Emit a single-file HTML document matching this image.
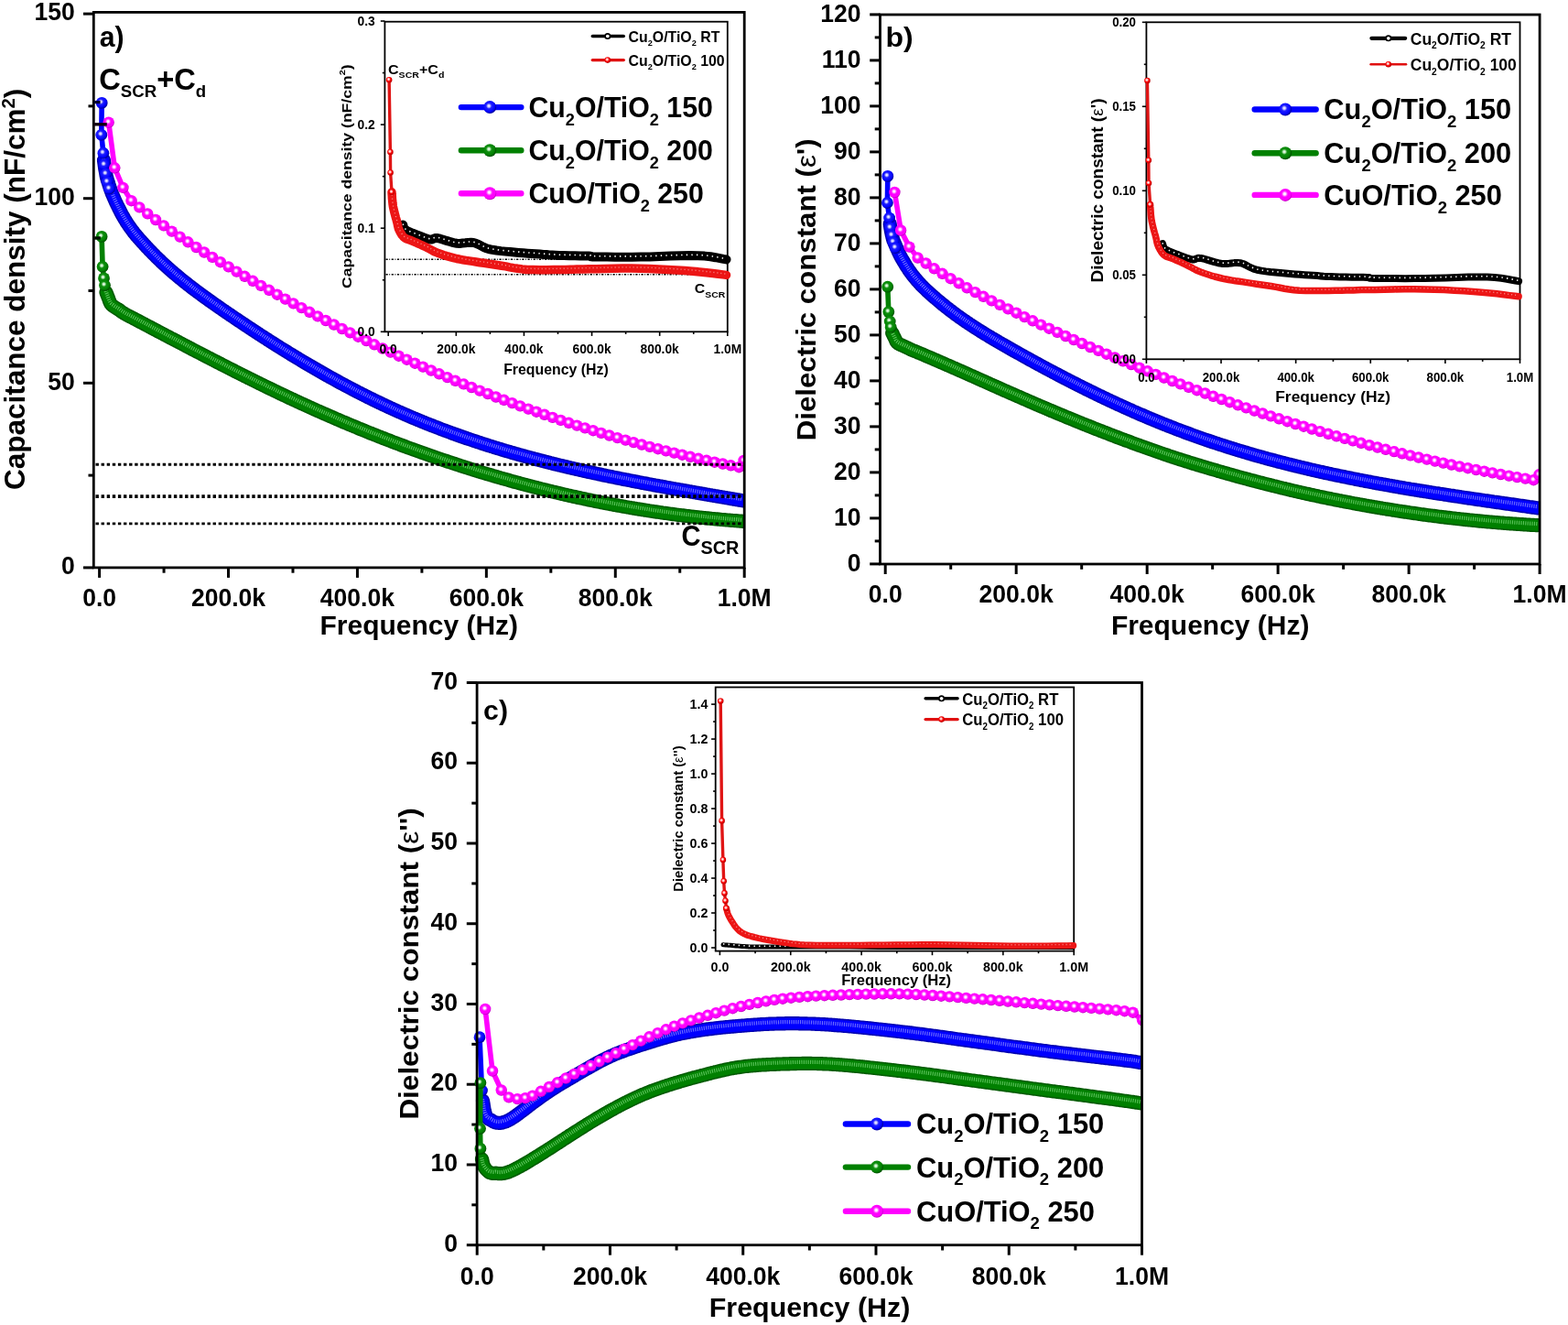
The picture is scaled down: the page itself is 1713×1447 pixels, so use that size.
<!DOCTYPE html><html><head><meta charset="utf-8"><title>Figure</title><style>html,body{margin:0;padding:0;background:#fff}svg{display:block}text{font-family:"Liberation Sans",Arial,sans-serif;font-weight:bold}</style></head><body>
<svg width="1713" height="1447" viewBox="0 0 1713 1447">
<defs>
<radialGradient id="gP" cx="0.45" cy="0.42" r="0.55"><stop offset="0" stop-color="#fff"/><stop offset="0.16" stop-color="#ffe6ff"/><stop offset="0.36" stop-color="#ff40ff"/><stop offset="0.5" stop-color="#f0f"/><stop offset="0.86" stop-color="#f0f"/><stop offset="1" stop-color="#c400c4"/></radialGradient>
<radialGradient id="gB" cx="0.42" cy="0.4" r="0.55"><stop offset="0" stop-color="#fff"/><stop offset="0.18" stop-color="#c0c0ff"/><stop offset="0.4" stop-color="#2020ff"/><stop offset="0.85" stop-color="#00f"/><stop offset="1" stop-color="#0000a8"/></radialGradient>
<radialGradient id="gG" cx="0.42" cy="0.4" r="0.55"><stop offset="0" stop-color="#fff"/><stop offset="0.18" stop-color="#b8e8b8"/><stop offset="0.4" stop-color="#109010"/><stop offset="0.85" stop-color="#008000"/><stop offset="1" stop-color="#005800"/></radialGradient>
<radialGradient id="gR" cx="0.42" cy="0.4" r="0.55"><stop offset="0" stop-color="#fff"/><stop offset="0.3" stop-color="#ffb0b0"/><stop offset="0.6" stop-color="#f00"/><stop offset="1" stop-color="#c00000"/></radialGradient>
<circle id="mP" r="6.2" fill="url(#gP)"/>
<circle id="mB" r="6.4" fill="url(#gB)"/>
<circle id="mG" r="6.4" fill="url(#gG)"/>
<circle id="mR" r="3.3" fill="url(#gR)"/>
<circle id="mK" r="2.7" fill="#fff" stroke="#000" stroke-width="1.7"/>
<circle id="mBL" r="7" fill="url(#gB)"/>
<circle id="mGL" r="7" fill="url(#gG)"/>
<circle id="mPL" r="7" fill="url(#gP)"/>
</defs>
<rect width="1713" height="1447" fill="#fff"/>
<line x1="91.00" y1="619.90" x2="102.30" y2="619.90" stroke="#000" stroke-width="3.00"/>
<line x1="91.00" y1="418.30" x2="102.30" y2="418.30" stroke="#000" stroke-width="3.00"/>
<line x1="91.00" y1="216.70" x2="102.30" y2="216.70" stroke="#000" stroke-width="3.00"/>
<line x1="91.00" y1="15.10" x2="102.30" y2="15.10" stroke="#000" stroke-width="3.00"/>
<line x1="96.50" y1="519.10" x2="102.30" y2="519.10" stroke="#000" stroke-width="3.00"/>
<line x1="96.50" y1="317.50" x2="102.30" y2="317.50" stroke="#000" stroke-width="3.00"/>
<line x1="96.50" y1="115.90" x2="102.30" y2="115.90" stroke="#000" stroke-width="3.00"/>
<line x1="108.60" y1="619.90" x2="108.60" y2="630.90" stroke="#000" stroke-width="3.00"/>
<line x1="249.52" y1="619.90" x2="249.52" y2="630.90" stroke="#000" stroke-width="3.00"/>
<line x1="390.44" y1="619.90" x2="390.44" y2="630.90" stroke="#000" stroke-width="3.00"/>
<line x1="531.36" y1="619.90" x2="531.36" y2="630.90" stroke="#000" stroke-width="3.00"/>
<line x1="672.28" y1="619.90" x2="672.28" y2="630.90" stroke="#000" stroke-width="3.00"/>
<line x1="813.20" y1="619.90" x2="813.20" y2="630.90" stroke="#000" stroke-width="3.00"/>
<line x1="179.06" y1="619.90" x2="179.06" y2="625.70" stroke="#000" stroke-width="3.00"/>
<line x1="319.98" y1="619.90" x2="319.98" y2="625.70" stroke="#000" stroke-width="3.00"/>
<line x1="460.90" y1="619.90" x2="460.90" y2="625.70" stroke="#000" stroke-width="3.00"/>
<line x1="601.82" y1="619.90" x2="601.82" y2="625.70" stroke="#000" stroke-width="3.00"/>
<line x1="742.74" y1="619.90" x2="742.74" y2="625.70" stroke="#000" stroke-width="3.00"/>
<text transform="translate(67.04,627.10) scale(0.9650,1)" font-size="27.50">0</text>
<text transform="translate(52.29,425.50) scale(0.9650,1)" font-size="27.50">50</text>
<text transform="translate(37.53,223.90) scale(0.9650,1)" font-size="27.50">100</text>
<text transform="translate(37.53,22.30) scale(0.9650,1)" font-size="27.50">150</text>
<text transform="translate(90.16,662.30) scale(0.9650,1)" font-size="27.50">0.0</text>
<text transform="translate(208.94,662.30) scale(0.9650,1)" font-size="27.50">200.0k</text>
<text transform="translate(349.86,662.30) scale(0.9650,1)" font-size="27.50">400.0k</text>
<text transform="translate(490.78,662.30) scale(0.9650,1)" font-size="27.50">600.0k</text>
<text transform="translate(631.70,662.30) scale(0.9650,1)" font-size="27.50">800.0k</text>
<text transform="translate(783.70,662.30) scale(0.9650,1)" font-size="27.50">1.0M</text>
<clipPath id="cp1"><rect x="96.30" y="13.40" width="716.90" height="606.50"/></clipPath><g clip-path="url(#cp1)">
<polyline points="111.2,112.4 110.8,147.3 112.9,167.2 114.1,180.0 115.8,190.0 117.4,198.7 119.5,206.1 113.5,175.0" fill="none" stroke="#0000ff" stroke-width="5.6" stroke-linejoin="round" stroke-linecap="round"/>
<path d="M113.5,175.0 L113.7,176.5 L113.9,178.0 L114.1,179.5 L114.3,180.9 L114.5,182.4 L114.7,183.9 L115.0,185.4 L115.3,186.9 L115.5,188.3 L115.8,189.8 L116.0,191.3 L116.3,192.8 L116.7,194.2 L117.1,195.7 L117.5,197.1 L118.0,198.5 L118.5,199.9 L118.9,201.3 L119.4,202.8 L119.8,204.2 L120.3,205.6 L120.8,207.0 L121.3,208.4 L121.8,209.8 L122.3,211.2 L122.9,212.6 L123.5,213.9 L124.1,215.3 L124.7,216.7 L125.3,218.1 L125.9,219.4 L126.5,220.8 L127.2,222.1 L127.8,223.5 L128.5,224.8 L129.2,226.2 L129.8,227.5 L130.5,228.9 L131.2,230.2 L131.8,231.5 L132.5,232.9 L133.2,234.2 L134.0,235.5 L134.7,236.8 L135.5,238.1 L136.2,239.4 L137.0,240.6 L137.8,241.9 L138.6,243.2 L139.4,244.4 L140.2,245.6 L141.1,246.9 L141.9,248.1 L142.8,249.3 L143.7,250.5 L144.6,251.7 L145.5,252.9 L146.4,254.1 L147.3,255.2 L148.3,256.4 L149.2,257.6 L150.2,258.7 L151.2,259.8 L152.2,261.0 L153.2,262.1 L154.2,263.2 L155.2,264.3 L156.2,265.4 L157.2,266.5 L158.2,267.6 L159.2,268.7 L160.2,269.8 L161.3,270.9 L162.3,272.0 L163.3,273.1 L164.4,274.2 L165.4,275.2 L166.5,276.3 L167.5,277.4 L168.6,278.4 L169.6,279.5 L170.7,280.6 L171.8,281.6 L172.8,282.6 L173.9,283.7 L175.0,284.7 L176.1,285.8 L177.2,286.8 L178.3,287.8 L179.4,288.8 L180.5,289.8 L181.6,290.9 L182.7,291.9 L183.8,292.9 L184.9,293.9 L186.1,294.8 L187.2,295.8 L188.3,296.8 L189.5,297.8 L190.6,298.8 L191.7,299.7 L192.9,300.7 L194.0,301.7 L195.2,302.6 L196.3,303.6 L197.5,304.5 L198.7,305.5 L199.8,306.4 L201.0,307.4 L202.2,308.3 L203.4,309.2 L204.5,310.2 L205.7,311.1 L206.9,312.0 L208.1,312.9 L209.3,313.8 L210.5,314.8 L211.7,315.7 L212.9,316.6 L214.1,317.5 L215.3,318.4 L216.5,319.3 L217.7,320.1 L218.9,321.0 L220.1,321.9 L221.3,322.8 L222.5,323.7 L223.7,324.6 L224.9,325.4 L226.2,326.3 L227.4,327.2 L228.6,328.1 L229.8,328.9 L231.1,329.8 L232.3,330.7 L233.5,331.5 L234.7,332.4 L236.0,333.2 L237.2,334.1 L238.4,335.0 L239.7,335.8 L240.9,336.7 L242.1,337.5 L243.4,338.4 L244.6,339.2 L245.8,340.1 L247.1,340.9 L248.3,341.8 L249.5,342.6 L250.8,343.4 L252.0,344.3 L253.3,345.1 L254.5,346.0 L255.7,346.8 L257.0,347.7 L258.2,348.5 L259.5,349.3 L260.7,350.2 L262.0,351.0 L263.2,351.8 L264.5,352.7 L265.7,353.5 L267.0,354.3 L268.2,355.2 L269.5,356.0 L270.7,356.8 L272.0,357.7 L273.2,358.5 L274.5,359.3 L275.7,360.1 L277.0,361.0 L278.2,361.8 L279.5,362.6 L280.7,363.4 L282.0,364.2 L283.2,365.1 L284.5,365.9 L285.8,366.7 L287.0,367.5 L288.3,368.3 L289.5,369.1 L290.8,369.9 L292.1,370.7 L293.3,371.6 L294.6,372.4 L295.9,373.2 L297.1,374.0 L298.4,374.8 L299.7,375.6 L300.9,376.4 L302.2,377.2 L303.5,378.0 L304.7,378.8 L306.0,379.6 L307.3,380.4 L308.6,381.2 L309.8,381.9 L311.1,382.7 L312.4,383.5 L313.7,384.3 L314.9,385.1 L316.2,385.9 L317.5,386.7 L318.8,387.5 L320.1,388.2 L321.3,389.0 L322.6,389.8 L323.9,390.6 L325.2,391.3 L326.5,392.1 L327.8,392.9 L329.1,393.7 L330.3,394.4 L331.6,395.2 L332.9,396.0 L334.2,396.7 L335.5,397.5 L336.8,398.2 L338.1,399.0 L339.4,399.8 L340.7,400.5 L342.0,401.3 L343.3,402.0 L344.6,402.8 L345.9,403.5 L347.2,404.3 L348.5,405.0 L349.8,405.8 L351.1,406.5 L352.4,407.3 L353.7,408.0 L355.0,408.7 L356.3,409.5 L357.6,410.2 L358.9,410.9 L360.2,411.7 L361.5,412.4 L362.8,413.1 L364.2,413.8 L365.5,414.6 L366.8,415.3 L368.1,416.0 L369.4,416.7 L370.7,417.5 L372.0,418.2 L373.4,418.9 L374.7,419.6 L376.0,420.3 L377.3,421.0 L378.7,421.7 L380.0,422.4 L381.3,423.1 L382.6,423.8 L384.0,424.5 L385.3,425.2 L386.6,425.9 L388.0,426.6 L389.3,427.3 L390.6,428.0 L392.0,428.7 L393.3,429.3 L394.6,430.0 L396.0,430.7 L397.3,431.4 L398.6,432.0 L400.0,432.7 L401.3,433.4 L402.7,434.1 L404.0,434.7 L405.4,435.4 L406.7,436.0 L408.0,436.7 L409.4,437.4 L410.7,438.0 L412.1,438.7 L413.5,439.3 L414.8,440.0 L416.2,440.6 L417.5,441.3 L418.9,441.9 L420.2,442.5 L421.6,443.2 L422.9,443.8 L424.3,444.4 L425.7,445.1 L427.0,445.7 L428.4,446.3 L429.8,446.9 L431.1,447.6 L432.5,448.2 L433.9,448.8 L435.2,449.4 L436.6,450.0 L438.0,450.6 L439.3,451.2 L440.7,451.8 L442.1,452.4 L443.5,453.0 L444.8,453.6 L446.2,454.2 L447.6,454.8 L449.0,455.4 L450.4,456.0 L451.7,456.6 L453.1,457.1 L454.5,457.7 L455.9,458.3 L457.3,458.9 L458.7,459.4 L460.1,460.0 L461.4,460.6 L462.8,461.1 L464.2,461.7 L465.6,462.3 L467.0,462.8 L468.4,463.4 L469.8,463.9 L471.2,464.5 L472.6,465.0 L474.0,465.6 L475.4,466.1 L476.8,466.6 L478.2,467.2 L479.6,467.7 L481.0,468.3 L482.4,468.8 L483.8,469.3 L485.2,469.8 L486.6,470.4 L488.0,470.9 L489.4,471.4 L490.8,471.9 L492.2,472.4 L493.6,473.0 L495.0,473.5 L496.5,474.0 L497.9,474.5 L499.3,475.0 L500.7,475.5 L502.1,476.0 L503.5,476.5 L504.9,477.0 L506.4,477.5 L507.8,478.0 L509.2,478.5 L510.6,479.0 L512.0,479.4 L513.4,479.9 L514.9,480.4 L516.3,480.9 L517.7,481.4 L519.1,481.8 L520.6,482.3 L522.0,482.8 L523.4,483.2 L524.8,483.7 L526.3,484.2 L527.7,484.6 L529.1,485.1 L530.5,485.5 L532.0,486.0 L533.4,486.5 L534.8,486.9 L536.3,487.4 L537.7,487.8 L539.1,488.2 L540.6,488.7 L542.0,489.1 L543.4,489.6 L544.9,490.0 L546.3,490.4 L547.7,490.9 L549.2,491.3 L550.6,491.7 L552.1,492.2 L553.5,492.6 L554.9,493.0 L556.4,493.4 L557.8,493.8 L559.2,494.3 L560.7,494.7 L562.1,495.1 L563.6,495.5 L565.0,495.9 L566.5,496.3 L567.9,496.7 L569.3,497.1 L570.8,497.5 L572.2,497.9 L573.7,498.3 L575.1,498.7 L576.6,499.1 L578.0,499.5 L579.5,499.9 L580.9,500.3 L582.4,500.7 L583.8,501.1 L585.3,501.5 L586.7,501.8 L588.2,502.2 L589.6,502.6 L591.1,503.0 L592.5,503.3 L594.0,503.7 L595.4,504.1 L596.9,504.5 L598.3,504.8 L599.8,505.2 L601.3,505.6 L602.7,505.9 L604.2,506.3 L605.6,506.7 L607.1,507.0 L608.5,507.4 L610.0,507.7 L611.4,508.1 L612.9,508.4 L614.4,508.8 L615.8,509.1 L617.3,509.5 L618.7,509.8 L620.2,510.2 L621.7,510.5 L623.1,510.9 L624.6,511.2 L626.0,511.5 L627.5,511.9 L629.0,512.2 L630.4,512.5 L631.9,512.9 L633.4,513.2 L634.8,513.5 L636.3,513.9 L637.7,514.2 L639.2,514.5 L640.7,514.9 L642.1,515.2 L643.6,515.5 L645.1,515.8 L646.5,516.1 L648.0,516.5 L649.5,516.8 L650.9,517.1 L652.4,517.4 L653.9,517.7 L655.3,518.0 L656.8,518.3 L658.3,518.7 L659.7,519.0 L661.2,519.3 L662.7,519.6 L664.1,519.9 L665.6,520.2 L667.1,520.5 L668.5,520.8 L670.0,521.1 L671.5,521.4 L673.0,521.7 L674.4,522.0 L675.9,522.3 L677.4,522.6 L678.8,522.9 L680.3,523.2 L681.8,523.5 L683.2,523.8 L684.7,524.0 L686.2,524.3 L687.7,524.6 L689.1,524.9 L690.6,525.2 L692.1,525.5 L693.6,525.8 L695.0,526.1 L696.5,526.3 L698.0,526.6 L699.4,526.9 L700.9,527.2 L702.4,527.5 L703.9,527.7 L705.3,528.0 L706.8,528.3 L708.3,528.6 L709.8,528.9 L711.2,529.1 L712.7,529.4 L714.2,529.7 L715.7,530.0 L717.1,530.2 L718.6,530.5 L720.1,530.8 L721.6,531.0 L723.0,531.3 L724.5,531.6 L726.0,531.8 L727.5,532.1 L728.9,532.4 L730.4,532.7 L731.9,532.9 L733.4,533.2 L734.8,533.5 L736.3,533.7 L737.8,534.0 L739.3,534.2 L740.7,534.5 L742.2,534.8 L743.7,535.0 L745.2,535.3 L746.7,535.6 L748.1,535.8 L749.6,536.1 L751.1,536.3 L752.6,536.6 L754.0,536.9 L755.5,537.1 L757.0,537.4 L758.5,537.6 L760.0,537.9 L761.4,538.2 L762.9,538.4 L764.4,538.7 L765.9,538.9 L767.3,539.2 L768.8,539.4 L770.3,539.7 L771.8,540.0 L773.3,540.2 L774.7,540.5 L776.2,540.7 L777.7,541.0 L779.2,541.2 L780.6,541.5 L782.1,541.7 L783.6,542.0 L785.1,542.3 L786.6,542.5 L788.0,542.8 L789.5,543.0 L791.0,543.3 L792.5,543.5 L793.9,543.8 L795.4,544.0 L796.9,544.3 L798.4,544.6 L799.9,544.8 L801.3,545.1 L802.8,545.3 L804.3,545.6 L805.8,545.8 L807.2,546.1 L808.7,546.3 L810.2,546.6 L811.7,546.9" fill="none" stroke="#0000b0" stroke-width="15.2" stroke-linejoin="round" stroke-linecap="round"/>
<path d="M113.5,175.0 L113.7,176.5 L113.9,178.0 L114.1,179.5 L114.3,180.9 L114.5,182.4 L114.7,183.9 L115.0,185.4 L115.3,186.9 L115.5,188.3 L115.8,189.8 L116.0,191.3 L116.3,192.8 L116.7,194.2 L117.1,195.7 L117.5,197.1 L118.0,198.5 L118.5,199.9 L118.9,201.3 L119.4,202.8 L119.8,204.2 L120.3,205.6 L120.8,207.0 L121.3,208.4 L121.8,209.8 L122.3,211.2 L122.9,212.6 L123.5,213.9 L124.1,215.3 L124.7,216.7 L125.3,218.1 L125.9,219.4 L126.5,220.8 L127.2,222.1 L127.8,223.5 L128.5,224.8 L129.2,226.2 L129.8,227.5 L130.5,228.9 L131.2,230.2 L131.8,231.5 L132.5,232.9 L133.2,234.2 L134.0,235.5 L134.7,236.8 L135.5,238.1 L136.2,239.4 L137.0,240.6 L137.8,241.9 L138.6,243.2 L139.4,244.4 L140.2,245.6 L141.1,246.9 L141.9,248.1 L142.8,249.3 L143.7,250.5 L144.6,251.7 L145.5,252.9 L146.4,254.1 L147.3,255.2 L148.3,256.4 L149.2,257.6 L150.2,258.7 L151.2,259.8 L152.2,261.0 L153.2,262.1 L154.2,263.2 L155.2,264.3 L156.2,265.4 L157.2,266.5 L158.2,267.6 L159.2,268.7 L160.2,269.8 L161.3,270.9 L162.3,272.0 L163.3,273.1 L164.4,274.2 L165.4,275.2 L166.5,276.3 L167.5,277.4 L168.6,278.4 L169.6,279.5 L170.7,280.6 L171.8,281.6 L172.8,282.6 L173.9,283.7 L175.0,284.7 L176.1,285.8 L177.2,286.8 L178.3,287.8 L179.4,288.8 L180.5,289.8 L181.6,290.9 L182.7,291.9 L183.8,292.9 L184.9,293.9 L186.1,294.8 L187.2,295.8 L188.3,296.8 L189.5,297.8 L190.6,298.8 L191.7,299.7 L192.9,300.7 L194.0,301.7 L195.2,302.6 L196.3,303.6 L197.5,304.5 L198.7,305.5 L199.8,306.4 L201.0,307.4 L202.2,308.3 L203.4,309.2 L204.5,310.2 L205.7,311.1 L206.9,312.0 L208.1,312.9 L209.3,313.8 L210.5,314.8 L211.7,315.7 L212.9,316.6 L214.1,317.5 L215.3,318.4 L216.5,319.3 L217.7,320.1 L218.9,321.0 L220.1,321.9 L221.3,322.8 L222.5,323.7 L223.7,324.6 L224.9,325.4 L226.2,326.3 L227.4,327.2 L228.6,328.1 L229.8,328.9 L231.1,329.8 L232.3,330.7 L233.5,331.5 L234.7,332.4 L236.0,333.2 L237.2,334.1 L238.4,335.0 L239.7,335.8 L240.9,336.7 L242.1,337.5 L243.4,338.4 L244.6,339.2 L245.8,340.1 L247.1,340.9 L248.3,341.8 L249.5,342.6 L250.8,343.4 L252.0,344.3 L253.3,345.1 L254.5,346.0 L255.7,346.8 L257.0,347.7 L258.2,348.5 L259.5,349.3 L260.7,350.2 L262.0,351.0 L263.2,351.8 L264.5,352.7 L265.7,353.5 L267.0,354.3 L268.2,355.2 L269.5,356.0 L270.7,356.8 L272.0,357.7 L273.2,358.5 L274.5,359.3 L275.7,360.1 L277.0,361.0 L278.2,361.8 L279.5,362.6 L280.7,363.4 L282.0,364.2 L283.2,365.1 L284.5,365.9 L285.8,366.7 L287.0,367.5 L288.3,368.3 L289.5,369.1 L290.8,369.9 L292.1,370.7 L293.3,371.6 L294.6,372.4 L295.9,373.2 L297.1,374.0 L298.4,374.8 L299.7,375.6 L300.9,376.4 L302.2,377.2 L303.5,378.0 L304.7,378.8 L306.0,379.6 L307.3,380.4 L308.6,381.2 L309.8,381.9 L311.1,382.7 L312.4,383.5 L313.7,384.3 L314.9,385.1 L316.2,385.9 L317.5,386.7 L318.8,387.5 L320.1,388.2 L321.3,389.0 L322.6,389.8 L323.9,390.6 L325.2,391.3 L326.5,392.1 L327.8,392.9 L329.1,393.7 L330.3,394.4 L331.6,395.2 L332.9,396.0 L334.2,396.7 L335.5,397.5 L336.8,398.2 L338.1,399.0 L339.4,399.8 L340.7,400.5 L342.0,401.3 L343.3,402.0 L344.6,402.8 L345.9,403.5 L347.2,404.3 L348.5,405.0 L349.8,405.8 L351.1,406.5 L352.4,407.3 L353.7,408.0 L355.0,408.7 L356.3,409.5 L357.6,410.2 L358.9,410.9 L360.2,411.7 L361.5,412.4 L362.8,413.1 L364.2,413.8 L365.5,414.6 L366.8,415.3 L368.1,416.0 L369.4,416.7 L370.7,417.5 L372.0,418.2 L373.4,418.9 L374.7,419.6 L376.0,420.3 L377.3,421.0 L378.7,421.7 L380.0,422.4 L381.3,423.1 L382.6,423.8 L384.0,424.5 L385.3,425.2 L386.6,425.9 L388.0,426.6 L389.3,427.3 L390.6,428.0 L392.0,428.7 L393.3,429.3 L394.6,430.0 L396.0,430.7 L397.3,431.4 L398.6,432.0 L400.0,432.7 L401.3,433.4 L402.7,434.1 L404.0,434.7 L405.4,435.4 L406.7,436.0 L408.0,436.7 L409.4,437.4 L410.7,438.0 L412.1,438.7 L413.5,439.3 L414.8,440.0 L416.2,440.6 L417.5,441.3 L418.9,441.9 L420.2,442.5 L421.6,443.2 L422.9,443.8 L424.3,444.4 L425.7,445.1 L427.0,445.7 L428.4,446.3 L429.8,446.9 L431.1,447.6 L432.5,448.2 L433.9,448.8 L435.2,449.4 L436.6,450.0 L438.0,450.6 L439.3,451.2 L440.7,451.8 L442.1,452.4 L443.5,453.0 L444.8,453.6 L446.2,454.2 L447.6,454.8 L449.0,455.4 L450.4,456.0 L451.7,456.6 L453.1,457.1 L454.5,457.7 L455.9,458.3 L457.3,458.9 L458.7,459.4 L460.1,460.0 L461.4,460.6 L462.8,461.1 L464.2,461.7 L465.6,462.3 L467.0,462.8 L468.4,463.4 L469.8,463.9 L471.2,464.5 L472.6,465.0 L474.0,465.6 L475.4,466.1 L476.8,466.6 L478.2,467.2 L479.6,467.7 L481.0,468.3 L482.4,468.8 L483.8,469.3 L485.2,469.8 L486.6,470.4 L488.0,470.9 L489.4,471.4 L490.8,471.9 L492.2,472.4 L493.6,473.0 L495.0,473.5 L496.5,474.0 L497.9,474.5 L499.3,475.0 L500.7,475.5 L502.1,476.0 L503.5,476.5 L504.9,477.0 L506.4,477.5 L507.8,478.0 L509.2,478.5 L510.6,479.0 L512.0,479.4 L513.4,479.9 L514.9,480.4 L516.3,480.9 L517.7,481.4 L519.1,481.8 L520.6,482.3 L522.0,482.8 L523.4,483.2 L524.8,483.7 L526.3,484.2 L527.7,484.6 L529.1,485.1 L530.5,485.5 L532.0,486.0 L533.4,486.5 L534.8,486.9 L536.3,487.4 L537.7,487.8 L539.1,488.2 L540.6,488.7 L542.0,489.1 L543.4,489.6 L544.9,490.0 L546.3,490.4 L547.7,490.9 L549.2,491.3 L550.6,491.7 L552.1,492.2 L553.5,492.6 L554.9,493.0 L556.4,493.4 L557.8,493.8 L559.2,494.3 L560.7,494.7 L562.1,495.1 L563.6,495.5 L565.0,495.9 L566.5,496.3 L567.9,496.7 L569.3,497.1 L570.8,497.5 L572.2,497.9 L573.7,498.3 L575.1,498.7 L576.6,499.1 L578.0,499.5 L579.5,499.9 L580.9,500.3 L582.4,500.7 L583.8,501.1 L585.3,501.5 L586.7,501.8 L588.2,502.2 L589.6,502.6 L591.1,503.0 L592.5,503.3 L594.0,503.7 L595.4,504.1 L596.9,504.5 L598.3,504.8 L599.8,505.2 L601.3,505.6 L602.7,505.9 L604.2,506.3 L605.6,506.7 L607.1,507.0 L608.5,507.4 L610.0,507.7 L611.4,508.1 L612.9,508.4 L614.4,508.8 L615.8,509.1 L617.3,509.5 L618.7,509.8 L620.2,510.2 L621.7,510.5 L623.1,510.9 L624.6,511.2 L626.0,511.5 L627.5,511.9 L629.0,512.2 L630.4,512.5 L631.9,512.9 L633.4,513.2 L634.8,513.5 L636.3,513.9 L637.7,514.2 L639.2,514.5 L640.7,514.9 L642.1,515.2 L643.6,515.5 L645.1,515.8 L646.5,516.1 L648.0,516.5 L649.5,516.8 L650.9,517.1 L652.4,517.4 L653.9,517.7 L655.3,518.0 L656.8,518.3 L658.3,518.7 L659.7,519.0 L661.2,519.3 L662.7,519.6 L664.1,519.9 L665.6,520.2 L667.1,520.5 L668.5,520.8 L670.0,521.1 L671.5,521.4 L673.0,521.7 L674.4,522.0 L675.9,522.3 L677.4,522.6 L678.8,522.9 L680.3,523.2 L681.8,523.5 L683.2,523.8 L684.7,524.0 L686.2,524.3 L687.7,524.6 L689.1,524.9 L690.6,525.2 L692.1,525.5 L693.6,525.8 L695.0,526.1 L696.5,526.3 L698.0,526.6 L699.4,526.9 L700.9,527.2 L702.4,527.5 L703.9,527.7 L705.3,528.0 L706.8,528.3 L708.3,528.6 L709.8,528.9 L711.2,529.1 L712.7,529.4 L714.2,529.7 L715.7,530.0 L717.1,530.2 L718.6,530.5 L720.1,530.8 L721.6,531.0 L723.0,531.3 L724.5,531.6 L726.0,531.8 L727.5,532.1 L728.9,532.4 L730.4,532.7 L731.9,532.9 L733.4,533.2 L734.8,533.5 L736.3,533.7 L737.8,534.0 L739.3,534.2 L740.7,534.5 L742.2,534.8 L743.7,535.0 L745.2,535.3 L746.7,535.6 L748.1,535.8 L749.6,536.1 L751.1,536.3 L752.6,536.6 L754.0,536.9 L755.5,537.1 L757.0,537.4 L758.5,537.6 L760.0,537.9 L761.4,538.2 L762.9,538.4 L764.4,538.7 L765.9,538.9 L767.3,539.2 L768.8,539.4 L770.3,539.7 L771.8,540.0 L773.3,540.2 L774.7,540.5 L776.2,540.7 L777.7,541.0 L779.2,541.2 L780.6,541.5 L782.1,541.7 L783.6,542.0 L785.1,542.3 L786.6,542.5 L788.0,542.8 L789.5,543.0 L791.0,543.3 L792.5,543.5 L793.9,543.8 L795.4,544.0 L796.9,544.3 L798.4,544.6 L799.9,544.8 L801.3,545.1 L802.8,545.3 L804.3,545.6 L805.8,545.8 L807.2,546.1 L808.7,546.3 L810.2,546.6 L811.7,546.9" fill="none" stroke="#0000ff" stroke-width="12.0" stroke-linejoin="round" stroke-linecap="round"/>
<path d="M113.5,175.0 L113.7,176.5 L113.9,178.0 L114.1,179.5 L114.3,180.9 L114.5,182.4 L114.7,183.9 L115.0,185.4 L115.3,186.9 L115.5,188.3 L115.8,189.8 L116.0,191.3 L116.3,192.8 L116.7,194.2 L117.1,195.7 L117.5,197.1 L118.0,198.5 L118.5,199.9 L118.9,201.3 L119.4,202.8 L119.8,204.2 L120.3,205.6 L120.8,207.0 L121.3,208.4 L121.8,209.8 L122.3,211.2 L122.9,212.6 L123.5,213.9 L124.1,215.3 L124.7,216.7 L125.3,218.1 L125.9,219.4 L126.5,220.8 L127.2,222.1 L127.8,223.5 L128.5,224.8 L129.2,226.2 L129.8,227.5 L130.5,228.9 L131.2,230.2 L131.8,231.5 L132.5,232.9 L133.2,234.2 L134.0,235.5 L134.7,236.8 L135.5,238.1 L136.2,239.4 L137.0,240.6 L137.8,241.9 L138.6,243.2 L139.4,244.4 L140.2,245.6 L141.1,246.9 L141.9,248.1 L142.8,249.3 L143.7,250.5 L144.6,251.7 L145.5,252.9 L146.4,254.1 L147.3,255.2 L148.3,256.4 L149.2,257.6 L150.2,258.7 L151.2,259.8 L152.2,261.0 L153.2,262.1 L154.2,263.2 L155.2,264.3 L156.2,265.4 L157.2,266.5 L158.2,267.6 L159.2,268.7 L160.2,269.8 L161.3,270.9 L162.3,272.0 L163.3,273.1 L164.4,274.2 L165.4,275.2 L166.5,276.3 L167.5,277.4 L168.6,278.4 L169.6,279.5 L170.7,280.6 L171.8,281.6 L172.8,282.6 L173.9,283.7 L175.0,284.7 L176.1,285.8 L177.2,286.8 L178.3,287.8 L179.4,288.8 L180.5,289.8 L181.6,290.9 L182.7,291.9 L183.8,292.9 L184.9,293.9 L186.1,294.8 L187.2,295.8 L188.3,296.8 L189.5,297.8 L190.6,298.8 L191.7,299.7 L192.9,300.7 L194.0,301.7 L195.2,302.6 L196.3,303.6 L197.5,304.5 L198.7,305.5 L199.8,306.4 L201.0,307.4 L202.2,308.3 L203.4,309.2 L204.5,310.2 L205.7,311.1 L206.9,312.0 L208.1,312.9 L209.3,313.8 L210.5,314.8 L211.7,315.7 L212.9,316.6 L214.1,317.5 L215.3,318.4 L216.5,319.3 L217.7,320.1 L218.9,321.0 L220.1,321.9 L221.3,322.8 L222.5,323.7 L223.7,324.6 L224.9,325.4 L226.2,326.3 L227.4,327.2 L228.6,328.1 L229.8,328.9 L231.1,329.8 L232.3,330.7 L233.5,331.5 L234.7,332.4 L236.0,333.2 L237.2,334.1 L238.4,335.0 L239.7,335.8 L240.9,336.7 L242.1,337.5 L243.4,338.4 L244.6,339.2 L245.8,340.1 L247.1,340.9 L248.3,341.8 L249.5,342.6 L250.8,343.4 L252.0,344.3 L253.3,345.1 L254.5,346.0 L255.7,346.8 L257.0,347.7 L258.2,348.5 L259.5,349.3 L260.7,350.2 L262.0,351.0 L263.2,351.8 L264.5,352.7 L265.7,353.5 L267.0,354.3 L268.2,355.2 L269.5,356.0 L270.7,356.8 L272.0,357.7 L273.2,358.5 L274.5,359.3 L275.7,360.1 L277.0,361.0 L278.2,361.8 L279.5,362.6 L280.7,363.4 L282.0,364.2 L283.2,365.1 L284.5,365.9 L285.8,366.7 L287.0,367.5 L288.3,368.3 L289.5,369.1 L290.8,369.9 L292.1,370.7 L293.3,371.6 L294.6,372.4 L295.9,373.2 L297.1,374.0 L298.4,374.8 L299.7,375.6 L300.9,376.4 L302.2,377.2 L303.5,378.0 L304.7,378.8 L306.0,379.6 L307.3,380.4 L308.6,381.2 L309.8,381.9 L311.1,382.7 L312.4,383.5 L313.7,384.3 L314.9,385.1 L316.2,385.9 L317.5,386.7 L318.8,387.5 L320.1,388.2 L321.3,389.0 L322.6,389.8 L323.9,390.6 L325.2,391.3 L326.5,392.1 L327.8,392.9 L329.1,393.7 L330.3,394.4 L331.6,395.2 L332.9,396.0 L334.2,396.7 L335.5,397.5 L336.8,398.2 L338.1,399.0 L339.4,399.8 L340.7,400.5 L342.0,401.3 L343.3,402.0 L344.6,402.8 L345.9,403.5 L347.2,404.3 L348.5,405.0 L349.8,405.8 L351.1,406.5 L352.4,407.3 L353.7,408.0 L355.0,408.7 L356.3,409.5 L357.6,410.2 L358.9,410.9 L360.2,411.7 L361.5,412.4 L362.8,413.1 L364.2,413.8 L365.5,414.6 L366.8,415.3 L368.1,416.0 L369.4,416.7 L370.7,417.5 L372.0,418.2 L373.4,418.9 L374.7,419.6 L376.0,420.3 L377.3,421.0 L378.7,421.7 L380.0,422.4 L381.3,423.1 L382.6,423.8 L384.0,424.5 L385.3,425.2 L386.6,425.9 L388.0,426.6 L389.3,427.3 L390.6,428.0 L392.0,428.7 L393.3,429.3 L394.6,430.0 L396.0,430.7 L397.3,431.4 L398.6,432.0 L400.0,432.7 L401.3,433.4 L402.7,434.1 L404.0,434.7 L405.4,435.4 L406.7,436.0 L408.0,436.7 L409.4,437.4 L410.7,438.0 L412.1,438.7 L413.5,439.3 L414.8,440.0 L416.2,440.6 L417.5,441.3 L418.9,441.9 L420.2,442.5 L421.6,443.2 L422.9,443.8 L424.3,444.4 L425.7,445.1 L427.0,445.7 L428.4,446.3 L429.8,446.9 L431.1,447.6 L432.5,448.2 L433.9,448.8 L435.2,449.4 L436.6,450.0 L438.0,450.6 L439.3,451.2 L440.7,451.8 L442.1,452.4 L443.5,453.0 L444.8,453.6 L446.2,454.2 L447.6,454.8 L449.0,455.4 L450.4,456.0 L451.7,456.6 L453.1,457.1 L454.5,457.7 L455.9,458.3 L457.3,458.9 L458.7,459.4 L460.1,460.0 L461.4,460.6 L462.8,461.1 L464.2,461.7 L465.6,462.3 L467.0,462.8 L468.4,463.4 L469.8,463.9 L471.2,464.5 L472.6,465.0 L474.0,465.6 L475.4,466.1 L476.8,466.6 L478.2,467.2 L479.6,467.7 L481.0,468.3 L482.4,468.8 L483.8,469.3 L485.2,469.8 L486.6,470.4 L488.0,470.9 L489.4,471.4 L490.8,471.9 L492.2,472.4 L493.6,473.0 L495.0,473.5 L496.5,474.0 L497.9,474.5 L499.3,475.0 L500.7,475.5 L502.1,476.0 L503.5,476.5 L504.9,477.0 L506.4,477.5 L507.8,478.0 L509.2,478.5 L510.6,479.0 L512.0,479.4 L513.4,479.9 L514.9,480.4 L516.3,480.9 L517.7,481.4 L519.1,481.8 L520.6,482.3 L522.0,482.8 L523.4,483.2 L524.8,483.7 L526.3,484.2 L527.7,484.6 L529.1,485.1 L530.5,485.5 L532.0,486.0 L533.4,486.5 L534.8,486.9 L536.3,487.4 L537.7,487.8 L539.1,488.2 L540.6,488.7 L542.0,489.1 L543.4,489.6 L544.9,490.0 L546.3,490.4 L547.7,490.9 L549.2,491.3 L550.6,491.7 L552.1,492.2 L553.5,492.6 L554.9,493.0 L556.4,493.4 L557.8,493.8 L559.2,494.3 L560.7,494.7 L562.1,495.1 L563.6,495.5 L565.0,495.9 L566.5,496.3 L567.9,496.7 L569.3,497.1 L570.8,497.5 L572.2,497.9 L573.7,498.3 L575.1,498.7 L576.6,499.1 L578.0,499.5 L579.5,499.9 L580.9,500.3 L582.4,500.7 L583.8,501.1 L585.3,501.5 L586.7,501.8 L588.2,502.2 L589.6,502.6 L591.1,503.0 L592.5,503.3 L594.0,503.7 L595.4,504.1 L596.9,504.5 L598.3,504.8 L599.8,505.2 L601.3,505.6 L602.7,505.9 L604.2,506.3 L605.6,506.7 L607.1,507.0 L608.5,507.4 L610.0,507.7 L611.4,508.1 L612.9,508.4 L614.4,508.8 L615.8,509.1 L617.3,509.5 L618.7,509.8 L620.2,510.2 L621.7,510.5 L623.1,510.9 L624.6,511.2 L626.0,511.5 L627.5,511.9 L629.0,512.2 L630.4,512.5 L631.9,512.9 L633.4,513.2 L634.8,513.5 L636.3,513.9 L637.7,514.2 L639.2,514.5 L640.7,514.9 L642.1,515.2 L643.6,515.5 L645.1,515.8 L646.5,516.1 L648.0,516.5 L649.5,516.8 L650.9,517.1 L652.4,517.4 L653.9,517.7 L655.3,518.0 L656.8,518.3 L658.3,518.7 L659.7,519.0 L661.2,519.3 L662.7,519.6 L664.1,519.9 L665.6,520.2 L667.1,520.5 L668.5,520.8 L670.0,521.1 L671.5,521.4 L673.0,521.7 L674.4,522.0 L675.9,522.3 L677.4,522.6 L678.8,522.9 L680.3,523.2 L681.8,523.5 L683.2,523.8 L684.7,524.0 L686.2,524.3 L687.7,524.6 L689.1,524.9 L690.6,525.2 L692.1,525.5 L693.6,525.8 L695.0,526.1 L696.5,526.3 L698.0,526.6 L699.4,526.9 L700.9,527.2 L702.4,527.5 L703.9,527.7 L705.3,528.0 L706.8,528.3 L708.3,528.6 L709.8,528.9 L711.2,529.1 L712.7,529.4 L714.2,529.7 L715.7,530.0 L717.1,530.2 L718.6,530.5 L720.1,530.8 L721.6,531.0 L723.0,531.3 L724.5,531.6 L726.0,531.8 L727.5,532.1 L728.9,532.4 L730.4,532.7 L731.9,532.9 L733.4,533.2 L734.8,533.5 L736.3,533.7 L737.8,534.0 L739.3,534.2 L740.7,534.5 L742.2,534.8 L743.7,535.0 L745.2,535.3 L746.7,535.6 L748.1,535.8 L749.6,536.1 L751.1,536.3 L752.6,536.6 L754.0,536.9 L755.5,537.1 L757.0,537.4 L758.5,537.6 L760.0,537.9 L761.4,538.2 L762.9,538.4 L764.4,538.7 L765.9,538.9 L767.3,539.2 L768.8,539.4 L770.3,539.7 L771.8,540.0 L773.3,540.2 L774.7,540.5 L776.2,540.7 L777.7,541.0 L779.2,541.2 L780.6,541.5 L782.1,541.7 L783.6,542.0 L785.1,542.3 L786.6,542.5 L788.0,542.8 L789.5,543.0 L791.0,543.3 L792.5,543.5 L793.9,543.8 L795.4,544.0 L796.9,544.3 L798.4,544.6 L799.9,544.8 L801.3,545.1 L802.8,545.3 L804.3,545.6 L805.8,545.8 L807.2,546.1 L808.7,546.3 L810.2,546.6 L811.7,546.9" fill="none" stroke="#7c7cff" stroke-width="4.2" stroke-dasharray="1.1 1.3" opacity="0.9" transform="translate(-0.5,-1.6)"/>
<use href="#mB" x="111.2" y="112.4"/>
<use href="#mB" x="110.8" y="147.3"/>
<use href="#mB" x="112.9" y="167.2"/>
<use href="#mB" x="114.1" y="180.0"/>
<use href="#mB" x="115.8" y="190.0"/>
<use href="#mB" x="117.4" y="198.7"/>
<use href="#mB" x="119.5" y="206.1"/>
<polyline points="111.1,258.4 112.1,291.3 113.5,303.9 114.5,311.6 116.0,319.3" fill="none" stroke="#008000" stroke-width="5.6" stroke-linejoin="round" stroke-linecap="round"/>
<path d="M116.0,319.3 L116.5,320.7 L117.1,322.1 L117.6,323.5 L118.2,324.9 L118.7,326.3 L119.2,327.7 L119.7,329.1 L120.3,330.5 L121.0,331.8 L121.9,332.9 L123.0,333.8 L124.1,334.6 L125.3,335.5 L126.5,336.3 L127.7,337.0 L129.0,337.8 L130.3,338.5 L131.4,339.4 L132.5,340.3 L133.7,341.1 L135.0,341.9 L136.2,342.6 L137.5,343.4 L138.8,344.1 L140.1,344.8 L141.5,345.5 L142.8,346.1 L144.1,346.8 L145.5,347.5 L146.8,348.2 L148.1,348.9 L149.4,349.6 L150.8,350.3 L152.1,351.0 L153.4,351.7 L154.8,352.4 L156.1,353.1 L157.4,353.8 L158.7,354.5 L160.1,355.2 L161.4,355.9 L162.7,356.6 L164.1,357.3 L165.4,358.0 L166.7,358.7 L168.0,359.4 L169.4,360.1 L170.7,360.8 L172.0,361.5 L173.3,362.2 L174.7,362.9 L176.0,363.6 L177.3,364.3 L178.7,365.0 L180.0,365.7 L181.3,366.4 L182.6,367.1 L184.0,367.8 L185.3,368.5 L186.6,369.2 L188.0,369.9 L189.3,370.5 L190.6,371.2 L191.9,371.9 L193.3,372.6 L194.6,373.3 L195.9,374.0 L197.3,374.7 L198.6,375.4 L199.9,376.1 L201.2,376.8 L202.6,377.5 L203.9,378.2 L205.2,378.9 L206.6,379.6 L207.9,380.3 L209.2,381.0 L210.5,381.7 L211.9,382.4 L213.2,383.1 L214.5,383.8 L215.9,384.4 L217.2,385.1 L218.5,385.8 L219.9,386.5 L221.2,387.2 L222.5,387.9 L223.9,388.6 L225.2,389.3 L226.5,390.0 L227.9,390.7 L229.2,391.3 L230.5,392.0 L231.9,392.7 L233.2,393.4 L234.5,394.1 L235.9,394.8 L237.2,395.5 L238.5,396.1 L239.9,396.8 L241.2,397.5 L242.5,398.2 L243.9,398.9 L245.2,399.6 L246.5,400.2 L247.9,400.9 L249.2,401.6 L250.5,402.3 L251.9,403.0 L253.2,403.6 L254.6,404.3 L255.9,405.0 L257.2,405.7 L258.6,406.4 L259.9,407.0 L261.3,407.7 L262.6,408.4 L263.9,409.1 L265.3,409.7 L266.6,410.4 L268.0,411.1 L269.3,411.7 L270.6,412.4 L272.0,413.1 L273.3,413.7 L274.7,414.4 L276.0,415.1 L277.4,415.7 L278.7,416.4 L280.0,417.1 L281.4,417.7 L282.7,418.4 L284.1,419.1 L285.4,419.7 L286.8,420.4 L288.1,421.0 L289.5,421.7 L290.8,422.4 L292.2,423.0 L293.5,423.7 L294.9,424.3 L296.2,425.0 L297.6,425.6 L298.9,426.3 L300.3,426.9 L301.6,427.6 L303.0,428.2 L304.3,428.9 L305.7,429.5 L307.0,430.2 L308.4,430.8 L309.7,431.5 L311.1,432.1 L312.5,432.7 L313.8,433.4 L315.2,434.0 L316.5,434.7 L317.9,435.3 L319.2,435.9 L320.6,436.6 L322.0,437.2 L323.3,437.8 L324.7,438.5 L326.0,439.1 L327.4,439.7 L328.8,440.4 L330.1,441.0 L331.5,441.6 L332.9,442.2 L334.2,442.8 L335.6,443.5 L337.0,444.1 L338.3,444.7 L339.7,445.3 L341.1,445.9 L342.4,446.6 L343.8,447.2 L345.2,447.8 L346.5,448.4 L347.9,449.0 L349.3,449.6 L350.6,450.2 L352.0,450.8 L353.4,451.4 L354.8,452.0 L356.1,452.6 L357.5,453.2 L358.9,453.8 L360.3,454.4 L361.6,455.0 L363.0,455.6 L364.4,456.2 L365.8,456.8 L367.1,457.4 L368.5,458.0 L369.9,458.6 L371.3,459.2 L372.7,459.8 L374.0,460.4 L375.4,461.0 L376.8,461.5 L378.2,462.1 L379.6,462.7 L380.9,463.3 L382.3,463.9 L383.7,464.4 L385.1,465.0 L386.5,465.6 L387.9,466.2 L389.3,466.7 L390.6,467.3 L392.0,467.9 L393.4,468.5 L394.8,469.0 L396.2,469.6 L397.6,470.2 L399.0,470.7 L400.4,471.3 L401.8,471.8 L403.1,472.4 L404.5,473.0 L405.9,473.5 L407.3,474.1 L408.7,474.6 L410.1,475.2 L411.5,475.7 L412.9,476.3 L414.3,476.8 L415.7,477.4 L417.1,477.9 L418.5,478.5 L419.9,479.0 L421.3,479.6 L422.7,480.1 L424.1,480.6 L425.5,481.2 L426.9,481.7 L428.3,482.3 L429.7,482.8 L431.1,483.3 L432.5,483.9 L433.9,484.4 L435.3,484.9 L436.7,485.4 L438.1,486.0 L439.5,486.5 L440.9,487.0 L442.3,487.5 L443.7,488.1 L445.1,488.6 L446.5,489.1 L448.0,489.6 L449.4,490.1 L450.8,490.6 L452.2,491.2 L453.6,491.7 L455.0,492.2 L456.4,492.7 L457.8,493.2 L459.2,493.7 L460.7,494.2 L462.1,494.7 L463.5,495.2 L464.9,495.7 L466.3,496.2 L467.7,496.7 L469.1,497.2 L470.6,497.7 L472.0,498.2 L473.4,498.7 L474.8,499.2 L476.2,499.7 L477.6,500.1 L479.1,500.6 L480.5,501.1 L481.9,501.6 L483.3,502.1 L484.7,502.6 L486.2,503.0 L487.6,503.5 L489.0,504.0 L490.4,504.5 L491.9,504.9 L493.3,505.4 L494.7,505.9 L496.1,506.3 L497.6,506.8 L499.0,507.3 L500.4,507.7 L501.8,508.2 L503.3,508.7 L504.7,509.1 L506.1,509.6 L507.5,510.0 L509.0,510.5 L510.4,510.9 L511.8,511.4 L513.3,511.8 L514.7,512.3 L516.1,512.7 L517.6,513.2 L519.0,513.6 L520.4,514.1 L521.9,514.5 L523.3,515.0 L524.7,515.4 L526.2,515.8 L527.6,516.3 L529.0,516.7 L530.5,517.1 L531.9,517.6 L533.3,518.0 L534.8,518.4 L536.2,518.8 L537.7,519.3 L539.1,519.7 L540.5,520.1 L542.0,520.5 L543.4,521.0 L544.9,521.4 L546.3,521.8 L547.7,522.2 L549.2,522.6 L550.6,523.0 L552.1,523.4 L553.5,523.8 L555.0,524.2 L556.4,524.6 L557.8,525.1 L559.3,525.5 L560.7,525.9 L562.2,526.3 L563.6,526.6 L565.1,527.0 L566.5,527.4 L568.0,527.8 L569.4,528.2 L570.9,528.6 L572.3,529.0 L573.8,529.4 L575.2,529.8 L576.7,530.1 L578.1,530.5 L579.6,530.9 L581.0,531.3 L582.5,531.7 L583.9,532.0 L585.4,532.4 L586.8,532.8 L588.3,533.1 L589.7,533.5 L591.2,533.9 L592.7,534.2 L594.1,534.6 L595.6,535.0 L597.0,535.3 L598.5,535.7 L599.9,536.0 L601.4,536.4 L602.8,536.8 L604.3,537.1 L605.8,537.5 L607.2,537.8 L608.7,538.1 L610.1,538.5 L611.6,538.8 L613.1,539.2 L614.5,539.5 L616.0,539.9 L617.4,540.2 L618.9,540.5 L620.4,540.9 L621.8,541.2 L623.3,541.5 L624.8,541.9 L626.2,542.2 L627.7,542.5 L629.2,542.8 L630.6,543.2 L632.1,543.5 L633.6,543.8 L635.0,544.1 L636.5,544.4 L638.0,544.7 L639.4,545.0 L640.9,545.4 L642.4,545.7 L643.8,546.0 L645.3,546.3 L646.8,546.6 L648.2,546.9 L649.7,547.2 L651.2,547.5 L652.6,547.8 L654.1,548.1 L655.6,548.4 L657.1,548.7 L658.5,548.9 L660.0,549.2 L661.5,549.5 L662.9,549.8 L664.4,550.1 L665.9,550.4 L667.4,550.6 L668.8,550.9 L670.3,551.2 L671.8,551.5 L673.3,551.7 L674.7,552.0 L676.2,552.3 L677.7,552.5 L679.2,552.8 L680.6,553.1 L682.1,553.3 L683.6,553.6 L685.1,553.9 L686.5,554.1 L688.0,554.4 L689.5,554.6 L691.0,554.9 L692.5,555.1 L693.9,555.4 L695.4,555.6 L696.9,555.9 L698.4,556.1 L699.9,556.3 L701.3,556.6 L702.8,556.8 L704.3,557.1 L705.8,557.3 L707.3,557.5 L708.8,557.8 L710.2,558.0 L711.7,558.2 L713.2,558.4 L714.7,558.7 L716.2,558.9 L717.7,559.1 L719.1,559.3 L720.6,559.5 L722.1,559.7 L723.6,560.0 L725.1,560.2 L726.6,560.4 L728.0,560.6 L729.5,560.8 L731.0,561.0 L732.5,561.2 L734.0,561.4 L735.5,561.6 L737.0,561.8 L738.5,562.0 L739.9,562.2 L741.4,562.4 L742.9,562.5 L744.4,562.7 L745.9,562.9 L747.4,563.1 L748.9,563.3 L750.4,563.5 L751.8,563.6 L753.3,563.8 L754.8,564.0 L756.3,564.2 L757.8,564.3 L759.3,564.5 L760.8,564.7 L762.3,564.8 L763.8,565.0 L765.3,565.2 L766.8,565.3 L768.2,565.5 L769.7,565.6 L771.2,565.8 L772.7,565.9 L774.2,566.1 L775.7,566.2 L777.2,566.4 L778.7,566.5 L780.2,566.7 L781.7,566.8 L783.2,566.9 L784.7,567.1 L786.2,567.2 L787.7,567.4 L789.1,567.5 L790.6,567.6 L792.1,567.7 L793.6,567.9 L795.1,568.0 L796.6,568.1 L798.1,568.3 L799.6,568.4 L801.1,568.5 L802.6,568.6 L804.1,568.7 L805.6,568.8 L807.1,569.0 L808.6,569.1 L810.1,569.2 L811.6,569.3" fill="none" stroke="#005a00" stroke-width="15.2" stroke-linejoin="round" stroke-linecap="round"/>
<path d="M116.0,319.3 L116.5,320.7 L117.1,322.1 L117.6,323.5 L118.2,324.9 L118.7,326.3 L119.2,327.7 L119.7,329.1 L120.3,330.5 L121.0,331.8 L121.9,332.9 L123.0,333.8 L124.1,334.6 L125.3,335.5 L126.5,336.3 L127.7,337.0 L129.0,337.8 L130.3,338.5 L131.4,339.4 L132.5,340.3 L133.7,341.1 L135.0,341.9 L136.2,342.6 L137.5,343.4 L138.8,344.1 L140.1,344.8 L141.5,345.5 L142.8,346.1 L144.1,346.8 L145.5,347.5 L146.8,348.2 L148.1,348.9 L149.4,349.6 L150.8,350.3 L152.1,351.0 L153.4,351.7 L154.8,352.4 L156.1,353.1 L157.4,353.8 L158.7,354.5 L160.1,355.2 L161.4,355.9 L162.7,356.6 L164.1,357.3 L165.4,358.0 L166.7,358.7 L168.0,359.4 L169.4,360.1 L170.7,360.8 L172.0,361.5 L173.3,362.2 L174.7,362.9 L176.0,363.6 L177.3,364.3 L178.7,365.0 L180.0,365.7 L181.3,366.4 L182.6,367.1 L184.0,367.8 L185.3,368.5 L186.6,369.2 L188.0,369.9 L189.3,370.5 L190.6,371.2 L191.9,371.9 L193.3,372.6 L194.6,373.3 L195.9,374.0 L197.3,374.7 L198.6,375.4 L199.9,376.1 L201.2,376.8 L202.6,377.5 L203.9,378.2 L205.2,378.9 L206.6,379.6 L207.9,380.3 L209.2,381.0 L210.5,381.7 L211.9,382.4 L213.2,383.1 L214.5,383.8 L215.9,384.4 L217.2,385.1 L218.5,385.8 L219.9,386.5 L221.2,387.2 L222.5,387.9 L223.9,388.6 L225.2,389.3 L226.5,390.0 L227.9,390.7 L229.2,391.3 L230.5,392.0 L231.9,392.7 L233.2,393.4 L234.5,394.1 L235.9,394.8 L237.2,395.5 L238.5,396.1 L239.9,396.8 L241.2,397.5 L242.5,398.2 L243.9,398.9 L245.2,399.6 L246.5,400.2 L247.9,400.9 L249.2,401.6 L250.5,402.3 L251.9,403.0 L253.2,403.6 L254.6,404.3 L255.9,405.0 L257.2,405.7 L258.6,406.4 L259.9,407.0 L261.3,407.7 L262.6,408.4 L263.9,409.1 L265.3,409.7 L266.6,410.4 L268.0,411.1 L269.3,411.7 L270.6,412.4 L272.0,413.1 L273.3,413.7 L274.7,414.4 L276.0,415.1 L277.4,415.7 L278.7,416.4 L280.0,417.1 L281.4,417.7 L282.7,418.4 L284.1,419.1 L285.4,419.7 L286.8,420.4 L288.1,421.0 L289.5,421.7 L290.8,422.4 L292.2,423.0 L293.5,423.7 L294.9,424.3 L296.2,425.0 L297.6,425.6 L298.9,426.3 L300.3,426.9 L301.6,427.6 L303.0,428.2 L304.3,428.9 L305.7,429.5 L307.0,430.2 L308.4,430.8 L309.7,431.5 L311.1,432.1 L312.5,432.7 L313.8,433.4 L315.2,434.0 L316.5,434.7 L317.9,435.3 L319.2,435.9 L320.6,436.6 L322.0,437.2 L323.3,437.8 L324.7,438.5 L326.0,439.1 L327.4,439.7 L328.8,440.4 L330.1,441.0 L331.5,441.6 L332.9,442.2 L334.2,442.8 L335.6,443.5 L337.0,444.1 L338.3,444.7 L339.7,445.3 L341.1,445.9 L342.4,446.6 L343.8,447.2 L345.2,447.8 L346.5,448.4 L347.9,449.0 L349.3,449.6 L350.6,450.2 L352.0,450.8 L353.4,451.4 L354.8,452.0 L356.1,452.6 L357.5,453.2 L358.9,453.8 L360.3,454.4 L361.6,455.0 L363.0,455.6 L364.4,456.2 L365.8,456.8 L367.1,457.4 L368.5,458.0 L369.9,458.6 L371.3,459.2 L372.7,459.8 L374.0,460.4 L375.4,461.0 L376.8,461.5 L378.2,462.1 L379.6,462.7 L380.9,463.3 L382.3,463.9 L383.7,464.4 L385.1,465.0 L386.5,465.6 L387.9,466.2 L389.3,466.7 L390.6,467.3 L392.0,467.9 L393.4,468.5 L394.8,469.0 L396.2,469.6 L397.6,470.2 L399.0,470.7 L400.4,471.3 L401.8,471.8 L403.1,472.4 L404.5,473.0 L405.9,473.5 L407.3,474.1 L408.7,474.6 L410.1,475.2 L411.5,475.7 L412.9,476.3 L414.3,476.8 L415.7,477.4 L417.1,477.9 L418.5,478.5 L419.9,479.0 L421.3,479.6 L422.7,480.1 L424.1,480.6 L425.5,481.2 L426.9,481.7 L428.3,482.3 L429.7,482.8 L431.1,483.3 L432.5,483.9 L433.9,484.4 L435.3,484.9 L436.7,485.4 L438.1,486.0 L439.5,486.5 L440.9,487.0 L442.3,487.5 L443.7,488.1 L445.1,488.6 L446.5,489.1 L448.0,489.6 L449.4,490.1 L450.8,490.6 L452.2,491.2 L453.6,491.7 L455.0,492.2 L456.4,492.7 L457.8,493.2 L459.2,493.7 L460.7,494.2 L462.1,494.7 L463.5,495.2 L464.9,495.7 L466.3,496.2 L467.7,496.7 L469.1,497.2 L470.6,497.7 L472.0,498.2 L473.4,498.7 L474.8,499.2 L476.2,499.7 L477.6,500.1 L479.1,500.6 L480.5,501.1 L481.9,501.6 L483.3,502.1 L484.7,502.6 L486.2,503.0 L487.6,503.5 L489.0,504.0 L490.4,504.5 L491.9,504.9 L493.3,505.4 L494.7,505.9 L496.1,506.3 L497.6,506.8 L499.0,507.3 L500.4,507.7 L501.8,508.2 L503.3,508.7 L504.7,509.1 L506.1,509.6 L507.5,510.0 L509.0,510.5 L510.4,510.9 L511.8,511.4 L513.3,511.8 L514.7,512.3 L516.1,512.7 L517.6,513.2 L519.0,513.6 L520.4,514.1 L521.9,514.5 L523.3,515.0 L524.7,515.4 L526.2,515.8 L527.6,516.3 L529.0,516.7 L530.5,517.1 L531.9,517.6 L533.3,518.0 L534.8,518.4 L536.2,518.8 L537.7,519.3 L539.1,519.7 L540.5,520.1 L542.0,520.5 L543.4,521.0 L544.9,521.4 L546.3,521.8 L547.7,522.2 L549.2,522.6 L550.6,523.0 L552.1,523.4 L553.5,523.8 L555.0,524.2 L556.4,524.6 L557.8,525.1 L559.3,525.5 L560.7,525.9 L562.2,526.3 L563.6,526.6 L565.1,527.0 L566.5,527.4 L568.0,527.8 L569.4,528.2 L570.9,528.6 L572.3,529.0 L573.8,529.4 L575.2,529.8 L576.7,530.1 L578.1,530.5 L579.6,530.9 L581.0,531.3 L582.5,531.7 L583.9,532.0 L585.4,532.4 L586.8,532.8 L588.3,533.1 L589.7,533.5 L591.2,533.9 L592.7,534.2 L594.1,534.6 L595.6,535.0 L597.0,535.3 L598.5,535.7 L599.9,536.0 L601.4,536.4 L602.8,536.8 L604.3,537.1 L605.8,537.5 L607.2,537.8 L608.7,538.1 L610.1,538.5 L611.6,538.8 L613.1,539.2 L614.5,539.5 L616.0,539.9 L617.4,540.2 L618.9,540.5 L620.4,540.9 L621.8,541.2 L623.3,541.5 L624.8,541.9 L626.2,542.2 L627.7,542.5 L629.2,542.8 L630.6,543.2 L632.1,543.5 L633.6,543.8 L635.0,544.1 L636.5,544.4 L638.0,544.7 L639.4,545.0 L640.9,545.4 L642.4,545.7 L643.8,546.0 L645.3,546.3 L646.8,546.6 L648.2,546.9 L649.7,547.2 L651.2,547.5 L652.6,547.8 L654.1,548.1 L655.6,548.4 L657.1,548.7 L658.5,548.9 L660.0,549.2 L661.5,549.5 L662.9,549.8 L664.4,550.1 L665.9,550.4 L667.4,550.6 L668.8,550.9 L670.3,551.2 L671.8,551.5 L673.3,551.7 L674.7,552.0 L676.2,552.3 L677.7,552.5 L679.2,552.8 L680.6,553.1 L682.1,553.3 L683.6,553.6 L685.1,553.9 L686.5,554.1 L688.0,554.4 L689.5,554.6 L691.0,554.9 L692.5,555.1 L693.9,555.4 L695.4,555.6 L696.9,555.9 L698.4,556.1 L699.9,556.3 L701.3,556.6 L702.8,556.8 L704.3,557.1 L705.8,557.3 L707.3,557.5 L708.8,557.8 L710.2,558.0 L711.7,558.2 L713.2,558.4 L714.7,558.7 L716.2,558.9 L717.7,559.1 L719.1,559.3 L720.6,559.5 L722.1,559.7 L723.6,560.0 L725.1,560.2 L726.6,560.4 L728.0,560.6 L729.5,560.8 L731.0,561.0 L732.5,561.2 L734.0,561.4 L735.5,561.6 L737.0,561.8 L738.5,562.0 L739.9,562.2 L741.4,562.4 L742.9,562.5 L744.4,562.7 L745.9,562.9 L747.4,563.1 L748.9,563.3 L750.4,563.5 L751.8,563.6 L753.3,563.8 L754.8,564.0 L756.3,564.2 L757.8,564.3 L759.3,564.5 L760.8,564.7 L762.3,564.8 L763.8,565.0 L765.3,565.2 L766.8,565.3 L768.2,565.5 L769.7,565.6 L771.2,565.8 L772.7,565.9 L774.2,566.1 L775.7,566.2 L777.2,566.4 L778.7,566.5 L780.2,566.7 L781.7,566.8 L783.2,566.9 L784.7,567.1 L786.2,567.2 L787.7,567.4 L789.1,567.5 L790.6,567.6 L792.1,567.7 L793.6,567.9 L795.1,568.0 L796.6,568.1 L798.1,568.3 L799.6,568.4 L801.1,568.5 L802.6,568.6 L804.1,568.7 L805.6,568.8 L807.1,569.0 L808.6,569.1 L810.1,569.2 L811.6,569.3" fill="none" stroke="#008000" stroke-width="12.0" stroke-linejoin="round" stroke-linecap="round"/>
<path d="M116.0,319.3 L116.5,320.7 L117.1,322.1 L117.6,323.5 L118.2,324.9 L118.7,326.3 L119.2,327.7 L119.7,329.1 L120.3,330.5 L121.0,331.8 L121.9,332.9 L123.0,333.8 L124.1,334.6 L125.3,335.5 L126.5,336.3 L127.7,337.0 L129.0,337.8 L130.3,338.5 L131.4,339.4 L132.5,340.3 L133.7,341.1 L135.0,341.9 L136.2,342.6 L137.5,343.4 L138.8,344.1 L140.1,344.8 L141.5,345.5 L142.8,346.1 L144.1,346.8 L145.5,347.5 L146.8,348.2 L148.1,348.9 L149.4,349.6 L150.8,350.3 L152.1,351.0 L153.4,351.7 L154.8,352.4 L156.1,353.1 L157.4,353.8 L158.7,354.5 L160.1,355.2 L161.4,355.9 L162.7,356.6 L164.1,357.3 L165.4,358.0 L166.7,358.7 L168.0,359.4 L169.4,360.1 L170.7,360.8 L172.0,361.5 L173.3,362.2 L174.7,362.9 L176.0,363.6 L177.3,364.3 L178.7,365.0 L180.0,365.7 L181.3,366.4 L182.6,367.1 L184.0,367.8 L185.3,368.5 L186.6,369.2 L188.0,369.9 L189.3,370.5 L190.6,371.2 L191.9,371.9 L193.3,372.6 L194.6,373.3 L195.9,374.0 L197.3,374.7 L198.6,375.4 L199.9,376.1 L201.2,376.8 L202.6,377.5 L203.9,378.2 L205.2,378.9 L206.6,379.6 L207.9,380.3 L209.2,381.0 L210.5,381.7 L211.9,382.4 L213.2,383.1 L214.5,383.8 L215.9,384.4 L217.2,385.1 L218.5,385.8 L219.9,386.5 L221.2,387.2 L222.5,387.9 L223.9,388.6 L225.2,389.3 L226.5,390.0 L227.9,390.7 L229.2,391.3 L230.5,392.0 L231.9,392.7 L233.2,393.4 L234.5,394.1 L235.9,394.8 L237.2,395.5 L238.5,396.1 L239.9,396.8 L241.2,397.5 L242.5,398.2 L243.9,398.9 L245.2,399.6 L246.5,400.2 L247.9,400.9 L249.2,401.6 L250.5,402.3 L251.9,403.0 L253.2,403.6 L254.6,404.3 L255.9,405.0 L257.2,405.7 L258.6,406.4 L259.9,407.0 L261.3,407.7 L262.6,408.4 L263.9,409.1 L265.3,409.7 L266.6,410.4 L268.0,411.1 L269.3,411.7 L270.6,412.4 L272.0,413.1 L273.3,413.7 L274.7,414.4 L276.0,415.1 L277.4,415.7 L278.7,416.4 L280.0,417.1 L281.4,417.7 L282.7,418.4 L284.1,419.1 L285.4,419.7 L286.8,420.4 L288.1,421.0 L289.5,421.7 L290.8,422.4 L292.2,423.0 L293.5,423.7 L294.9,424.3 L296.2,425.0 L297.6,425.6 L298.9,426.3 L300.3,426.9 L301.6,427.6 L303.0,428.2 L304.3,428.9 L305.7,429.5 L307.0,430.2 L308.4,430.8 L309.7,431.5 L311.1,432.1 L312.5,432.7 L313.8,433.4 L315.2,434.0 L316.5,434.7 L317.9,435.3 L319.2,435.9 L320.6,436.6 L322.0,437.2 L323.3,437.8 L324.7,438.5 L326.0,439.1 L327.4,439.7 L328.8,440.4 L330.1,441.0 L331.5,441.6 L332.9,442.2 L334.2,442.8 L335.6,443.5 L337.0,444.1 L338.3,444.7 L339.7,445.3 L341.1,445.9 L342.4,446.6 L343.8,447.2 L345.2,447.8 L346.5,448.4 L347.9,449.0 L349.3,449.6 L350.6,450.2 L352.0,450.8 L353.4,451.4 L354.8,452.0 L356.1,452.6 L357.5,453.2 L358.9,453.8 L360.3,454.4 L361.6,455.0 L363.0,455.6 L364.4,456.2 L365.8,456.8 L367.1,457.4 L368.5,458.0 L369.9,458.6 L371.3,459.2 L372.7,459.8 L374.0,460.4 L375.4,461.0 L376.8,461.5 L378.2,462.1 L379.6,462.7 L380.9,463.3 L382.3,463.9 L383.7,464.4 L385.1,465.0 L386.5,465.6 L387.9,466.2 L389.3,466.7 L390.6,467.3 L392.0,467.9 L393.4,468.5 L394.8,469.0 L396.2,469.6 L397.6,470.2 L399.0,470.7 L400.4,471.3 L401.8,471.8 L403.1,472.4 L404.5,473.0 L405.9,473.5 L407.3,474.1 L408.7,474.6 L410.1,475.2 L411.5,475.7 L412.9,476.3 L414.3,476.8 L415.7,477.4 L417.1,477.9 L418.5,478.5 L419.9,479.0 L421.3,479.6 L422.7,480.1 L424.1,480.6 L425.5,481.2 L426.9,481.7 L428.3,482.3 L429.7,482.8 L431.1,483.3 L432.5,483.9 L433.9,484.4 L435.3,484.9 L436.7,485.4 L438.1,486.0 L439.5,486.5 L440.9,487.0 L442.3,487.5 L443.7,488.1 L445.1,488.6 L446.5,489.1 L448.0,489.6 L449.4,490.1 L450.8,490.6 L452.2,491.2 L453.6,491.7 L455.0,492.2 L456.4,492.7 L457.8,493.2 L459.2,493.7 L460.7,494.2 L462.1,494.7 L463.5,495.2 L464.9,495.7 L466.3,496.2 L467.7,496.7 L469.1,497.2 L470.6,497.7 L472.0,498.2 L473.4,498.7 L474.8,499.2 L476.2,499.7 L477.6,500.1 L479.1,500.6 L480.5,501.1 L481.9,501.6 L483.3,502.1 L484.7,502.6 L486.2,503.0 L487.6,503.5 L489.0,504.0 L490.4,504.5 L491.9,504.9 L493.3,505.4 L494.7,505.9 L496.1,506.3 L497.6,506.8 L499.0,507.3 L500.4,507.7 L501.8,508.2 L503.3,508.7 L504.7,509.1 L506.1,509.6 L507.5,510.0 L509.0,510.5 L510.4,510.9 L511.8,511.4 L513.3,511.8 L514.7,512.3 L516.1,512.7 L517.6,513.2 L519.0,513.6 L520.4,514.1 L521.9,514.5 L523.3,515.0 L524.7,515.4 L526.2,515.8 L527.6,516.3 L529.0,516.7 L530.5,517.1 L531.9,517.6 L533.3,518.0 L534.8,518.4 L536.2,518.8 L537.7,519.3 L539.1,519.7 L540.5,520.1 L542.0,520.5 L543.4,521.0 L544.9,521.4 L546.3,521.8 L547.7,522.2 L549.2,522.6 L550.6,523.0 L552.1,523.4 L553.5,523.8 L555.0,524.2 L556.4,524.6 L557.8,525.1 L559.3,525.5 L560.7,525.9 L562.2,526.3 L563.6,526.6 L565.1,527.0 L566.5,527.4 L568.0,527.8 L569.4,528.2 L570.9,528.6 L572.3,529.0 L573.8,529.4 L575.2,529.8 L576.7,530.1 L578.1,530.5 L579.6,530.9 L581.0,531.3 L582.5,531.7 L583.9,532.0 L585.4,532.4 L586.8,532.8 L588.3,533.1 L589.7,533.5 L591.2,533.9 L592.7,534.2 L594.1,534.6 L595.6,535.0 L597.0,535.3 L598.5,535.7 L599.9,536.0 L601.4,536.4 L602.8,536.8 L604.3,537.1 L605.8,537.5 L607.2,537.8 L608.7,538.1 L610.1,538.5 L611.6,538.8 L613.1,539.2 L614.5,539.5 L616.0,539.9 L617.4,540.2 L618.9,540.5 L620.4,540.9 L621.8,541.2 L623.3,541.5 L624.8,541.9 L626.2,542.2 L627.7,542.5 L629.2,542.8 L630.6,543.2 L632.1,543.5 L633.6,543.8 L635.0,544.1 L636.5,544.4 L638.0,544.7 L639.4,545.0 L640.9,545.4 L642.4,545.7 L643.8,546.0 L645.3,546.3 L646.8,546.6 L648.2,546.9 L649.7,547.2 L651.2,547.5 L652.6,547.8 L654.1,548.1 L655.6,548.4 L657.1,548.7 L658.5,548.9 L660.0,549.2 L661.5,549.5 L662.9,549.8 L664.4,550.1 L665.9,550.4 L667.4,550.6 L668.8,550.9 L670.3,551.2 L671.8,551.5 L673.3,551.7 L674.7,552.0 L676.2,552.3 L677.7,552.5 L679.2,552.8 L680.6,553.1 L682.1,553.3 L683.6,553.6 L685.1,553.9 L686.5,554.1 L688.0,554.4 L689.5,554.6 L691.0,554.9 L692.5,555.1 L693.9,555.4 L695.4,555.6 L696.9,555.9 L698.4,556.1 L699.9,556.3 L701.3,556.6 L702.8,556.8 L704.3,557.1 L705.8,557.3 L707.3,557.5 L708.8,557.8 L710.2,558.0 L711.7,558.2 L713.2,558.4 L714.7,558.7 L716.2,558.9 L717.7,559.1 L719.1,559.3 L720.6,559.5 L722.1,559.7 L723.6,560.0 L725.1,560.2 L726.6,560.4 L728.0,560.6 L729.5,560.8 L731.0,561.0 L732.5,561.2 L734.0,561.4 L735.5,561.6 L737.0,561.8 L738.5,562.0 L739.9,562.2 L741.4,562.4 L742.9,562.5 L744.4,562.7 L745.9,562.9 L747.4,563.1 L748.9,563.3 L750.4,563.5 L751.8,563.6 L753.3,563.8 L754.8,564.0 L756.3,564.2 L757.8,564.3 L759.3,564.5 L760.8,564.7 L762.3,564.8 L763.8,565.0 L765.3,565.2 L766.8,565.3 L768.2,565.5 L769.7,565.6 L771.2,565.8 L772.7,565.9 L774.2,566.1 L775.7,566.2 L777.2,566.4 L778.7,566.5 L780.2,566.7 L781.7,566.8 L783.2,566.9 L784.7,567.1 L786.2,567.2 L787.7,567.4 L789.1,567.5 L790.6,567.6 L792.1,567.7 L793.6,567.9 L795.1,568.0 L796.6,568.1 L798.1,568.3 L799.6,568.4 L801.1,568.5 L802.6,568.6 L804.1,568.7 L805.6,568.8 L807.1,569.0 L808.6,569.1 L810.1,569.2 L811.6,569.3" fill="none" stroke="#66cc66" stroke-width="4.2" stroke-dasharray="1.1 1.3" opacity="0.9" transform="translate(-0.5,-1.6)"/>
<use href="#mG" x="111.1" y="258.4"/>
<use href="#mG" x="112.1" y="291.3"/>
<use href="#mG" x="113.5" y="303.9"/>
<use href="#mG" x="114.5" y="311.6"/>
<polyline points="118.7,133.6 125.3,183.3 134.4,204.9 143.5,219.2 152.3,226.4 161.2,233.4 170.0,240.0 178.9,246.4 187.7,252.6 196.6,258.6 205.4,264.3 214.3,270.0 223.1,275.5 232.0,280.9 240.8,286.2 249.7,291.4 258.5,296.6 267.4,301.8 276.2,306.8 285.1,311.9 294.0,316.8 302.8,321.7 311.7,326.6 320.5,331.4 329.4,336.1 338.2,340.8 347.1,345.4 355.9,350.0 364.8,354.5 373.6,359.0 382.5,363.4 391.3,367.7 400.2,372.0 409.0,376.3 417.9,380.5 426.7,384.6 435.6,388.7 444.4,392.7 453.3,396.7 462.1,400.6 471.0,404.5 479.8,408.3 488.7,412.1 497.5,415.8 506.4,419.4 515.2,423.0 524.1,426.6 532.9,430.0 541.8,433.5 550.6,436.8 559.5,440.1 568.3,443.4 577.2,446.6 586.0,449.7 594.9,452.8 603.7,455.9 612.6,458.9 621.4,461.8 630.3,464.6 639.1,467.4 648.0,470.2 656.8,472.9 665.7,475.5 674.5,478.1 683.4,480.6 692.2,483.1 701.1,485.5 709.9,487.9 718.8,490.2 727.6,492.4 736.5,494.6 745.3,496.7 754.2,498.8 763.0,500.8 771.9,502.8 780.7,504.7 789.6,506.5 798.4,508.3 807.3,510.2 812.5,503.0" fill="none" stroke="#ff00ff" stroke-width="5.6" stroke-linejoin="round" stroke-linecap="round"/>
<use href="#mP" x="118.7" y="133.6"/>
<use href="#mP" x="125.3" y="183.3"/>
<use href="#mP" x="134.4" y="204.9"/>
<use href="#mP" x="143.5" y="219.2"/>
<use href="#mP" x="152.3" y="226.4"/>
<use href="#mP" x="161.2" y="233.4"/>
<use href="#mP" x="170.0" y="240.0"/>
<use href="#mP" x="178.9" y="246.4"/>
<use href="#mP" x="187.7" y="252.6"/>
<use href="#mP" x="196.6" y="258.6"/>
<use href="#mP" x="205.4" y="264.3"/>
<use href="#mP" x="214.3" y="270.0"/>
<use href="#mP" x="223.1" y="275.5"/>
<use href="#mP" x="232.0" y="280.9"/>
<use href="#mP" x="240.8" y="286.2"/>
<use href="#mP" x="249.7" y="291.4"/>
<use href="#mP" x="258.5" y="296.6"/>
<use href="#mP" x="267.4" y="301.8"/>
<use href="#mP" x="276.2" y="306.8"/>
<use href="#mP" x="285.1" y="311.9"/>
<use href="#mP" x="294.0" y="316.8"/>
<use href="#mP" x="302.8" y="321.7"/>
<use href="#mP" x="311.7" y="326.6"/>
<use href="#mP" x="320.5" y="331.4"/>
<use href="#mP" x="329.4" y="336.1"/>
<use href="#mP" x="338.2" y="340.8"/>
<use href="#mP" x="347.1" y="345.4"/>
<use href="#mP" x="355.9" y="350.0"/>
<use href="#mP" x="364.8" y="354.5"/>
<use href="#mP" x="373.6" y="359.0"/>
<use href="#mP" x="382.5" y="363.4"/>
<use href="#mP" x="391.3" y="367.7"/>
<use href="#mP" x="400.2" y="372.0"/>
<use href="#mP" x="409.0" y="376.3"/>
<use href="#mP" x="417.9" y="380.5"/>
<use href="#mP" x="426.7" y="384.6"/>
<use href="#mP" x="435.6" y="388.7"/>
<use href="#mP" x="444.4" y="392.7"/>
<use href="#mP" x="453.3" y="396.7"/>
<use href="#mP" x="462.1" y="400.6"/>
<use href="#mP" x="471.0" y="404.5"/>
<use href="#mP" x="479.8" y="408.3"/>
<use href="#mP" x="488.7" y="412.1"/>
<use href="#mP" x="497.5" y="415.8"/>
<use href="#mP" x="506.4" y="419.4"/>
<use href="#mP" x="515.2" y="423.0"/>
<use href="#mP" x="524.1" y="426.6"/>
<use href="#mP" x="532.9" y="430.0"/>
<use href="#mP" x="541.8" y="433.5"/>
<use href="#mP" x="550.6" y="436.8"/>
<use href="#mP" x="559.5" y="440.1"/>
<use href="#mP" x="568.3" y="443.4"/>
<use href="#mP" x="577.2" y="446.6"/>
<use href="#mP" x="586.0" y="449.7"/>
<use href="#mP" x="594.9" y="452.8"/>
<use href="#mP" x="603.7" y="455.9"/>
<use href="#mP" x="612.6" y="458.9"/>
<use href="#mP" x="621.4" y="461.8"/>
<use href="#mP" x="630.3" y="464.6"/>
<use href="#mP" x="639.1" y="467.4"/>
<use href="#mP" x="648.0" y="470.2"/>
<use href="#mP" x="656.8" y="472.9"/>
<use href="#mP" x="665.7" y="475.5"/>
<use href="#mP" x="674.5" y="478.1"/>
<use href="#mP" x="683.4" y="480.6"/>
<use href="#mP" x="692.2" y="483.1"/>
<use href="#mP" x="701.1" y="485.5"/>
<use href="#mP" x="709.9" y="487.9"/>
<use href="#mP" x="718.8" y="490.2"/>
<use href="#mP" x="727.6" y="492.4"/>
<use href="#mP" x="736.5" y="494.6"/>
<use href="#mP" x="745.3" y="496.7"/>
<use href="#mP" x="754.2" y="498.8"/>
<use href="#mP" x="763.0" y="500.8"/>
<use href="#mP" x="771.9" y="502.8"/>
<use href="#mP" x="780.7" y="504.7"/>
<use href="#mP" x="789.6" y="506.5"/>
<use href="#mP" x="798.4" y="508.3"/>
<use href="#mP" x="807.3" y="510.2"/>
<use href="#mP" x="812.5" y="503.0"/>
</g>
<rect x="102.30" y="13.40" width="710.90" height="606.50" fill="none" stroke="#000" stroke-width="2.80"/>
<line x1="102.30" y1="111.60" x2="109.60" y2="111.60" stroke="#000030" stroke-width="3.20"/>
<line x1="102.30" y1="135.80" x2="116.80" y2="135.80" stroke="#100010" stroke-width="3.40"/>
<line x1="102.30" y1="260.00" x2="109.80" y2="260.00" stroke="#001000" stroke-width="3.40"/>
<line x1="104.50" y1="507.30" x2="811.50" y2="507.30" stroke="#000" stroke-width="3.00" stroke-dasharray="3.4 2.7"/>
<line x1="104.50" y1="542.10" x2="811.50" y2="542.10" stroke="#000" stroke-width="3.80" stroke-dasharray="3.4 2.7"/>
<line x1="104.50" y1="571.80" x2="811.50" y2="571.80" stroke="#000" stroke-width="2.80" stroke-dasharray="3.4 2.7"/>
<rect x="420.40" y="23.70" width="374.40" height="338.60" fill="#fff" stroke="#000" stroke-width="1.8"/>
<line x1="415.80" y1="362.30" x2="420.40" y2="362.30" stroke="#000" stroke-width="1.60"/>
<line x1="415.80" y1="249.20" x2="420.40" y2="249.20" stroke="#000" stroke-width="1.60"/>
<line x1="415.80" y1="136.10" x2="420.40" y2="136.10" stroke="#000" stroke-width="1.60"/>
<line x1="415.80" y1="23.00" x2="420.40" y2="23.00" stroke="#000" stroke-width="1.60"/>
<line x1="417.80" y1="305.75" x2="420.40" y2="305.75" stroke="#000" stroke-width="1.60"/>
<line x1="417.80" y1="192.65" x2="420.40" y2="192.65" stroke="#000" stroke-width="1.60"/>
<line x1="417.80" y1="79.55" x2="420.40" y2="79.55" stroke="#000" stroke-width="1.60"/>
<line x1="424.20" y1="362.30" x2="424.20" y2="366.90" stroke="#000" stroke-width="1.60"/>
<line x1="498.32" y1="362.30" x2="498.32" y2="366.90" stroke="#000" stroke-width="1.60"/>
<line x1="572.44" y1="362.30" x2="572.44" y2="366.90" stroke="#000" stroke-width="1.60"/>
<line x1="646.56" y1="362.30" x2="646.56" y2="366.90" stroke="#000" stroke-width="1.60"/>
<line x1="720.68" y1="362.30" x2="720.68" y2="366.90" stroke="#000" stroke-width="1.60"/>
<line x1="794.80" y1="362.30" x2="794.80" y2="366.90" stroke="#000" stroke-width="1.60"/>
<line x1="461.26" y1="362.30" x2="461.26" y2="364.90" stroke="#000" stroke-width="1.60"/>
<line x1="535.38" y1="362.30" x2="535.38" y2="364.90" stroke="#000" stroke-width="1.60"/>
<line x1="609.50" y1="362.30" x2="609.50" y2="364.90" stroke="#000" stroke-width="1.60"/>
<line x1="683.62" y1="362.30" x2="683.62" y2="364.90" stroke="#000" stroke-width="1.60"/>
<line x1="757.74" y1="362.30" x2="757.74" y2="364.90" stroke="#000" stroke-width="1.60"/>
<text transform="translate(390.52,367.20) scale(1.0000,1)" font-size="13.80">0.0</text>
<text transform="translate(390.52,254.10) scale(1.0000,1)" font-size="13.80">0.1</text>
<text transform="translate(390.52,141.00) scale(1.0000,1)" font-size="13.80">0.2</text>
<text transform="translate(390.52,27.90) scale(1.0000,1)" font-size="13.80">0.3</text>
<text transform="translate(414.61,386.20) scale(1.0000,1)" font-size="13.80">0.0</text>
<text transform="translate(477.22,386.20) scale(1.0000,1)" font-size="13.80">200.0k</text>
<text transform="translate(551.34,386.20) scale(1.0000,1)" font-size="13.80">400.0k</text>
<text transform="translate(625.46,386.20) scale(1.0000,1)" font-size="13.80">600.0k</text>
<text transform="translate(699.58,386.20) scale(1.0000,1)" font-size="13.80">800.0k</text>
<text transform="translate(779.46,386.20) scale(1.0000,1)" font-size="13.80">1.0M</text>
<line x1="421.50" y1="283.30" x2="794.00" y2="283.30" stroke="#000" stroke-width="1.40" stroke-dasharray="2.2 1.6 0.8 1.6"/>
<line x1="421.50" y1="299.70" x2="794.00" y2="299.70" stroke="#000" stroke-width="1.40" stroke-dasharray="2.2 1.6 0.8 1.6"/>
<path d="M440.2,245.4 L440.4,246.0 L440.6,246.9 L440.8,247.8 L441.2,248.9 L441.9,250.0 L443.0,251.0 L444.5,251.9 L446.5,252.9 L448.6,253.8 L451.0,254.8 L453.4,255.7 L455.7,256.6 L458.0,257.5 L460.5,258.5 L463.0,259.5 L465.4,260.4 L467.7,261.1 L469.7,261.5 L471.3,261.6 L472.4,261.2 L473.4,260.8 L474.5,260.3 L475.9,260.0 L478.0,260.1 L480.8,260.7 L484.2,261.7 L487.9,262.9 L491.7,264.0 L495.5,265.1 L499.0,265.7 L502.2,265.9 L505.4,265.6 L508.4,265.3 L511.4,264.9 L514.4,264.7 L517.3,265.0 L520.0,265.8 L522.6,266.9 L525.0,268.2 L527.7,269.6 L530.6,270.9 L534.0,272.0 L538.0,272.8 L542.5,273.5 L547.3,274.1 L552.2,274.6 L557.2,275.0 L562.0,275.5 L566.7,275.9 L571.6,276.3 L576.4,276.7 L581.2,277.0 L585.7,277.3 L590.0,277.6 L593.8,277.9 L597.1,278.1 L600.2,278.4 L603.4,278.6 L606.9,278.8 L611.0,279.0 L616.0,279.1 L621.9,279.2 L628.1,279.3 L634.1,279.4 L639.4,279.5 L643.4,279.6 L645.5,279.7 L645.9,279.9 L645.6,280.1 L645.5,280.2 L646.7,280.4 L650.0,280.5 L655.7,280.6 L663.0,280.6 L671.5,280.7 L680.8,280.7 L690.4,280.7 L700.0,280.6 L710.0,280.4 L721.0,280.0 L732.4,279.6 L743.5,279.3 L753.7,279.1 L762.4,279.2 L769.8,279.6 L776.2,280.3 L781.8,281.2 L786.6,282.1 L790.5,282.9 L793.5,283.4" fill="none" stroke="#000" stroke-width="10.0" stroke-linejoin="round" stroke-linecap="round"/>
<path d="M440.2,245.4 L440.4,246.0 L440.6,246.9 L440.8,247.8 L441.2,248.9 L441.9,250.0 L443.0,251.0 L444.5,251.9 L446.5,252.9 L448.6,253.8 L451.0,254.8 L453.4,255.7 L455.7,256.6 L458.0,257.5 L460.5,258.5 L463.0,259.5 L465.4,260.4 L467.7,261.1 L469.7,261.5 L471.3,261.6 L472.4,261.2 L473.4,260.8 L474.5,260.3 L475.9,260.0 L478.0,260.1 L480.8,260.7 L484.2,261.7 L487.9,262.9 L491.7,264.0 L495.5,265.1 L499.0,265.7 L502.2,265.9 L505.4,265.6 L508.4,265.3 L511.4,264.9 L514.4,264.7 L517.3,265.0 L520.0,265.8 L522.6,266.9 L525.0,268.2 L527.7,269.6 L530.6,270.9 L534.0,272.0 L538.0,272.8 L542.5,273.5 L547.3,274.1 L552.2,274.6 L557.2,275.0 L562.0,275.5 L566.7,275.9 L571.6,276.3 L576.4,276.7 L581.2,277.0 L585.7,277.3 L590.0,277.6 L593.8,277.9 L597.1,278.1 L600.2,278.4 L603.4,278.6 L606.9,278.8 L611.0,279.0 L616.0,279.1 L621.9,279.2 L628.1,279.3 L634.1,279.4 L639.4,279.5 L643.4,279.6 L645.5,279.7 L645.9,279.9 L645.6,280.1 L645.5,280.2 L646.7,280.4 L650.0,280.5 L655.7,280.6 L663.0,280.6 L671.5,280.7 L680.8,280.7 L690.4,280.7 L700.0,280.6 L710.0,280.4 L721.0,280.0 L732.4,279.6 L743.5,279.3 L753.7,279.1 L762.4,279.2 L769.8,279.6 L776.2,280.3 L781.8,281.2 L786.6,282.1 L790.5,282.9 L793.5,283.4" fill="none" stroke="#fff" stroke-width="1.6" stroke-dasharray="1.4 4.2" transform="translate(0,-0.8)"/>
<polyline points="425.1,87.2 426.4,166.0 426.6,188.5 428.0,209.8" fill="none" stroke="#e01515" stroke-width="3.4" stroke-linejoin="round" stroke-linecap="round"/>
<path d="M428.0,209.8 L428.1,211.5 L428.3,213.8 L428.4,216.5 L428.7,219.5 L429.0,222.5 L429.4,225.4 L430.0,228.2 L430.7,231.3 L431.5,234.3 L432.3,237.3 L433.1,240.0 L433.7,242.4 L434.2,244.3 L434.5,245.9 L434.8,247.2 L435.1,248.5 L435.4,249.7 L436.0,251.0 L436.7,252.5 L437.5,254.0 L438.4,255.5 L439.4,257.0 L440.5,258.3 L441.6,259.4 L442.8,260.2 L444.0,260.9 L445.3,261.3 L446.7,261.8 L448.2,262.3 L450.0,263.0 L452.0,263.9 L454.3,264.8 L456.6,265.9 L459.1,267.0 L461.6,268.1 L464.0,269.2 L466.3,270.3 L468.4,271.5 L470.6,272.7 L472.8,273.9 L475.3,275.1 L478.0,276.2 L481.1,277.3 L484.5,278.5 L488.1,279.6 L491.7,280.6 L495.4,281.6 L499.0,282.5 L502.4,283.2 L505.7,283.8 L509.1,284.4 L512.5,284.9 L516.1,285.4 L520.0,286.0 L524.3,286.7 L528.8,287.3 L533.6,288.1 L538.4,288.8 L543.3,289.5 L548.0,290.2 L552.5,290.9 L556.8,291.8 L561.1,292.6 L565.6,293.3 L570.5,293.9 L576.0,294.4 L582.4,294.6 L589.6,294.7 L597.2,294.7 L604.7,294.6 L611.8,294.5 L618.0,294.4 L622.8,294.3 L626.5,294.2 L629.8,294.1 L633.2,294.0 L637.6,293.9 L643.4,293.8 L651.0,293.7 L660.0,293.5 L669.7,293.3 L680.0,293.1 L690.2,293.1 L700.0,293.2 L709.7,293.5 L719.6,293.9 L729.6,294.4 L739.3,295.0 L748.4,295.6 L756.7,296.2 L764.4,296.9 L771.8,297.7 L778.6,298.5 L784.7,299.3 L789.7,299.9 L793.5,300.4" fill="none" stroke="#ec1515" stroke-width="9.5" stroke-linejoin="round" stroke-linecap="round"/>
<path d="M428.0,209.8 L428.1,211.5 L428.3,213.8 L428.4,216.5 L428.7,219.5 L429.0,222.5 L429.4,225.4 L430.0,228.2 L430.7,231.3 L431.5,234.3 L432.3,237.3 L433.1,240.0 L433.7,242.4 L434.2,244.3 L434.5,245.9 L434.8,247.2 L435.1,248.5 L435.4,249.7 L436.0,251.0 L436.7,252.5 L437.5,254.0 L438.4,255.5 L439.4,257.0 L440.5,258.3 L441.6,259.4 L442.8,260.2 L444.0,260.9 L445.3,261.3 L446.7,261.8 L448.2,262.3 L450.0,263.0 L452.0,263.9 L454.3,264.8 L456.6,265.9 L459.1,267.0 L461.6,268.1 L464.0,269.2 L466.3,270.3 L468.4,271.5 L470.6,272.7 L472.8,273.9 L475.3,275.1 L478.0,276.2 L481.1,277.3 L484.5,278.5 L488.1,279.6 L491.7,280.6 L495.4,281.6 L499.0,282.5 L502.4,283.2 L505.7,283.8 L509.1,284.4 L512.5,284.9 L516.1,285.4 L520.0,286.0 L524.3,286.7 L528.8,287.3 L533.6,288.1 L538.4,288.8 L543.3,289.5 L548.0,290.2 L552.5,290.9 L556.8,291.8 L561.1,292.6 L565.6,293.3 L570.5,293.9 L576.0,294.4 L582.4,294.6 L589.6,294.7 L597.2,294.7 L604.7,294.6 L611.8,294.5 L618.0,294.4 L622.8,294.3 L626.5,294.2 L629.8,294.1 L633.2,294.0 L637.6,293.9 L643.4,293.8 L651.0,293.7 L660.0,293.5 L669.7,293.3 L680.0,293.1 L690.2,293.1 L700.0,293.2 L709.7,293.5 L719.6,293.9 L729.6,294.4 L739.3,295.0 L748.4,295.6 L756.7,296.2 L764.4,296.9 L771.8,297.7 L778.6,298.5 L784.7,299.3 L789.7,299.9 L793.5,300.4" fill="none" stroke="#ffb0b0" stroke-width="1.4" stroke-dasharray="1 3" opacity="0.8" transform="translate(0,-1.2)"/>
<use href="#mR" x="425.1" y="87.2"/>
<use href="#mR" x="426.4" y="166.0"/>
<use href="#mR" x="426.6" y="188.5"/>
<use href="#mR" x="428.0" y="209.8"/>
<text transform="translate(550.14,409.10) scale(0.9921,1)" font-size="16.00">Frequency (Hz)</text>
<text transform="translate(383.50,315.02) rotate(-90) translate(0.00,0) scale(1.1355,1)" font-size="15.50">Capacitance density (nF/cm<tspan dy="-6.20" font-size="9.61">2</tspan><tspan dy="6.20">)</tspan></text>
<text transform="translate(424.04,80.80) scale(1.0838,1)" font-size="14.80">C<tspan dy="4.44" font-size="9.77">SCR</tspan><tspan dy="-4.44">+C</tspan><tspan dy="4.44" font-size="9.77">d</tspan></text>
<text transform="translate(758.85,320.30) scale(1.0874,1)" font-size="14.50">C<tspan dy="4.35" font-size="9.57">SCR</tspan></text>
<line x1="647.40" y1="39.50" x2="681.20" y2="39.50" stroke="#000000" stroke-width="3.60" stroke-linecap="round"/>
<use href="#mK" x="663.8" y="39.5"/>
<text transform="translate(686.55,46.10) scale(0.9331,1)" font-size="17.00">Cu<tspan dy="4.25" font-size="9.86">2</tspan><tspan dy="-4.25">O/TiO</tspan><tspan dy="4.25" font-size="9.86">2</tspan><tspan dy="-4.25"> RT</tspan></text>
<line x1="647.30" y1="65.60" x2="681.30" y2="65.60" stroke="#e01010" stroke-width="3.40" stroke-linecap="round"/>
<use href="#mR" x="663.8" y="65.6"/>
<text transform="translate(686.55,72.20) scale(0.9331,1)" font-size="17.00">Cu<tspan dy="4.25" font-size="9.86">2</tspan><tspan dy="-4.25">O/TiO</tspan><tspan dy="4.25" font-size="9.86">2</tspan><tspan dy="-4.25"> 100</tspan></text>
<text transform="translate(349.49,692.60) scale(0.9865,1)" font-size="30.40">Frequency (Hz)</text>
<text transform="translate(27.30,535.09) rotate(-90) translate(0.00,0) scale(1.0165,1)" font-size="31.00">Capacitance density (nF/cm<tspan dy="-11.16" font-size="19.84">2</tspan><tspan dy="11.16">)</tspan></text>
<text transform="translate(108.71,51.40) scale(0.9758,1)" font-size="31.00">a)</text>
<text transform="translate(108.26,98.00) scale(1.0053,1)" font-size="32.50">C<tspan dy="7.80" font-size="18.52">SCR</tspan><tspan dy="-7.80">+C</tspan><tspan dy="7.80" font-size="18.52">d</tspan></text>
<text transform="translate(744.50,596.00) scale(0.9557,1)" font-size="30.50">C<tspan dy="8.54" font-size="20.74">SCR</tspan></text>
<line x1="503.90" y1="117.10" x2="569.30" y2="117.10" stroke="#0000ff" stroke-width="6.40" stroke-linecap="round"/>
<use href="#mBL" x="535.2" y="117.1"/>
<text transform="translate(577.46,128.00) scale(0.9588,1)" font-size="31.60">Cu<tspan dy="8.69" font-size="18.96">2</tspan><tspan dy="-8.69">O/TiO</tspan><tspan dy="8.69" font-size="18.96">2</tspan><tspan dy="-8.69"> 150</tspan></text>
<line x1="503.90" y1="164.20" x2="569.30" y2="164.20" stroke="#008000" stroke-width="6.40" stroke-linecap="round"/>
<use href="#mGL" x="535.2" y="164.2"/>
<text transform="translate(577.46,175.10) scale(0.9588,1)" font-size="31.60">Cu<tspan dy="8.69" font-size="18.96">2</tspan><tspan dy="-8.69">O/TiO</tspan><tspan dy="8.69" font-size="18.96">2</tspan><tspan dy="-8.69"> 200</tspan></text>
<line x1="503.90" y1="211.20" x2="569.30" y2="211.20" stroke="#ff00ff" stroke-width="6.40" stroke-linecap="round"/>
<use href="#mPL" x="535.2" y="211.2"/>
<text transform="translate(577.46,222.10) scale(0.9588,1)" font-size="31.60">CuO/TiO<tspan dy="8.69" font-size="18.96">2</tspan><tspan dy="-8.69"> 250</tspan></text>
<line x1="950.20" y1="615.90" x2="961.50" y2="615.90" stroke="#000" stroke-width="3.00"/>
<line x1="950.20" y1="565.90" x2="961.50" y2="565.90" stroke="#000" stroke-width="3.00"/>
<line x1="950.20" y1="515.90" x2="961.50" y2="515.90" stroke="#000" stroke-width="3.00"/>
<line x1="950.20" y1="465.90" x2="961.50" y2="465.90" stroke="#000" stroke-width="3.00"/>
<line x1="950.20" y1="415.90" x2="961.50" y2="415.90" stroke="#000" stroke-width="3.00"/>
<line x1="950.20" y1="365.90" x2="961.50" y2="365.90" stroke="#000" stroke-width="3.00"/>
<line x1="950.20" y1="315.90" x2="961.50" y2="315.90" stroke="#000" stroke-width="3.00"/>
<line x1="950.20" y1="265.90" x2="961.50" y2="265.90" stroke="#000" stroke-width="3.00"/>
<line x1="950.20" y1="215.90" x2="961.50" y2="215.90" stroke="#000" stroke-width="3.00"/>
<line x1="950.20" y1="165.90" x2="961.50" y2="165.90" stroke="#000" stroke-width="3.00"/>
<line x1="950.20" y1="115.90" x2="961.50" y2="115.90" stroke="#000" stroke-width="3.00"/>
<line x1="950.20" y1="65.90" x2="961.50" y2="65.90" stroke="#000" stroke-width="3.00"/>
<line x1="950.20" y1="15.90" x2="961.50" y2="15.90" stroke="#000" stroke-width="3.00"/>
<line x1="955.70" y1="590.90" x2="961.50" y2="590.90" stroke="#000" stroke-width="3.00"/>
<line x1="955.70" y1="540.90" x2="961.50" y2="540.90" stroke="#000" stroke-width="3.00"/>
<line x1="955.70" y1="490.90" x2="961.50" y2="490.90" stroke="#000" stroke-width="3.00"/>
<line x1="955.70" y1="440.90" x2="961.50" y2="440.90" stroke="#000" stroke-width="3.00"/>
<line x1="955.70" y1="390.90" x2="961.50" y2="390.90" stroke="#000" stroke-width="3.00"/>
<line x1="955.70" y1="340.90" x2="961.50" y2="340.90" stroke="#000" stroke-width="3.00"/>
<line x1="955.70" y1="290.90" x2="961.50" y2="290.90" stroke="#000" stroke-width="3.00"/>
<line x1="955.70" y1="240.90" x2="961.50" y2="240.90" stroke="#000" stroke-width="3.00"/>
<line x1="955.70" y1="190.90" x2="961.50" y2="190.90" stroke="#000" stroke-width="3.00"/>
<line x1="955.70" y1="140.90" x2="961.50" y2="140.90" stroke="#000" stroke-width="3.00"/>
<line x1="955.70" y1="90.90" x2="961.50" y2="90.90" stroke="#000" stroke-width="3.00"/>
<line x1="955.70" y1="40.90" x2="961.50" y2="40.90" stroke="#000" stroke-width="3.00"/>
<line x1="967.20" y1="616.00" x2="967.20" y2="627.00" stroke="#000" stroke-width="3.00"/>
<line x1="1110.18" y1="616.00" x2="1110.18" y2="627.00" stroke="#000" stroke-width="3.00"/>
<line x1="1253.16" y1="616.00" x2="1253.16" y2="627.00" stroke="#000" stroke-width="3.00"/>
<line x1="1396.14" y1="616.00" x2="1396.14" y2="627.00" stroke="#000" stroke-width="3.00"/>
<line x1="1539.12" y1="616.00" x2="1539.12" y2="627.00" stroke="#000" stroke-width="3.00"/>
<line x1="1682.10" y1="616.00" x2="1682.10" y2="627.00" stroke="#000" stroke-width="3.00"/>
<line x1="1038.69" y1="616.00" x2="1038.69" y2="621.80" stroke="#000" stroke-width="3.00"/>
<line x1="1181.67" y1="616.00" x2="1181.67" y2="621.80" stroke="#000" stroke-width="3.00"/>
<line x1="1324.65" y1="616.00" x2="1324.65" y2="621.80" stroke="#000" stroke-width="3.00"/>
<line x1="1467.63" y1="616.00" x2="1467.63" y2="621.80" stroke="#000" stroke-width="3.00"/>
<line x1="1610.61" y1="616.00" x2="1610.61" y2="621.80" stroke="#000" stroke-width="3.00"/>
<text transform="translate(925.84,624.30) scale(0.9650,1)" font-size="27.50">0</text>
<text transform="translate(911.09,574.30) scale(0.9650,1)" font-size="27.50">10</text>
<text transform="translate(911.09,524.30) scale(0.9650,1)" font-size="27.50">20</text>
<text transform="translate(911.09,474.30) scale(0.9650,1)" font-size="27.50">30</text>
<text transform="translate(911.09,424.30) scale(0.9650,1)" font-size="27.50">40</text>
<text transform="translate(911.09,374.30) scale(0.9650,1)" font-size="27.50">50</text>
<text transform="translate(911.09,324.30) scale(0.9650,1)" font-size="27.50">60</text>
<text transform="translate(911.09,274.30) scale(0.9650,1)" font-size="27.50">70</text>
<text transform="translate(911.09,224.30) scale(0.9650,1)" font-size="27.50">80</text>
<text transform="translate(911.09,174.30) scale(0.9650,1)" font-size="27.50">90</text>
<text transform="translate(896.33,124.30) scale(0.9650,1)" font-size="27.50">100</text>
<text transform="translate(897.79,74.30) scale(0.9650,1)" font-size="27.50">110</text>
<text transform="translate(896.33,24.30) scale(0.9650,1)" font-size="27.50">120</text>
<text transform="translate(948.76,658.30) scale(0.9650,1)" font-size="27.50">0.0</text>
<text transform="translate(1069.60,658.30) scale(0.9650,1)" font-size="27.50">200.0k</text>
<text transform="translate(1212.58,658.30) scale(0.9650,1)" font-size="27.50">400.0k</text>
<text transform="translate(1355.56,658.30) scale(0.9650,1)" font-size="27.50">600.0k</text>
<text transform="translate(1498.54,658.30) scale(0.9650,1)" font-size="27.50">800.0k</text>
<text transform="translate(1652.60,658.30) scale(0.9650,1)" font-size="27.50">1.0M</text>
<clipPath id="cp2"><rect x="955.50" y="16.00" width="726.60" height="600.00"/></clipPath><g clip-path="url(#cp2)">
<polyline points="969.8,192.4 969.4,221.5 971.6,238.1 972.8,248.8 974.5,257.1 976.1,264.4 978.3,270.6 972.2,244.6" fill="none" stroke="#0000ff" stroke-width="5.6" stroke-linejoin="round" stroke-linecap="round"/>
<path d="M972.2,244.6 L972.4,246.1 L972.7,247.6 L972.9,249.0 L973.2,250.5 L973.4,252.0 L973.7,253.5 L974.0,254.9 L974.3,256.4 L974.7,257.9 L975.0,259.3 L975.4,260.8 L975.8,262.2 L976.4,263.6 L977.0,265.0 L977.6,266.3 L978.2,267.7 L978.8,269.0 L979.4,270.4 L980.0,271.8 L980.6,273.1 L981.2,274.5 L981.8,275.8 L982.5,277.2 L983.1,278.5 L983.8,279.8 L984.5,281.1 L985.2,282.4 L986.0,283.7 L986.7,285.0 L987.5,286.3 L988.3,287.6 L989.1,288.9 L989.8,290.2 L990.6,291.4 L991.5,292.7 L992.3,293.9 L993.1,295.2 L994.0,296.4 L994.9,297.6 L995.7,298.8 L996.6,300.0 L997.5,301.2 L998.5,302.3 L999.4,303.5 L1000.4,304.6 L1001.3,305.8 L1002.3,306.9 L1003.3,308.0 L1004.3,309.1 L1005.3,310.2 L1006.3,311.3 L1007.4,312.4 L1008.4,313.4 L1009.5,314.5 L1010.6,315.5 L1011.6,316.5 L1012.7,317.6 L1013.9,318.6 L1015.0,319.6 L1016.1,320.6 L1017.2,321.6 L1018.3,322.6 L1019.4,323.6 L1020.6,324.6 L1021.7,325.5 L1022.8,326.5 L1024.0,327.5 L1025.1,328.5 L1026.3,329.4 L1027.4,330.4 L1028.6,331.3 L1029.7,332.3 L1030.9,333.2 L1032.1,334.2 L1033.2,335.1 L1034.4,336.0 L1035.6,336.9 L1036.8,337.9 L1038.0,338.8 L1039.2,339.7 L1040.4,340.6 L1041.6,341.5 L1042.8,342.4 L1044.0,343.3 L1045.2,344.2 L1046.4,345.0 L1047.6,345.9 L1048.8,346.8 L1050.1,347.6 L1051.3,348.5 L1052.5,349.4 L1053.8,350.2 L1055.0,351.1 L1056.2,351.9 L1057.5,352.7 L1058.7,353.6 L1060.0,354.4 L1061.2,355.2 L1062.5,356.1 L1063.7,356.9 L1065.0,357.7 L1066.3,358.5 L1067.5,359.3 L1068.8,360.1 L1070.1,360.9 L1071.3,361.7 L1072.6,362.5 L1073.9,363.3 L1075.2,364.1 L1076.4,364.9 L1077.7,365.6 L1079.0,366.4 L1080.3,367.2 L1081.6,368.0 L1082.9,368.7 L1084.1,369.5 L1085.4,370.3 L1086.7,371.0 L1088.0,371.8 L1089.3,372.5 L1090.6,373.3 L1091.9,374.1 L1093.2,374.8 L1094.5,375.6 L1095.8,376.3 L1097.1,377.0 L1098.4,377.8 L1099.7,378.5 L1101.0,379.3 L1102.3,380.0 L1103.6,380.8 L1104.9,381.5 L1106.2,382.2 L1107.5,383.0 L1108.8,383.7 L1110.2,384.4 L1111.5,385.2 L1112.8,385.9 L1114.1,386.6 L1115.4,387.4 L1116.7,388.1 L1118.0,388.8 L1119.3,389.6 L1120.6,390.3 L1122.0,391.0 L1123.3,391.7 L1124.6,392.5 L1125.9,393.2 L1127.2,393.9 L1128.5,394.6 L1129.8,395.3 L1131.2,396.1 L1132.5,396.8 L1133.8,397.5 L1135.1,398.2 L1136.4,398.9 L1137.7,399.6 L1139.1,400.4 L1140.4,401.1 L1141.7,401.8 L1143.0,402.5 L1144.4,403.2 L1145.7,403.9 L1147.0,404.6 L1148.3,405.3 L1149.7,406.0 L1151.0,406.7 L1152.3,407.4 L1153.6,408.1 L1155.0,408.8 L1156.3,409.5 L1157.6,410.2 L1158.9,410.9 L1160.3,411.6 L1161.6,412.3 L1162.9,413.0 L1164.3,413.7 L1165.6,414.3 L1166.9,415.0 L1168.3,415.7 L1169.6,416.4 L1170.9,417.1 L1172.3,417.8 L1173.6,418.4 L1175.0,419.1 L1176.3,419.8 L1177.6,420.5 L1179.0,421.2 L1180.3,421.8 L1181.6,422.5 L1183.0,423.2 L1184.3,423.8 L1185.7,424.5 L1187.0,425.2 L1188.4,425.8 L1189.7,426.5 L1191.1,427.2 L1192.4,427.8 L1193.7,428.5 L1195.1,429.1 L1196.4,429.8 L1197.8,430.5 L1199.1,431.1 L1200.5,431.8 L1201.8,432.4 L1203.2,433.1 L1204.6,433.7 L1205.9,434.4 L1207.3,435.0 L1208.6,435.6 L1210.0,436.3 L1211.3,436.9 L1212.7,437.6 L1214.0,438.2 L1215.4,438.8 L1216.8,439.5 L1218.1,440.1 L1219.5,440.7 L1220.8,441.4 L1222.2,442.0 L1223.6,442.6 L1224.9,443.2 L1226.3,443.8 L1227.7,444.5 L1229.0,445.1 L1230.4,445.7 L1231.8,446.3 L1233.1,446.9 L1234.5,447.5 L1235.9,448.1 L1237.3,448.8 L1238.6,449.4 L1240.0,450.0 L1241.4,450.6 L1242.7,451.2 L1244.1,451.8 L1245.5,452.4 L1246.9,453.0 L1248.3,453.5 L1249.6,454.1 L1251.0,454.7 L1252.4,455.3 L1253.8,455.9 L1255.2,456.5 L1256.5,457.1 L1257.9,457.6 L1259.3,458.2 L1260.7,458.8 L1262.1,459.4 L1263.5,459.9 L1264.9,460.5 L1266.2,461.1 L1267.6,461.6 L1269.0,462.2 L1270.4,462.8 L1271.8,463.3 L1273.2,463.9 L1274.6,464.4 L1276.0,465.0 L1277.4,465.5 L1278.8,466.1 L1280.2,466.6 L1281.6,467.2 L1283.0,467.7 L1284.4,468.3 L1285.8,468.8 L1287.2,469.3 L1288.6,469.9 L1290.0,470.4 L1291.4,470.9 L1292.8,471.4 L1294.2,472.0 L1295.6,472.5 L1297.0,473.0 L1298.4,473.5 L1299.8,474.0 L1301.2,474.6 L1302.6,475.1 L1304.1,475.6 L1305.5,476.1 L1306.9,476.6 L1308.3,477.1 L1309.7,477.6 L1311.1,478.1 L1312.5,478.6 L1313.9,479.1 L1315.4,479.6 L1316.8,480.1 L1318.2,480.6 L1319.6,481.0 L1321.0,481.5 L1322.5,482.0 L1323.9,482.5 L1325.3,483.0 L1326.7,483.4 L1328.2,483.9 L1329.6,484.4 L1331.0,484.8 L1332.4,485.3 L1333.9,485.8 L1335.3,486.2 L1336.7,486.7 L1338.1,487.2 L1339.6,487.6 L1341.0,488.1 L1342.4,488.5 L1343.9,489.0 L1345.3,489.4 L1346.7,489.9 L1348.1,490.3 L1349.6,490.8 L1351.0,491.2 L1352.4,491.6 L1353.9,492.1 L1355.3,492.5 L1356.8,492.9 L1358.2,493.4 L1359.6,493.8 L1361.1,494.2 L1362.5,494.6 L1363.9,495.1 L1365.4,495.5 L1366.8,495.9 L1368.3,496.3 L1369.7,496.7 L1371.2,497.2 L1372.6,497.6 L1374.0,498.0 L1375.5,498.4 L1376.9,498.8 L1378.4,499.2 L1379.8,499.6 L1381.3,500.0 L1382.7,500.4 L1384.2,500.8 L1385.6,501.2 L1387.0,501.6 L1388.5,502.0 L1389.9,502.3 L1391.4,502.7 L1392.8,503.1 L1394.3,503.5 L1395.7,503.9 L1397.2,504.3 L1398.6,504.6 L1400.1,505.0 L1401.6,505.4 L1403.0,505.8 L1404.5,506.1 L1405.9,506.5 L1407.4,506.9 L1408.8,507.2 L1410.3,507.6 L1411.7,508.0 L1413.2,508.3 L1414.6,508.7 L1416.1,509.0 L1417.6,509.4 L1419.0,509.7 L1420.5,510.1 L1421.9,510.4 L1423.4,510.8 L1424.9,511.1 L1426.3,511.5 L1427.8,511.8 L1429.2,512.2 L1430.7,512.5 L1432.2,512.9 L1433.6,513.2 L1435.1,513.5 L1436.5,513.9 L1438.0,514.2 L1439.5,514.5 L1440.9,514.9 L1442.4,515.2 L1443.9,515.5 L1445.3,515.8 L1446.8,516.2 L1448.2,516.5 L1449.7,516.8 L1451.2,517.1 L1452.6,517.4 L1454.1,517.8 L1455.6,518.1 L1457.0,518.4 L1458.5,518.7 L1460.0,519.0 L1461.4,519.3 L1462.9,519.6 L1464.4,519.9 L1465.9,520.2 L1467.3,520.5 L1468.8,520.8 L1470.3,521.1 L1471.7,521.4 L1473.2,521.7 L1474.7,522.0 L1476.1,522.3 L1477.6,522.6 L1479.1,522.9 L1480.6,523.2 L1482.0,523.5 L1483.5,523.8 L1485.0,524.1 L1486.4,524.4 L1487.9,524.6 L1489.4,524.9 L1490.9,525.2 L1492.3,525.5 L1493.8,525.8 L1495.3,526.0 L1496.8,526.3 L1498.2,526.6 L1499.7,526.9 L1501.2,527.2 L1502.7,527.4 L1504.1,527.7 L1505.6,528.0 L1507.1,528.2 L1508.6,528.5 L1510.0,528.8 L1511.5,529.0 L1513.0,529.3 L1514.5,529.6 L1515.9,529.8 L1517.4,530.1 L1518.9,530.4 L1520.4,530.6 L1521.8,530.9 L1523.3,531.1 L1524.8,531.4 L1526.3,531.6 L1527.8,531.9 L1529.2,532.2 L1530.7,532.4 L1532.2,532.7 L1533.7,532.9 L1535.2,533.2 L1536.6,533.4 L1538.1,533.7 L1539.6,533.9 L1541.1,534.2 L1542.5,534.4 L1544.0,534.6 L1545.5,534.9 L1547.0,535.1 L1548.5,535.4 L1550.0,535.6 L1551.4,535.9 L1552.9,536.1 L1554.4,536.3 L1555.9,536.6 L1557.4,536.8 L1558.8,537.0 L1560.3,537.3 L1561.8,537.5 L1563.3,537.8 L1564.8,538.0 L1566.2,538.2 L1567.7,538.5 L1569.2,538.7 L1570.7,538.9 L1572.2,539.1 L1573.7,539.4 L1575.1,539.6 L1576.6,539.8 L1578.1,540.1 L1579.6,540.3 L1581.1,540.5 L1582.5,540.7 L1584.0,541.0 L1585.5,541.2 L1587.0,541.4 L1588.5,541.6 L1590.0,541.9 L1591.4,542.1 L1592.9,542.3 L1594.4,542.5 L1595.9,542.8 L1597.4,543.0 L1598.9,543.2 L1600.3,543.4 L1601.8,543.6 L1603.3,543.9 L1604.8,544.1 L1606.3,544.3 L1607.8,544.5 L1609.3,544.7 L1610.7,544.9 L1612.2,545.2 L1613.7,545.4 L1615.2,545.6 L1616.7,545.8 L1618.2,546.0 L1619.6,546.2 L1621.1,546.5 L1622.6,546.7 L1624.1,546.9 L1625.6,547.1 L1627.1,547.3 L1628.6,547.5 L1630.0,547.7 L1631.5,548.0 L1633.0,548.2 L1634.5,548.4 L1636.0,548.6 L1637.5,548.8 L1638.9,549.0 L1640.4,549.2 L1641.9,549.4 L1643.4,549.7 L1644.9,549.9 L1646.4,550.1 L1647.9,550.3 L1649.3,550.5 L1650.8,550.7 L1652.3,550.9 L1653.8,551.1 L1655.3,551.3 L1656.8,551.6 L1658.2,551.8 L1659.7,552.0 L1661.2,552.2 L1662.7,552.4 L1664.2,552.6 L1665.7,552.8 L1667.2,553.0 L1668.6,553.2 L1670.1,553.5 L1671.6,553.7 L1673.1,553.9 L1674.6,554.1 L1676.1,554.3 L1677.6,554.5 L1679.0,554.7 L1680.5,554.9" fill="none" stroke="#0000b0" stroke-width="15.2" stroke-linejoin="round" stroke-linecap="round"/>
<path d="M972.2,244.6 L972.4,246.1 L972.7,247.6 L972.9,249.0 L973.2,250.5 L973.4,252.0 L973.7,253.5 L974.0,254.9 L974.3,256.4 L974.7,257.9 L975.0,259.3 L975.4,260.8 L975.8,262.2 L976.4,263.6 L977.0,265.0 L977.6,266.3 L978.2,267.7 L978.8,269.0 L979.4,270.4 L980.0,271.8 L980.6,273.1 L981.2,274.5 L981.8,275.8 L982.5,277.2 L983.1,278.5 L983.8,279.8 L984.5,281.1 L985.2,282.4 L986.0,283.7 L986.7,285.0 L987.5,286.3 L988.3,287.6 L989.1,288.9 L989.8,290.2 L990.6,291.4 L991.5,292.7 L992.3,293.9 L993.1,295.2 L994.0,296.4 L994.9,297.6 L995.7,298.8 L996.6,300.0 L997.5,301.2 L998.5,302.3 L999.4,303.5 L1000.4,304.6 L1001.3,305.8 L1002.3,306.9 L1003.3,308.0 L1004.3,309.1 L1005.3,310.2 L1006.3,311.3 L1007.4,312.4 L1008.4,313.4 L1009.5,314.5 L1010.6,315.5 L1011.6,316.5 L1012.7,317.6 L1013.9,318.6 L1015.0,319.6 L1016.1,320.6 L1017.2,321.6 L1018.3,322.6 L1019.4,323.6 L1020.6,324.6 L1021.7,325.5 L1022.8,326.5 L1024.0,327.5 L1025.1,328.5 L1026.3,329.4 L1027.4,330.4 L1028.6,331.3 L1029.7,332.3 L1030.9,333.2 L1032.1,334.2 L1033.2,335.1 L1034.4,336.0 L1035.6,336.9 L1036.8,337.9 L1038.0,338.8 L1039.2,339.7 L1040.4,340.6 L1041.6,341.5 L1042.8,342.4 L1044.0,343.3 L1045.2,344.2 L1046.4,345.0 L1047.6,345.9 L1048.8,346.8 L1050.1,347.6 L1051.3,348.5 L1052.5,349.4 L1053.8,350.2 L1055.0,351.1 L1056.2,351.9 L1057.5,352.7 L1058.7,353.6 L1060.0,354.4 L1061.2,355.2 L1062.5,356.1 L1063.7,356.9 L1065.0,357.7 L1066.3,358.5 L1067.5,359.3 L1068.8,360.1 L1070.1,360.9 L1071.3,361.7 L1072.6,362.5 L1073.9,363.3 L1075.2,364.1 L1076.4,364.9 L1077.7,365.6 L1079.0,366.4 L1080.3,367.2 L1081.6,368.0 L1082.9,368.7 L1084.1,369.5 L1085.4,370.3 L1086.7,371.0 L1088.0,371.8 L1089.3,372.5 L1090.6,373.3 L1091.9,374.1 L1093.2,374.8 L1094.5,375.6 L1095.8,376.3 L1097.1,377.0 L1098.4,377.8 L1099.7,378.5 L1101.0,379.3 L1102.3,380.0 L1103.6,380.8 L1104.9,381.5 L1106.2,382.2 L1107.5,383.0 L1108.8,383.7 L1110.2,384.4 L1111.5,385.2 L1112.8,385.9 L1114.1,386.6 L1115.4,387.4 L1116.7,388.1 L1118.0,388.8 L1119.3,389.6 L1120.6,390.3 L1122.0,391.0 L1123.3,391.7 L1124.6,392.5 L1125.9,393.2 L1127.2,393.9 L1128.5,394.6 L1129.8,395.3 L1131.2,396.1 L1132.5,396.8 L1133.8,397.5 L1135.1,398.2 L1136.4,398.9 L1137.7,399.6 L1139.1,400.4 L1140.4,401.1 L1141.7,401.8 L1143.0,402.5 L1144.4,403.2 L1145.7,403.9 L1147.0,404.6 L1148.3,405.3 L1149.7,406.0 L1151.0,406.7 L1152.3,407.4 L1153.6,408.1 L1155.0,408.8 L1156.3,409.5 L1157.6,410.2 L1158.9,410.9 L1160.3,411.6 L1161.6,412.3 L1162.9,413.0 L1164.3,413.7 L1165.6,414.3 L1166.9,415.0 L1168.3,415.7 L1169.6,416.4 L1170.9,417.1 L1172.3,417.8 L1173.6,418.4 L1175.0,419.1 L1176.3,419.8 L1177.6,420.5 L1179.0,421.2 L1180.3,421.8 L1181.6,422.5 L1183.0,423.2 L1184.3,423.8 L1185.7,424.5 L1187.0,425.2 L1188.4,425.8 L1189.7,426.5 L1191.1,427.2 L1192.4,427.8 L1193.7,428.5 L1195.1,429.1 L1196.4,429.8 L1197.8,430.5 L1199.1,431.1 L1200.5,431.8 L1201.8,432.4 L1203.2,433.1 L1204.6,433.7 L1205.9,434.4 L1207.3,435.0 L1208.6,435.6 L1210.0,436.3 L1211.3,436.9 L1212.7,437.6 L1214.0,438.2 L1215.4,438.8 L1216.8,439.5 L1218.1,440.1 L1219.5,440.7 L1220.8,441.4 L1222.2,442.0 L1223.6,442.6 L1224.9,443.2 L1226.3,443.8 L1227.7,444.5 L1229.0,445.1 L1230.4,445.7 L1231.8,446.3 L1233.1,446.9 L1234.5,447.5 L1235.9,448.1 L1237.3,448.8 L1238.6,449.4 L1240.0,450.0 L1241.4,450.6 L1242.7,451.2 L1244.1,451.8 L1245.5,452.4 L1246.9,453.0 L1248.3,453.5 L1249.6,454.1 L1251.0,454.7 L1252.4,455.3 L1253.8,455.9 L1255.2,456.5 L1256.5,457.1 L1257.9,457.6 L1259.3,458.2 L1260.7,458.8 L1262.1,459.4 L1263.5,459.9 L1264.9,460.5 L1266.2,461.1 L1267.6,461.6 L1269.0,462.2 L1270.4,462.8 L1271.8,463.3 L1273.2,463.9 L1274.6,464.4 L1276.0,465.0 L1277.4,465.5 L1278.8,466.1 L1280.2,466.6 L1281.6,467.2 L1283.0,467.7 L1284.4,468.3 L1285.8,468.8 L1287.2,469.3 L1288.6,469.9 L1290.0,470.4 L1291.4,470.9 L1292.8,471.4 L1294.2,472.0 L1295.6,472.5 L1297.0,473.0 L1298.4,473.5 L1299.8,474.0 L1301.2,474.6 L1302.6,475.1 L1304.1,475.6 L1305.5,476.1 L1306.9,476.6 L1308.3,477.1 L1309.7,477.6 L1311.1,478.1 L1312.5,478.6 L1313.9,479.1 L1315.4,479.6 L1316.8,480.1 L1318.2,480.6 L1319.6,481.0 L1321.0,481.5 L1322.5,482.0 L1323.9,482.5 L1325.3,483.0 L1326.7,483.4 L1328.2,483.9 L1329.6,484.4 L1331.0,484.8 L1332.4,485.3 L1333.9,485.8 L1335.3,486.2 L1336.7,486.7 L1338.1,487.2 L1339.6,487.6 L1341.0,488.1 L1342.4,488.5 L1343.9,489.0 L1345.3,489.4 L1346.7,489.9 L1348.1,490.3 L1349.6,490.8 L1351.0,491.2 L1352.4,491.6 L1353.9,492.1 L1355.3,492.5 L1356.8,492.9 L1358.2,493.4 L1359.6,493.8 L1361.1,494.2 L1362.5,494.6 L1363.9,495.1 L1365.4,495.5 L1366.8,495.9 L1368.3,496.3 L1369.7,496.7 L1371.2,497.2 L1372.6,497.6 L1374.0,498.0 L1375.5,498.4 L1376.9,498.8 L1378.4,499.2 L1379.8,499.6 L1381.3,500.0 L1382.7,500.4 L1384.2,500.8 L1385.6,501.2 L1387.0,501.6 L1388.5,502.0 L1389.9,502.3 L1391.4,502.7 L1392.8,503.1 L1394.3,503.5 L1395.7,503.9 L1397.2,504.3 L1398.6,504.6 L1400.1,505.0 L1401.6,505.4 L1403.0,505.8 L1404.5,506.1 L1405.9,506.5 L1407.4,506.9 L1408.8,507.2 L1410.3,507.6 L1411.7,508.0 L1413.2,508.3 L1414.6,508.7 L1416.1,509.0 L1417.6,509.4 L1419.0,509.7 L1420.5,510.1 L1421.9,510.4 L1423.4,510.8 L1424.9,511.1 L1426.3,511.5 L1427.8,511.8 L1429.2,512.2 L1430.7,512.5 L1432.2,512.9 L1433.6,513.2 L1435.1,513.5 L1436.5,513.9 L1438.0,514.2 L1439.5,514.5 L1440.9,514.9 L1442.4,515.2 L1443.9,515.5 L1445.3,515.8 L1446.8,516.2 L1448.2,516.5 L1449.7,516.8 L1451.2,517.1 L1452.6,517.4 L1454.1,517.8 L1455.6,518.1 L1457.0,518.4 L1458.5,518.7 L1460.0,519.0 L1461.4,519.3 L1462.9,519.6 L1464.4,519.9 L1465.9,520.2 L1467.3,520.5 L1468.8,520.8 L1470.3,521.1 L1471.7,521.4 L1473.2,521.7 L1474.7,522.0 L1476.1,522.3 L1477.6,522.6 L1479.1,522.9 L1480.6,523.2 L1482.0,523.5 L1483.5,523.8 L1485.0,524.1 L1486.4,524.4 L1487.9,524.6 L1489.4,524.9 L1490.9,525.2 L1492.3,525.5 L1493.8,525.8 L1495.3,526.0 L1496.8,526.3 L1498.2,526.6 L1499.7,526.9 L1501.2,527.2 L1502.7,527.4 L1504.1,527.7 L1505.6,528.0 L1507.1,528.2 L1508.6,528.5 L1510.0,528.8 L1511.5,529.0 L1513.0,529.3 L1514.5,529.6 L1515.9,529.8 L1517.4,530.1 L1518.9,530.4 L1520.4,530.6 L1521.8,530.9 L1523.3,531.1 L1524.8,531.4 L1526.3,531.6 L1527.8,531.9 L1529.2,532.2 L1530.7,532.4 L1532.2,532.7 L1533.7,532.9 L1535.2,533.2 L1536.6,533.4 L1538.1,533.7 L1539.6,533.9 L1541.1,534.2 L1542.5,534.4 L1544.0,534.6 L1545.5,534.9 L1547.0,535.1 L1548.5,535.4 L1550.0,535.6 L1551.4,535.9 L1552.9,536.1 L1554.4,536.3 L1555.9,536.6 L1557.4,536.8 L1558.8,537.0 L1560.3,537.3 L1561.8,537.5 L1563.3,537.8 L1564.8,538.0 L1566.2,538.2 L1567.7,538.5 L1569.2,538.7 L1570.7,538.9 L1572.2,539.1 L1573.7,539.4 L1575.1,539.6 L1576.6,539.8 L1578.1,540.1 L1579.6,540.3 L1581.1,540.5 L1582.5,540.7 L1584.0,541.0 L1585.5,541.2 L1587.0,541.4 L1588.5,541.6 L1590.0,541.9 L1591.4,542.1 L1592.9,542.3 L1594.4,542.5 L1595.9,542.8 L1597.4,543.0 L1598.9,543.2 L1600.3,543.4 L1601.8,543.6 L1603.3,543.9 L1604.8,544.1 L1606.3,544.3 L1607.8,544.5 L1609.3,544.7 L1610.7,544.9 L1612.2,545.2 L1613.7,545.4 L1615.2,545.6 L1616.7,545.8 L1618.2,546.0 L1619.6,546.2 L1621.1,546.5 L1622.6,546.7 L1624.1,546.9 L1625.6,547.1 L1627.1,547.3 L1628.6,547.5 L1630.0,547.7 L1631.5,548.0 L1633.0,548.2 L1634.5,548.4 L1636.0,548.6 L1637.5,548.8 L1638.9,549.0 L1640.4,549.2 L1641.9,549.4 L1643.4,549.7 L1644.9,549.9 L1646.4,550.1 L1647.9,550.3 L1649.3,550.5 L1650.8,550.7 L1652.3,550.9 L1653.8,551.1 L1655.3,551.3 L1656.8,551.6 L1658.2,551.8 L1659.7,552.0 L1661.2,552.2 L1662.7,552.4 L1664.2,552.6 L1665.7,552.8 L1667.2,553.0 L1668.6,553.2 L1670.1,553.5 L1671.6,553.7 L1673.1,553.9 L1674.6,554.1 L1676.1,554.3 L1677.6,554.5 L1679.0,554.7 L1680.5,554.9" fill="none" stroke="#0000ff" stroke-width="12.0" stroke-linejoin="round" stroke-linecap="round"/>
<path d="M972.2,244.6 L972.4,246.1 L972.7,247.6 L972.9,249.0 L973.2,250.5 L973.4,252.0 L973.7,253.5 L974.0,254.9 L974.3,256.4 L974.7,257.9 L975.0,259.3 L975.4,260.8 L975.8,262.2 L976.4,263.6 L977.0,265.0 L977.6,266.3 L978.2,267.7 L978.8,269.0 L979.4,270.4 L980.0,271.8 L980.6,273.1 L981.2,274.5 L981.8,275.8 L982.5,277.2 L983.1,278.5 L983.8,279.8 L984.5,281.1 L985.2,282.4 L986.0,283.7 L986.7,285.0 L987.5,286.3 L988.3,287.6 L989.1,288.9 L989.8,290.2 L990.6,291.4 L991.5,292.7 L992.3,293.9 L993.1,295.2 L994.0,296.4 L994.9,297.6 L995.7,298.8 L996.6,300.0 L997.5,301.2 L998.5,302.3 L999.4,303.5 L1000.4,304.6 L1001.3,305.8 L1002.3,306.9 L1003.3,308.0 L1004.3,309.1 L1005.3,310.2 L1006.3,311.3 L1007.4,312.4 L1008.4,313.4 L1009.5,314.5 L1010.6,315.5 L1011.6,316.5 L1012.7,317.6 L1013.9,318.6 L1015.0,319.6 L1016.1,320.6 L1017.2,321.6 L1018.3,322.6 L1019.4,323.6 L1020.6,324.6 L1021.7,325.5 L1022.8,326.5 L1024.0,327.5 L1025.1,328.5 L1026.3,329.4 L1027.4,330.4 L1028.6,331.3 L1029.7,332.3 L1030.9,333.2 L1032.1,334.2 L1033.2,335.1 L1034.4,336.0 L1035.6,336.9 L1036.8,337.9 L1038.0,338.8 L1039.2,339.7 L1040.4,340.6 L1041.6,341.5 L1042.8,342.4 L1044.0,343.3 L1045.2,344.2 L1046.4,345.0 L1047.6,345.9 L1048.8,346.8 L1050.1,347.6 L1051.3,348.5 L1052.5,349.4 L1053.8,350.2 L1055.0,351.1 L1056.2,351.9 L1057.5,352.7 L1058.7,353.6 L1060.0,354.4 L1061.2,355.2 L1062.5,356.1 L1063.7,356.9 L1065.0,357.7 L1066.3,358.5 L1067.5,359.3 L1068.8,360.1 L1070.1,360.9 L1071.3,361.7 L1072.6,362.5 L1073.9,363.3 L1075.2,364.1 L1076.4,364.9 L1077.7,365.6 L1079.0,366.4 L1080.3,367.2 L1081.6,368.0 L1082.9,368.7 L1084.1,369.5 L1085.4,370.3 L1086.7,371.0 L1088.0,371.8 L1089.3,372.5 L1090.6,373.3 L1091.9,374.1 L1093.2,374.8 L1094.5,375.6 L1095.8,376.3 L1097.1,377.0 L1098.4,377.8 L1099.7,378.5 L1101.0,379.3 L1102.3,380.0 L1103.6,380.8 L1104.9,381.5 L1106.2,382.2 L1107.5,383.0 L1108.8,383.7 L1110.2,384.4 L1111.5,385.2 L1112.8,385.9 L1114.1,386.6 L1115.4,387.4 L1116.7,388.1 L1118.0,388.8 L1119.3,389.6 L1120.6,390.3 L1122.0,391.0 L1123.3,391.7 L1124.6,392.5 L1125.9,393.2 L1127.2,393.9 L1128.5,394.6 L1129.8,395.3 L1131.2,396.1 L1132.5,396.8 L1133.8,397.5 L1135.1,398.2 L1136.4,398.9 L1137.7,399.6 L1139.1,400.4 L1140.4,401.1 L1141.7,401.8 L1143.0,402.5 L1144.4,403.2 L1145.7,403.9 L1147.0,404.6 L1148.3,405.3 L1149.7,406.0 L1151.0,406.7 L1152.3,407.4 L1153.6,408.1 L1155.0,408.8 L1156.3,409.5 L1157.6,410.2 L1158.9,410.9 L1160.3,411.6 L1161.6,412.3 L1162.9,413.0 L1164.3,413.7 L1165.6,414.3 L1166.9,415.0 L1168.3,415.7 L1169.6,416.4 L1170.9,417.1 L1172.3,417.8 L1173.6,418.4 L1175.0,419.1 L1176.3,419.8 L1177.6,420.5 L1179.0,421.2 L1180.3,421.8 L1181.6,422.5 L1183.0,423.2 L1184.3,423.8 L1185.7,424.5 L1187.0,425.2 L1188.4,425.8 L1189.7,426.5 L1191.1,427.2 L1192.4,427.8 L1193.7,428.5 L1195.1,429.1 L1196.4,429.8 L1197.8,430.5 L1199.1,431.1 L1200.5,431.8 L1201.8,432.4 L1203.2,433.1 L1204.6,433.7 L1205.9,434.4 L1207.3,435.0 L1208.6,435.6 L1210.0,436.3 L1211.3,436.9 L1212.7,437.6 L1214.0,438.2 L1215.4,438.8 L1216.8,439.5 L1218.1,440.1 L1219.5,440.7 L1220.8,441.4 L1222.2,442.0 L1223.6,442.6 L1224.9,443.2 L1226.3,443.8 L1227.7,444.5 L1229.0,445.1 L1230.4,445.7 L1231.8,446.3 L1233.1,446.9 L1234.5,447.5 L1235.9,448.1 L1237.3,448.8 L1238.6,449.4 L1240.0,450.0 L1241.4,450.6 L1242.7,451.2 L1244.1,451.8 L1245.5,452.4 L1246.9,453.0 L1248.3,453.5 L1249.6,454.1 L1251.0,454.7 L1252.4,455.3 L1253.8,455.9 L1255.2,456.5 L1256.5,457.1 L1257.9,457.6 L1259.3,458.2 L1260.7,458.8 L1262.1,459.4 L1263.5,459.9 L1264.9,460.5 L1266.2,461.1 L1267.6,461.6 L1269.0,462.2 L1270.4,462.8 L1271.8,463.3 L1273.2,463.9 L1274.6,464.4 L1276.0,465.0 L1277.4,465.5 L1278.8,466.1 L1280.2,466.6 L1281.6,467.2 L1283.0,467.7 L1284.4,468.3 L1285.8,468.8 L1287.2,469.3 L1288.6,469.9 L1290.0,470.4 L1291.4,470.9 L1292.8,471.4 L1294.2,472.0 L1295.6,472.5 L1297.0,473.0 L1298.4,473.5 L1299.8,474.0 L1301.2,474.6 L1302.6,475.1 L1304.1,475.6 L1305.5,476.1 L1306.9,476.6 L1308.3,477.1 L1309.7,477.6 L1311.1,478.1 L1312.5,478.6 L1313.9,479.1 L1315.4,479.6 L1316.8,480.1 L1318.2,480.6 L1319.6,481.0 L1321.0,481.5 L1322.5,482.0 L1323.9,482.5 L1325.3,483.0 L1326.7,483.4 L1328.2,483.9 L1329.6,484.4 L1331.0,484.8 L1332.4,485.3 L1333.9,485.8 L1335.3,486.2 L1336.7,486.7 L1338.1,487.2 L1339.6,487.6 L1341.0,488.1 L1342.4,488.5 L1343.9,489.0 L1345.3,489.4 L1346.7,489.9 L1348.1,490.3 L1349.6,490.8 L1351.0,491.2 L1352.4,491.6 L1353.9,492.1 L1355.3,492.5 L1356.8,492.9 L1358.2,493.4 L1359.6,493.8 L1361.1,494.2 L1362.5,494.6 L1363.9,495.1 L1365.4,495.5 L1366.8,495.9 L1368.3,496.3 L1369.7,496.7 L1371.2,497.2 L1372.6,497.6 L1374.0,498.0 L1375.5,498.4 L1376.9,498.8 L1378.4,499.2 L1379.8,499.6 L1381.3,500.0 L1382.7,500.4 L1384.2,500.8 L1385.6,501.2 L1387.0,501.6 L1388.5,502.0 L1389.9,502.3 L1391.4,502.7 L1392.8,503.1 L1394.3,503.5 L1395.7,503.9 L1397.2,504.3 L1398.6,504.6 L1400.1,505.0 L1401.6,505.4 L1403.0,505.8 L1404.5,506.1 L1405.9,506.5 L1407.4,506.9 L1408.8,507.2 L1410.3,507.6 L1411.7,508.0 L1413.2,508.3 L1414.6,508.7 L1416.1,509.0 L1417.6,509.4 L1419.0,509.7 L1420.5,510.1 L1421.9,510.4 L1423.4,510.8 L1424.9,511.1 L1426.3,511.5 L1427.8,511.8 L1429.2,512.2 L1430.7,512.5 L1432.2,512.9 L1433.6,513.2 L1435.1,513.5 L1436.5,513.9 L1438.0,514.2 L1439.5,514.5 L1440.9,514.9 L1442.4,515.2 L1443.9,515.5 L1445.3,515.8 L1446.8,516.2 L1448.2,516.5 L1449.7,516.8 L1451.2,517.1 L1452.6,517.4 L1454.1,517.8 L1455.6,518.1 L1457.0,518.4 L1458.5,518.7 L1460.0,519.0 L1461.4,519.3 L1462.9,519.6 L1464.4,519.9 L1465.9,520.2 L1467.3,520.5 L1468.8,520.8 L1470.3,521.1 L1471.7,521.4 L1473.2,521.7 L1474.7,522.0 L1476.1,522.3 L1477.6,522.6 L1479.1,522.9 L1480.6,523.2 L1482.0,523.5 L1483.5,523.8 L1485.0,524.1 L1486.4,524.4 L1487.9,524.6 L1489.4,524.9 L1490.9,525.2 L1492.3,525.5 L1493.8,525.8 L1495.3,526.0 L1496.8,526.3 L1498.2,526.6 L1499.7,526.9 L1501.2,527.2 L1502.7,527.4 L1504.1,527.7 L1505.6,528.0 L1507.1,528.2 L1508.6,528.5 L1510.0,528.8 L1511.5,529.0 L1513.0,529.3 L1514.5,529.6 L1515.9,529.8 L1517.4,530.1 L1518.9,530.4 L1520.4,530.6 L1521.8,530.9 L1523.3,531.1 L1524.8,531.4 L1526.3,531.6 L1527.8,531.9 L1529.2,532.2 L1530.7,532.4 L1532.2,532.7 L1533.7,532.9 L1535.2,533.2 L1536.6,533.4 L1538.1,533.7 L1539.6,533.9 L1541.1,534.2 L1542.5,534.4 L1544.0,534.6 L1545.5,534.9 L1547.0,535.1 L1548.5,535.4 L1550.0,535.6 L1551.4,535.9 L1552.9,536.1 L1554.4,536.3 L1555.9,536.6 L1557.4,536.8 L1558.8,537.0 L1560.3,537.3 L1561.8,537.5 L1563.3,537.8 L1564.8,538.0 L1566.2,538.2 L1567.7,538.5 L1569.2,538.7 L1570.7,538.9 L1572.2,539.1 L1573.7,539.4 L1575.1,539.6 L1576.6,539.8 L1578.1,540.1 L1579.6,540.3 L1581.1,540.5 L1582.5,540.7 L1584.0,541.0 L1585.5,541.2 L1587.0,541.4 L1588.5,541.6 L1590.0,541.9 L1591.4,542.1 L1592.9,542.3 L1594.4,542.5 L1595.9,542.8 L1597.4,543.0 L1598.9,543.2 L1600.3,543.4 L1601.8,543.6 L1603.3,543.9 L1604.8,544.1 L1606.3,544.3 L1607.8,544.5 L1609.3,544.7 L1610.7,544.9 L1612.2,545.2 L1613.7,545.4 L1615.2,545.6 L1616.7,545.8 L1618.2,546.0 L1619.6,546.2 L1621.1,546.5 L1622.6,546.7 L1624.1,546.9 L1625.6,547.1 L1627.1,547.3 L1628.6,547.5 L1630.0,547.7 L1631.5,548.0 L1633.0,548.2 L1634.5,548.4 L1636.0,548.6 L1637.5,548.8 L1638.9,549.0 L1640.4,549.2 L1641.9,549.4 L1643.4,549.7 L1644.9,549.9 L1646.4,550.1 L1647.9,550.3 L1649.3,550.5 L1650.8,550.7 L1652.3,550.9 L1653.8,551.1 L1655.3,551.3 L1656.8,551.6 L1658.2,551.8 L1659.7,552.0 L1661.2,552.2 L1662.7,552.4 L1664.2,552.6 L1665.7,552.8 L1667.2,553.0 L1668.6,553.2 L1670.1,553.5 L1671.6,553.7 L1673.1,553.9 L1674.6,554.1 L1676.1,554.3 L1677.6,554.5 L1679.0,554.7 L1680.5,554.9" fill="none" stroke="#7c7cff" stroke-width="4.2" stroke-dasharray="1.1 1.3" opacity="0.9" transform="translate(-0.5,-1.6)"/>
<use href="#mB" x="969.8" y="192.4"/>
<use href="#mB" x="969.4" y="221.5"/>
<use href="#mB" x="971.6" y="238.1"/>
<use href="#mB" x="972.8" y="248.8"/>
<use href="#mB" x="974.5" y="257.1"/>
<use href="#mB" x="976.1" y="264.4"/>
<use href="#mB" x="978.3" y="270.6"/>
<polyline points="969.7,313.2 970.8,340.6 972.2,351.0 973.2,357.3 974.7,363.6" fill="none" stroke="#008000" stroke-width="5.6" stroke-linejoin="round" stroke-linecap="round"/>
<path d="M974.7,363.6 L975.4,364.9 L976.0,366.3 L976.7,367.6 L977.3,368.9 L978.0,370.3 L978.6,371.7 L979.2,373.0 L980.1,374.2 L981.2,375.1 L982.4,375.8 L983.7,376.4 L985.0,377.0 L986.4,377.6 L987.7,378.2 L989.1,378.8 L990.4,379.4 L991.8,380.0 L993.0,380.7 L994.3,381.3 L995.6,382.0 L997.0,382.6 L998.4,383.1 L999.8,383.7 L1001.2,384.2 L1002.5,384.8 L1003.9,385.4 L1005.3,385.9 L1006.7,386.5 L1008.1,387.1 L1009.5,387.7 L1010.8,388.3 L1012.2,388.9 L1013.6,389.5 L1015.0,390.1 L1016.4,390.7 L1017.7,391.2 L1019.1,391.8 L1020.5,392.4 L1021.9,393.0 L1023.2,393.6 L1024.6,394.2 L1026.0,394.8 L1027.4,395.4 L1028.7,396.0 L1030.1,396.6 L1031.5,397.2 L1032.9,397.8 L1034.2,398.4 L1035.6,399.0 L1037.0,399.6 L1038.4,400.2 L1039.8,400.8 L1041.1,401.4 L1042.5,402.0 L1043.9,402.6 L1045.2,403.2 L1046.6,403.8 L1048.0,404.4 L1049.4,405.0 L1050.7,405.6 L1052.1,406.2 L1053.5,406.8 L1054.9,407.4 L1056.2,408.0 L1057.6,408.7 L1059.0,409.3 L1060.3,409.9 L1061.7,410.5 L1063.1,411.1 L1064.4,411.7 L1065.8,412.3 L1067.2,412.9 L1068.5,413.6 L1069.9,414.2 L1071.3,414.8 L1072.7,415.4 L1074.0,416.0 L1075.4,416.6 L1076.8,417.2 L1078.1,417.8 L1079.5,418.5 L1080.9,419.1 L1082.2,419.7 L1083.6,420.3 L1085.0,420.9 L1086.3,421.5 L1087.7,422.1 L1089.1,422.7 L1090.5,423.3 L1091.8,424.0 L1093.2,424.6 L1094.6,425.2 L1095.9,425.8 L1097.3,426.4 L1098.7,427.0 L1100.1,427.6 L1101.4,428.2 L1102.8,428.8 L1104.2,429.4 L1105.5,430.0 L1106.9,430.6 L1108.3,431.2 L1109.7,431.8 L1111.0,432.4 L1112.4,433.0 L1113.8,433.6 L1115.2,434.2 L1116.5,434.8 L1117.9,435.4 L1119.3,436.0 L1120.7,436.6 L1122.0,437.2 L1123.4,437.8 L1124.8,438.4 L1126.2,439.0 L1127.5,439.6 L1128.9,440.2 L1130.3,440.8 L1131.7,441.4 L1133.1,442.0 L1134.4,442.6 L1135.8,443.2 L1137.2,443.8 L1138.6,444.4 L1140.0,444.9 L1141.3,445.5 L1142.7,446.1 L1144.1,446.7 L1145.5,447.3 L1146.9,447.9 L1148.2,448.5 L1149.6,449.0 L1151.0,449.6 L1152.4,450.2 L1153.8,450.8 L1155.2,451.4 L1156.5,451.9 L1157.9,452.5 L1159.3,453.1 L1160.7,453.7 L1162.1,454.2 L1163.5,454.8 L1164.8,455.4 L1166.2,456.0 L1167.6,456.5 L1169.0,457.1 L1170.4,457.7 L1171.8,458.2 L1173.2,458.8 L1174.6,459.4 L1175.9,459.9 L1177.3,460.5 L1178.7,461.1 L1180.1,461.6 L1181.5,462.2 L1182.9,462.8 L1184.3,463.3 L1185.7,463.9 L1187.1,464.4 L1188.5,465.0 L1189.9,465.5 L1191.3,466.1 L1192.7,466.7 L1194.0,467.2 L1195.4,467.8 L1196.8,468.3 L1198.2,468.9 L1199.6,469.4 L1201.0,469.9 L1202.4,470.5 L1203.8,471.0 L1205.2,471.6 L1206.6,472.1 L1208.0,472.7 L1209.4,473.2 L1210.8,473.7 L1212.2,474.3 L1213.6,474.8 L1215.0,475.4 L1216.4,475.9 L1217.8,476.4 L1219.2,477.0 L1220.6,477.5 L1222.0,478.0 L1223.4,478.6 L1224.8,479.1 L1226.2,479.6 L1227.6,480.1 L1229.0,480.7 L1230.5,481.2 L1231.9,481.7 L1233.3,482.2 L1234.7,482.7 L1236.1,483.3 L1237.5,483.8 L1238.9,484.3 L1240.3,484.8 L1241.7,485.3 L1243.1,485.8 L1244.5,486.4 L1245.9,486.9 L1247.4,487.4 L1248.8,487.9 L1250.2,488.4 L1251.6,488.9 L1253.0,489.4 L1254.4,489.9 L1255.8,490.4 L1257.2,490.9 L1258.7,491.4 L1260.1,491.9 L1261.5,492.4 L1262.9,492.9 L1264.3,493.4 L1265.7,493.9 L1267.1,494.4 L1268.6,494.9 L1270.0,495.4 L1271.4,495.9 L1272.8,496.4 L1274.2,496.8 L1275.7,497.3 L1277.1,497.8 L1278.5,498.3 L1279.9,498.7 L1281.4,499.2 L1282.8,499.7 L1284.2,500.1 L1285.6,500.6 L1287.1,501.1 L1288.5,501.5 L1289.9,502.0 L1291.3,502.4 L1292.8,502.9 L1294.2,503.3 L1295.6,503.8 L1297.1,504.2 L1298.5,504.7 L1299.9,505.1 L1301.4,505.6 L1302.8,506.0 L1304.2,506.5 L1305.7,506.9 L1307.1,507.3 L1308.5,507.8 L1310.0,508.2 L1311.4,508.6 L1312.8,509.1 L1314.3,509.5 L1315.7,509.9 L1317.2,510.4 L1318.6,510.8 L1320.0,511.2 L1321.5,511.6 L1322.9,512.1 L1324.3,512.5 L1325.8,512.9 L1327.2,513.3 L1328.7,513.7 L1330.1,514.2 L1331.5,514.6 L1333.0,515.0 L1334.4,515.4 L1335.9,515.8 L1337.3,516.2 L1338.8,516.6 L1340.2,517.0 L1341.6,517.5 L1343.1,517.9 L1344.5,518.3 L1346.0,518.7 L1347.4,519.1 L1348.9,519.5 L1350.3,519.9 L1351.8,520.3 L1353.2,520.7 L1354.7,521.1 L1356.1,521.5 L1357.5,521.9 L1359.0,522.2 L1360.4,522.6 L1361.9,523.0 L1363.3,523.4 L1364.8,523.8 L1366.2,524.2 L1367.7,524.6 L1369.1,525.0 L1370.6,525.3 L1372.0,525.7 L1373.5,526.1 L1374.9,526.5 L1376.4,526.9 L1377.8,527.2 L1379.3,527.6 L1380.8,528.0 L1382.2,528.4 L1383.7,528.7 L1385.1,529.1 L1386.6,529.5 L1388.0,529.8 L1389.5,530.2 L1390.9,530.6 L1392.4,530.9 L1393.8,531.3 L1395.3,531.6 L1396.8,532.0 L1398.2,532.4 L1399.7,532.7 L1401.1,533.1 L1402.6,533.4 L1404.0,533.8 L1405.5,534.1 L1407.0,534.5 L1408.4,534.8 L1409.9,535.2 L1411.3,535.5 L1412.8,535.9 L1414.3,536.2 L1415.7,536.5 L1417.2,536.9 L1418.6,537.2 L1420.1,537.5 L1421.6,537.9 L1423.0,538.2 L1424.5,538.5 L1426.0,538.9 L1427.4,539.2 L1428.9,539.5 L1430.3,539.8 L1431.8,540.2 L1433.3,540.5 L1434.7,540.8 L1436.2,541.1 L1437.7,541.4 L1439.1,541.7 L1440.6,542.1 L1442.1,542.4 L1443.5,542.7 L1445.0,543.0 L1446.5,543.3 L1448.0,543.6 L1449.4,543.9 L1450.9,544.2 L1452.4,544.5 L1453.8,544.8 L1455.3,545.1 L1456.8,545.4 L1458.2,545.7 L1459.7,546.0 L1461.2,546.3 L1462.7,546.6 L1464.1,546.9 L1465.6,547.1 L1467.1,547.4 L1468.5,547.7 L1470.0,548.0 L1471.5,548.3 L1473.0,548.6 L1474.4,548.8 L1475.9,549.1 L1477.4,549.4 L1478.9,549.7 L1480.3,549.9 L1481.8,550.2 L1483.3,550.5 L1484.8,550.8 L1486.2,551.0 L1487.7,551.3 L1489.2,551.6 L1490.7,551.8 L1492.1,552.1 L1493.6,552.4 L1495.1,552.6 L1496.6,552.9 L1498.1,553.1 L1499.5,553.4 L1501.0,553.6 L1502.5,553.9 L1504.0,554.1 L1505.4,554.4 L1506.9,554.6 L1508.4,554.9 L1509.9,555.1 L1511.4,555.4 L1512.8,555.6 L1514.3,555.9 L1515.8,556.1 L1517.3,556.3 L1518.8,556.6 L1520.2,556.8 L1521.7,557.1 L1523.2,557.3 L1524.7,557.5 L1526.2,557.8 L1527.7,558.0 L1529.1,558.2 L1530.6,558.4 L1532.1,558.7 L1533.6,558.9 L1535.1,559.1 L1536.6,559.3 L1538.0,559.5 L1539.5,559.8 L1541.0,560.0 L1542.5,560.2 L1544.0,560.4 L1545.5,560.6 L1546.9,560.8 L1548.4,561.0 L1549.9,561.2 L1551.4,561.5 L1552.9,561.7 L1554.4,561.9 L1555.9,562.1 L1557.3,562.3 L1558.8,562.5 L1560.3,562.7 L1561.8,562.9 L1563.3,563.0 L1564.8,563.2 L1566.3,563.4 L1567.8,563.6 L1569.2,563.8 L1570.7,564.0 L1572.2,564.2 L1573.7,564.4 L1575.2,564.6 L1576.7,564.7 L1578.2,564.9 L1579.7,565.1 L1581.2,565.3 L1582.6,565.4 L1584.1,565.6 L1585.6,565.8 L1587.1,566.0 L1588.6,566.1 L1590.1,566.3 L1591.6,566.5 L1593.1,566.6 L1594.6,566.8 L1596.1,567.0 L1597.6,567.1 L1599.0,567.3 L1600.5,567.4 L1602.0,567.6 L1603.5,567.7 L1605.0,567.9 L1606.5,568.0 L1608.0,568.2 L1609.5,568.3 L1611.0,568.5 L1612.5,568.6 L1614.0,568.8 L1615.5,568.9 L1617.0,569.1 L1618.4,569.2 L1619.9,569.3 L1621.4,569.5 L1622.9,569.6 L1624.4,569.8 L1625.9,569.9 L1627.4,570.0 L1628.9,570.1 L1630.4,570.3 L1631.9,570.4 L1633.4,570.5 L1634.9,570.6 L1636.4,570.8 L1637.9,570.9 L1639.4,571.0 L1640.9,571.1 L1642.4,571.2 L1643.9,571.4 L1645.4,571.5 L1646.8,571.6 L1648.3,571.7 L1649.8,571.8 L1651.3,571.9 L1652.8,572.0 L1654.3,572.1 L1655.8,572.2 L1657.3,572.3 L1658.8,572.4 L1660.3,572.5 L1661.8,572.6 L1663.3,572.7 L1664.8,572.8 L1666.3,572.9 L1667.8,573.0 L1669.3,573.1 L1670.8,573.2 L1672.3,573.3 L1673.8,573.3 L1675.3,573.4 L1676.8,573.5 L1678.3,573.6 L1679.8,573.7" fill="none" stroke="#005a00" stroke-width="15.2" stroke-linejoin="round" stroke-linecap="round"/>
<path d="M974.7,363.6 L975.4,364.9 L976.0,366.3 L976.7,367.6 L977.3,368.9 L978.0,370.3 L978.6,371.7 L979.2,373.0 L980.1,374.2 L981.2,375.1 L982.4,375.8 L983.7,376.4 L985.0,377.0 L986.4,377.6 L987.7,378.2 L989.1,378.8 L990.4,379.4 L991.8,380.0 L993.0,380.7 L994.3,381.3 L995.6,382.0 L997.0,382.6 L998.4,383.1 L999.8,383.7 L1001.2,384.2 L1002.5,384.8 L1003.9,385.4 L1005.3,385.9 L1006.7,386.5 L1008.1,387.1 L1009.5,387.7 L1010.8,388.3 L1012.2,388.9 L1013.6,389.5 L1015.0,390.1 L1016.4,390.7 L1017.7,391.2 L1019.1,391.8 L1020.5,392.4 L1021.9,393.0 L1023.2,393.6 L1024.6,394.2 L1026.0,394.8 L1027.4,395.4 L1028.7,396.0 L1030.1,396.6 L1031.5,397.2 L1032.9,397.8 L1034.2,398.4 L1035.6,399.0 L1037.0,399.6 L1038.4,400.2 L1039.8,400.8 L1041.1,401.4 L1042.5,402.0 L1043.9,402.6 L1045.2,403.2 L1046.6,403.8 L1048.0,404.4 L1049.4,405.0 L1050.7,405.6 L1052.1,406.2 L1053.5,406.8 L1054.9,407.4 L1056.2,408.0 L1057.6,408.7 L1059.0,409.3 L1060.3,409.9 L1061.7,410.5 L1063.1,411.1 L1064.4,411.7 L1065.8,412.3 L1067.2,412.9 L1068.5,413.6 L1069.9,414.2 L1071.3,414.8 L1072.7,415.4 L1074.0,416.0 L1075.4,416.6 L1076.8,417.2 L1078.1,417.8 L1079.5,418.5 L1080.9,419.1 L1082.2,419.7 L1083.6,420.3 L1085.0,420.9 L1086.3,421.5 L1087.7,422.1 L1089.1,422.7 L1090.5,423.3 L1091.8,424.0 L1093.2,424.6 L1094.6,425.2 L1095.9,425.8 L1097.3,426.4 L1098.7,427.0 L1100.1,427.6 L1101.4,428.2 L1102.8,428.8 L1104.2,429.4 L1105.5,430.0 L1106.9,430.6 L1108.3,431.2 L1109.7,431.8 L1111.0,432.4 L1112.4,433.0 L1113.8,433.6 L1115.2,434.2 L1116.5,434.8 L1117.9,435.4 L1119.3,436.0 L1120.7,436.6 L1122.0,437.2 L1123.4,437.8 L1124.8,438.4 L1126.2,439.0 L1127.5,439.6 L1128.9,440.2 L1130.3,440.8 L1131.7,441.4 L1133.1,442.0 L1134.4,442.6 L1135.8,443.2 L1137.2,443.8 L1138.6,444.4 L1140.0,444.9 L1141.3,445.5 L1142.7,446.1 L1144.1,446.7 L1145.5,447.3 L1146.9,447.9 L1148.2,448.5 L1149.6,449.0 L1151.0,449.6 L1152.4,450.2 L1153.8,450.8 L1155.2,451.4 L1156.5,451.9 L1157.9,452.5 L1159.3,453.1 L1160.7,453.7 L1162.1,454.2 L1163.5,454.8 L1164.8,455.4 L1166.2,456.0 L1167.6,456.5 L1169.0,457.1 L1170.4,457.7 L1171.8,458.2 L1173.2,458.8 L1174.6,459.4 L1175.9,459.9 L1177.3,460.5 L1178.7,461.1 L1180.1,461.6 L1181.5,462.2 L1182.9,462.8 L1184.3,463.3 L1185.7,463.9 L1187.1,464.4 L1188.5,465.0 L1189.9,465.5 L1191.3,466.1 L1192.7,466.7 L1194.0,467.2 L1195.4,467.8 L1196.8,468.3 L1198.2,468.9 L1199.6,469.4 L1201.0,469.9 L1202.4,470.5 L1203.8,471.0 L1205.2,471.6 L1206.6,472.1 L1208.0,472.7 L1209.4,473.2 L1210.8,473.7 L1212.2,474.3 L1213.6,474.8 L1215.0,475.4 L1216.4,475.9 L1217.8,476.4 L1219.2,477.0 L1220.6,477.5 L1222.0,478.0 L1223.4,478.6 L1224.8,479.1 L1226.2,479.6 L1227.6,480.1 L1229.0,480.7 L1230.5,481.2 L1231.9,481.7 L1233.3,482.2 L1234.7,482.7 L1236.1,483.3 L1237.5,483.8 L1238.9,484.3 L1240.3,484.8 L1241.7,485.3 L1243.1,485.8 L1244.5,486.4 L1245.9,486.9 L1247.4,487.4 L1248.8,487.9 L1250.2,488.4 L1251.6,488.9 L1253.0,489.4 L1254.4,489.9 L1255.8,490.4 L1257.2,490.9 L1258.7,491.4 L1260.1,491.9 L1261.5,492.4 L1262.9,492.9 L1264.3,493.4 L1265.7,493.9 L1267.1,494.4 L1268.6,494.9 L1270.0,495.4 L1271.4,495.9 L1272.8,496.4 L1274.2,496.8 L1275.7,497.3 L1277.1,497.8 L1278.5,498.3 L1279.9,498.7 L1281.4,499.2 L1282.8,499.7 L1284.2,500.1 L1285.6,500.6 L1287.1,501.1 L1288.5,501.5 L1289.9,502.0 L1291.3,502.4 L1292.8,502.9 L1294.2,503.3 L1295.6,503.8 L1297.1,504.2 L1298.5,504.7 L1299.9,505.1 L1301.4,505.6 L1302.8,506.0 L1304.2,506.5 L1305.7,506.9 L1307.1,507.3 L1308.5,507.8 L1310.0,508.2 L1311.4,508.6 L1312.8,509.1 L1314.3,509.5 L1315.7,509.9 L1317.2,510.4 L1318.6,510.8 L1320.0,511.2 L1321.5,511.6 L1322.9,512.1 L1324.3,512.5 L1325.8,512.9 L1327.2,513.3 L1328.7,513.7 L1330.1,514.2 L1331.5,514.6 L1333.0,515.0 L1334.4,515.4 L1335.9,515.8 L1337.3,516.2 L1338.8,516.6 L1340.2,517.0 L1341.6,517.5 L1343.1,517.9 L1344.5,518.3 L1346.0,518.7 L1347.4,519.1 L1348.9,519.5 L1350.3,519.9 L1351.8,520.3 L1353.2,520.7 L1354.7,521.1 L1356.1,521.5 L1357.5,521.9 L1359.0,522.2 L1360.4,522.6 L1361.9,523.0 L1363.3,523.4 L1364.8,523.8 L1366.2,524.2 L1367.7,524.6 L1369.1,525.0 L1370.6,525.3 L1372.0,525.7 L1373.5,526.1 L1374.9,526.5 L1376.4,526.9 L1377.8,527.2 L1379.3,527.6 L1380.8,528.0 L1382.2,528.4 L1383.7,528.7 L1385.1,529.1 L1386.6,529.5 L1388.0,529.8 L1389.5,530.2 L1390.9,530.6 L1392.4,530.9 L1393.8,531.3 L1395.3,531.6 L1396.8,532.0 L1398.2,532.4 L1399.7,532.7 L1401.1,533.1 L1402.6,533.4 L1404.0,533.8 L1405.5,534.1 L1407.0,534.5 L1408.4,534.8 L1409.9,535.2 L1411.3,535.5 L1412.8,535.9 L1414.3,536.2 L1415.7,536.5 L1417.2,536.9 L1418.6,537.2 L1420.1,537.5 L1421.6,537.9 L1423.0,538.2 L1424.5,538.5 L1426.0,538.9 L1427.4,539.2 L1428.9,539.5 L1430.3,539.8 L1431.8,540.2 L1433.3,540.5 L1434.7,540.8 L1436.2,541.1 L1437.7,541.4 L1439.1,541.7 L1440.6,542.1 L1442.1,542.4 L1443.5,542.7 L1445.0,543.0 L1446.5,543.3 L1448.0,543.6 L1449.4,543.9 L1450.9,544.2 L1452.4,544.5 L1453.8,544.8 L1455.3,545.1 L1456.8,545.4 L1458.2,545.7 L1459.7,546.0 L1461.2,546.3 L1462.7,546.6 L1464.1,546.9 L1465.6,547.1 L1467.1,547.4 L1468.5,547.7 L1470.0,548.0 L1471.5,548.3 L1473.0,548.6 L1474.4,548.8 L1475.9,549.1 L1477.4,549.4 L1478.9,549.7 L1480.3,549.9 L1481.8,550.2 L1483.3,550.5 L1484.8,550.8 L1486.2,551.0 L1487.7,551.3 L1489.2,551.6 L1490.7,551.8 L1492.1,552.1 L1493.6,552.4 L1495.1,552.6 L1496.6,552.9 L1498.1,553.1 L1499.5,553.4 L1501.0,553.6 L1502.5,553.9 L1504.0,554.1 L1505.4,554.4 L1506.9,554.6 L1508.4,554.9 L1509.9,555.1 L1511.4,555.4 L1512.8,555.6 L1514.3,555.9 L1515.8,556.1 L1517.3,556.3 L1518.8,556.6 L1520.2,556.8 L1521.7,557.1 L1523.2,557.3 L1524.7,557.5 L1526.2,557.8 L1527.7,558.0 L1529.1,558.2 L1530.6,558.4 L1532.1,558.7 L1533.6,558.9 L1535.1,559.1 L1536.6,559.3 L1538.0,559.5 L1539.5,559.8 L1541.0,560.0 L1542.5,560.2 L1544.0,560.4 L1545.5,560.6 L1546.9,560.8 L1548.4,561.0 L1549.9,561.2 L1551.4,561.5 L1552.9,561.7 L1554.4,561.9 L1555.9,562.1 L1557.3,562.3 L1558.8,562.5 L1560.3,562.7 L1561.8,562.9 L1563.3,563.0 L1564.8,563.2 L1566.3,563.4 L1567.8,563.6 L1569.2,563.8 L1570.7,564.0 L1572.2,564.2 L1573.7,564.4 L1575.2,564.6 L1576.7,564.7 L1578.2,564.9 L1579.7,565.1 L1581.2,565.3 L1582.6,565.4 L1584.1,565.6 L1585.6,565.8 L1587.1,566.0 L1588.6,566.1 L1590.1,566.3 L1591.6,566.5 L1593.1,566.6 L1594.6,566.8 L1596.1,567.0 L1597.6,567.1 L1599.0,567.3 L1600.5,567.4 L1602.0,567.6 L1603.5,567.7 L1605.0,567.9 L1606.5,568.0 L1608.0,568.2 L1609.5,568.3 L1611.0,568.5 L1612.5,568.6 L1614.0,568.8 L1615.5,568.9 L1617.0,569.1 L1618.4,569.2 L1619.9,569.3 L1621.4,569.5 L1622.9,569.6 L1624.4,569.8 L1625.9,569.9 L1627.4,570.0 L1628.9,570.1 L1630.4,570.3 L1631.9,570.4 L1633.4,570.5 L1634.9,570.6 L1636.4,570.8 L1637.9,570.9 L1639.4,571.0 L1640.9,571.1 L1642.4,571.2 L1643.9,571.4 L1645.4,571.5 L1646.8,571.6 L1648.3,571.7 L1649.8,571.8 L1651.3,571.9 L1652.8,572.0 L1654.3,572.1 L1655.8,572.2 L1657.3,572.3 L1658.8,572.4 L1660.3,572.5 L1661.8,572.6 L1663.3,572.7 L1664.8,572.8 L1666.3,572.9 L1667.8,573.0 L1669.3,573.1 L1670.8,573.2 L1672.3,573.3 L1673.8,573.3 L1675.3,573.4 L1676.8,573.5 L1678.3,573.6 L1679.8,573.7" fill="none" stroke="#008000" stroke-width="12.0" stroke-linejoin="round" stroke-linecap="round"/>
<path d="M974.7,363.6 L975.4,364.9 L976.0,366.3 L976.7,367.6 L977.3,368.9 L978.0,370.3 L978.6,371.7 L979.2,373.0 L980.1,374.2 L981.2,375.1 L982.4,375.8 L983.7,376.4 L985.0,377.0 L986.4,377.6 L987.7,378.2 L989.1,378.8 L990.4,379.4 L991.8,380.0 L993.0,380.7 L994.3,381.3 L995.6,382.0 L997.0,382.6 L998.4,383.1 L999.8,383.7 L1001.2,384.2 L1002.5,384.8 L1003.9,385.4 L1005.3,385.9 L1006.7,386.5 L1008.1,387.1 L1009.5,387.7 L1010.8,388.3 L1012.2,388.9 L1013.6,389.5 L1015.0,390.1 L1016.4,390.7 L1017.7,391.2 L1019.1,391.8 L1020.5,392.4 L1021.9,393.0 L1023.2,393.6 L1024.6,394.2 L1026.0,394.8 L1027.4,395.4 L1028.7,396.0 L1030.1,396.6 L1031.5,397.2 L1032.9,397.8 L1034.2,398.4 L1035.6,399.0 L1037.0,399.6 L1038.4,400.2 L1039.8,400.8 L1041.1,401.4 L1042.5,402.0 L1043.9,402.6 L1045.2,403.2 L1046.6,403.8 L1048.0,404.4 L1049.4,405.0 L1050.7,405.6 L1052.1,406.2 L1053.5,406.8 L1054.9,407.4 L1056.2,408.0 L1057.6,408.7 L1059.0,409.3 L1060.3,409.9 L1061.7,410.5 L1063.1,411.1 L1064.4,411.7 L1065.8,412.3 L1067.2,412.9 L1068.5,413.6 L1069.9,414.2 L1071.3,414.8 L1072.7,415.4 L1074.0,416.0 L1075.4,416.6 L1076.8,417.2 L1078.1,417.8 L1079.5,418.5 L1080.9,419.1 L1082.2,419.7 L1083.6,420.3 L1085.0,420.9 L1086.3,421.5 L1087.7,422.1 L1089.1,422.7 L1090.5,423.3 L1091.8,424.0 L1093.2,424.6 L1094.6,425.2 L1095.9,425.8 L1097.3,426.4 L1098.7,427.0 L1100.1,427.6 L1101.4,428.2 L1102.8,428.8 L1104.2,429.4 L1105.5,430.0 L1106.9,430.6 L1108.3,431.2 L1109.7,431.8 L1111.0,432.4 L1112.4,433.0 L1113.8,433.6 L1115.2,434.2 L1116.5,434.8 L1117.9,435.4 L1119.3,436.0 L1120.7,436.6 L1122.0,437.2 L1123.4,437.8 L1124.8,438.4 L1126.2,439.0 L1127.5,439.6 L1128.9,440.2 L1130.3,440.8 L1131.7,441.4 L1133.1,442.0 L1134.4,442.6 L1135.8,443.2 L1137.2,443.8 L1138.6,444.4 L1140.0,444.9 L1141.3,445.5 L1142.7,446.1 L1144.1,446.7 L1145.5,447.3 L1146.9,447.9 L1148.2,448.5 L1149.6,449.0 L1151.0,449.6 L1152.4,450.2 L1153.8,450.8 L1155.2,451.4 L1156.5,451.9 L1157.9,452.5 L1159.3,453.1 L1160.7,453.7 L1162.1,454.2 L1163.5,454.8 L1164.8,455.4 L1166.2,456.0 L1167.6,456.5 L1169.0,457.1 L1170.4,457.7 L1171.8,458.2 L1173.2,458.8 L1174.6,459.4 L1175.9,459.9 L1177.3,460.5 L1178.7,461.1 L1180.1,461.6 L1181.5,462.2 L1182.9,462.8 L1184.3,463.3 L1185.7,463.9 L1187.1,464.4 L1188.5,465.0 L1189.9,465.5 L1191.3,466.1 L1192.7,466.7 L1194.0,467.2 L1195.4,467.8 L1196.8,468.3 L1198.2,468.9 L1199.6,469.4 L1201.0,469.9 L1202.4,470.5 L1203.8,471.0 L1205.2,471.6 L1206.6,472.1 L1208.0,472.7 L1209.4,473.2 L1210.8,473.7 L1212.2,474.3 L1213.6,474.8 L1215.0,475.4 L1216.4,475.9 L1217.8,476.4 L1219.2,477.0 L1220.6,477.5 L1222.0,478.0 L1223.4,478.6 L1224.8,479.1 L1226.2,479.6 L1227.6,480.1 L1229.0,480.7 L1230.5,481.2 L1231.9,481.7 L1233.3,482.2 L1234.7,482.7 L1236.1,483.3 L1237.5,483.8 L1238.9,484.3 L1240.3,484.8 L1241.7,485.3 L1243.1,485.8 L1244.5,486.4 L1245.9,486.9 L1247.4,487.4 L1248.8,487.9 L1250.2,488.4 L1251.6,488.9 L1253.0,489.4 L1254.4,489.9 L1255.8,490.4 L1257.2,490.9 L1258.7,491.4 L1260.1,491.9 L1261.5,492.4 L1262.9,492.9 L1264.3,493.4 L1265.7,493.9 L1267.1,494.4 L1268.6,494.9 L1270.0,495.4 L1271.4,495.9 L1272.8,496.4 L1274.2,496.8 L1275.7,497.3 L1277.1,497.8 L1278.5,498.3 L1279.9,498.7 L1281.4,499.2 L1282.8,499.7 L1284.2,500.1 L1285.6,500.6 L1287.1,501.1 L1288.5,501.5 L1289.9,502.0 L1291.3,502.4 L1292.8,502.9 L1294.2,503.3 L1295.6,503.8 L1297.1,504.2 L1298.5,504.7 L1299.9,505.1 L1301.4,505.6 L1302.8,506.0 L1304.2,506.5 L1305.7,506.9 L1307.1,507.3 L1308.5,507.8 L1310.0,508.2 L1311.4,508.6 L1312.8,509.1 L1314.3,509.5 L1315.7,509.9 L1317.2,510.4 L1318.6,510.8 L1320.0,511.2 L1321.5,511.6 L1322.9,512.1 L1324.3,512.5 L1325.8,512.9 L1327.2,513.3 L1328.7,513.7 L1330.1,514.2 L1331.5,514.6 L1333.0,515.0 L1334.4,515.4 L1335.9,515.8 L1337.3,516.2 L1338.8,516.6 L1340.2,517.0 L1341.6,517.5 L1343.1,517.9 L1344.5,518.3 L1346.0,518.7 L1347.4,519.1 L1348.9,519.5 L1350.3,519.9 L1351.8,520.3 L1353.2,520.7 L1354.7,521.1 L1356.1,521.5 L1357.5,521.9 L1359.0,522.2 L1360.4,522.6 L1361.9,523.0 L1363.3,523.4 L1364.8,523.8 L1366.2,524.2 L1367.7,524.6 L1369.1,525.0 L1370.6,525.3 L1372.0,525.7 L1373.5,526.1 L1374.9,526.5 L1376.4,526.9 L1377.8,527.2 L1379.3,527.6 L1380.8,528.0 L1382.2,528.4 L1383.7,528.7 L1385.1,529.1 L1386.6,529.5 L1388.0,529.8 L1389.5,530.2 L1390.9,530.6 L1392.4,530.9 L1393.8,531.3 L1395.3,531.6 L1396.8,532.0 L1398.2,532.4 L1399.7,532.7 L1401.1,533.1 L1402.6,533.4 L1404.0,533.8 L1405.5,534.1 L1407.0,534.5 L1408.4,534.8 L1409.9,535.2 L1411.3,535.5 L1412.8,535.9 L1414.3,536.2 L1415.7,536.5 L1417.2,536.9 L1418.6,537.2 L1420.1,537.5 L1421.6,537.9 L1423.0,538.2 L1424.5,538.5 L1426.0,538.9 L1427.4,539.2 L1428.9,539.5 L1430.3,539.8 L1431.8,540.2 L1433.3,540.5 L1434.7,540.8 L1436.2,541.1 L1437.7,541.4 L1439.1,541.7 L1440.6,542.1 L1442.1,542.4 L1443.5,542.7 L1445.0,543.0 L1446.5,543.3 L1448.0,543.6 L1449.4,543.9 L1450.9,544.2 L1452.4,544.5 L1453.8,544.8 L1455.3,545.1 L1456.8,545.4 L1458.2,545.7 L1459.7,546.0 L1461.2,546.3 L1462.7,546.6 L1464.1,546.9 L1465.6,547.1 L1467.1,547.4 L1468.5,547.7 L1470.0,548.0 L1471.5,548.3 L1473.0,548.6 L1474.4,548.8 L1475.9,549.1 L1477.4,549.4 L1478.9,549.7 L1480.3,549.9 L1481.8,550.2 L1483.3,550.5 L1484.8,550.8 L1486.2,551.0 L1487.7,551.3 L1489.2,551.6 L1490.7,551.8 L1492.1,552.1 L1493.6,552.4 L1495.1,552.6 L1496.6,552.9 L1498.1,553.1 L1499.5,553.4 L1501.0,553.6 L1502.5,553.9 L1504.0,554.1 L1505.4,554.4 L1506.9,554.6 L1508.4,554.9 L1509.9,555.1 L1511.4,555.4 L1512.8,555.6 L1514.3,555.9 L1515.8,556.1 L1517.3,556.3 L1518.8,556.6 L1520.2,556.8 L1521.7,557.1 L1523.2,557.3 L1524.7,557.5 L1526.2,557.8 L1527.7,558.0 L1529.1,558.2 L1530.6,558.4 L1532.1,558.7 L1533.6,558.9 L1535.1,559.1 L1536.6,559.3 L1538.0,559.5 L1539.5,559.8 L1541.0,560.0 L1542.5,560.2 L1544.0,560.4 L1545.5,560.6 L1546.9,560.8 L1548.4,561.0 L1549.9,561.2 L1551.4,561.5 L1552.9,561.7 L1554.4,561.9 L1555.9,562.1 L1557.3,562.3 L1558.8,562.5 L1560.3,562.7 L1561.8,562.9 L1563.3,563.0 L1564.8,563.2 L1566.3,563.4 L1567.8,563.6 L1569.2,563.8 L1570.7,564.0 L1572.2,564.2 L1573.7,564.4 L1575.2,564.6 L1576.7,564.7 L1578.2,564.9 L1579.7,565.1 L1581.2,565.3 L1582.6,565.4 L1584.1,565.6 L1585.6,565.8 L1587.1,566.0 L1588.6,566.1 L1590.1,566.3 L1591.6,566.5 L1593.1,566.6 L1594.6,566.8 L1596.1,567.0 L1597.6,567.1 L1599.0,567.3 L1600.5,567.4 L1602.0,567.6 L1603.5,567.7 L1605.0,567.9 L1606.5,568.0 L1608.0,568.2 L1609.5,568.3 L1611.0,568.5 L1612.5,568.6 L1614.0,568.8 L1615.5,568.9 L1617.0,569.1 L1618.4,569.2 L1619.9,569.3 L1621.4,569.5 L1622.9,569.6 L1624.4,569.8 L1625.9,569.9 L1627.4,570.0 L1628.9,570.1 L1630.4,570.3 L1631.9,570.4 L1633.4,570.5 L1634.9,570.6 L1636.4,570.8 L1637.9,570.9 L1639.4,571.0 L1640.9,571.1 L1642.4,571.2 L1643.9,571.4 L1645.4,571.5 L1646.8,571.6 L1648.3,571.7 L1649.8,571.8 L1651.3,571.9 L1652.8,572.0 L1654.3,572.1 L1655.8,572.2 L1657.3,572.3 L1658.8,572.4 L1660.3,572.5 L1661.8,572.6 L1663.3,572.7 L1664.8,572.8 L1666.3,572.9 L1667.8,573.0 L1669.3,573.1 L1670.8,573.2 L1672.3,573.3 L1673.8,573.3 L1675.3,573.4 L1676.8,573.5 L1678.3,573.6 L1679.8,573.7" fill="none" stroke="#66cc66" stroke-width="4.2" stroke-dasharray="1.1 1.3" opacity="0.9" transform="translate(-0.5,-1.6)"/>
<use href="#mG" x="969.7" y="313.2"/>
<use href="#mG" x="970.8" y="340.6"/>
<use href="#mG" x="972.2" y="351.0"/>
<use href="#mG" x="973.2" y="357.3"/>
<polyline points="977.4,210.0 984.1,251.5 993.4,269.6 1002.6,281.5 1011.6,287.5 1020.6,293.3 1029.5,298.8 1038.5,304.2 1047.5,309.3 1056.4,314.3 1065.4,319.1 1074.4,323.8 1083.3,328.4 1092.3,332.9 1101.3,337.4 1110.3,341.7 1119.2,346.1 1128.2,350.3 1137.2,354.6 1146.1,358.7 1155.1,362.9 1164.1,367.0 1173.0,371.0 1182.0,375.0 1191.0,379.0 1200.0,382.9 1208.9,386.7 1217.9,390.5 1226.9,394.3 1235.8,398.0 1244.8,401.7 1253.8,405.3 1262.7,408.9 1271.7,412.5 1280.7,416.0 1289.7,419.4 1298.6,422.8 1307.6,426.2 1316.6,429.5 1325.5,432.8 1334.5,436.0 1343.5,439.2 1352.4,442.3 1361.4,445.4 1370.4,448.5 1379.4,451.5 1388.3,454.4 1397.3,457.3 1406.3,460.2 1415.2,463.0 1424.2,465.7 1433.2,468.5 1442.1,471.1 1451.1,473.8 1460.1,476.3 1469.1,478.9 1478.0,481.4 1487.0,483.8 1496.0,486.2 1504.9,488.5 1513.9,490.8 1522.9,493.1 1531.8,495.3 1540.8,497.4 1549.8,499.5 1558.8,501.6 1567.7,503.6 1576.7,505.6 1585.7,507.5 1594.6,509.4 1603.6,511.2 1612.6,513.0 1621.5,514.7 1630.5,516.4 1639.5,518.0 1648.5,519.6 1657.4,521.1 1666.4,522.6 1675.4,524.2 1681.4,518.3" fill="none" stroke="#ff00ff" stroke-width="5.6" stroke-linejoin="round" stroke-linecap="round"/>
<use href="#mP" x="977.4" y="210.0"/>
<use href="#mP" x="984.1" y="251.5"/>
<use href="#mP" x="993.4" y="269.6"/>
<use href="#mP" x="1002.6" y="281.5"/>
<use href="#mP" x="1011.6" y="287.5"/>
<use href="#mP" x="1020.6" y="293.3"/>
<use href="#mP" x="1029.5" y="298.8"/>
<use href="#mP" x="1038.5" y="304.2"/>
<use href="#mP" x="1047.5" y="309.3"/>
<use href="#mP" x="1056.4" y="314.3"/>
<use href="#mP" x="1065.4" y="319.1"/>
<use href="#mP" x="1074.4" y="323.8"/>
<use href="#mP" x="1083.3" y="328.4"/>
<use href="#mP" x="1092.3" y="332.9"/>
<use href="#mP" x="1101.3" y="337.4"/>
<use href="#mP" x="1110.3" y="341.7"/>
<use href="#mP" x="1119.2" y="346.1"/>
<use href="#mP" x="1128.2" y="350.3"/>
<use href="#mP" x="1137.2" y="354.6"/>
<use href="#mP" x="1146.1" y="358.7"/>
<use href="#mP" x="1155.1" y="362.9"/>
<use href="#mP" x="1164.1" y="367.0"/>
<use href="#mP" x="1173.0" y="371.0"/>
<use href="#mP" x="1182.0" y="375.0"/>
<use href="#mP" x="1191.0" y="379.0"/>
<use href="#mP" x="1200.0" y="382.9"/>
<use href="#mP" x="1208.9" y="386.7"/>
<use href="#mP" x="1217.9" y="390.5"/>
<use href="#mP" x="1226.9" y="394.3"/>
<use href="#mP" x="1235.8" y="398.0"/>
<use href="#mP" x="1244.8" y="401.7"/>
<use href="#mP" x="1253.8" y="405.3"/>
<use href="#mP" x="1262.7" y="408.9"/>
<use href="#mP" x="1271.7" y="412.5"/>
<use href="#mP" x="1280.7" y="416.0"/>
<use href="#mP" x="1289.7" y="419.4"/>
<use href="#mP" x="1298.6" y="422.8"/>
<use href="#mP" x="1307.6" y="426.2"/>
<use href="#mP" x="1316.6" y="429.5"/>
<use href="#mP" x="1325.5" y="432.8"/>
<use href="#mP" x="1334.5" y="436.0"/>
<use href="#mP" x="1343.5" y="439.2"/>
<use href="#mP" x="1352.4" y="442.3"/>
<use href="#mP" x="1361.4" y="445.4"/>
<use href="#mP" x="1370.4" y="448.5"/>
<use href="#mP" x="1379.4" y="451.5"/>
<use href="#mP" x="1388.3" y="454.4"/>
<use href="#mP" x="1397.3" y="457.3"/>
<use href="#mP" x="1406.3" y="460.2"/>
<use href="#mP" x="1415.2" y="463.0"/>
<use href="#mP" x="1424.2" y="465.7"/>
<use href="#mP" x="1433.2" y="468.5"/>
<use href="#mP" x="1442.1" y="471.1"/>
<use href="#mP" x="1451.1" y="473.8"/>
<use href="#mP" x="1460.1" y="476.3"/>
<use href="#mP" x="1469.1" y="478.9"/>
<use href="#mP" x="1478.0" y="481.4"/>
<use href="#mP" x="1487.0" y="483.8"/>
<use href="#mP" x="1496.0" y="486.2"/>
<use href="#mP" x="1504.9" y="488.5"/>
<use href="#mP" x="1513.9" y="490.8"/>
<use href="#mP" x="1522.9" y="493.1"/>
<use href="#mP" x="1531.8" y="495.3"/>
<use href="#mP" x="1540.8" y="497.4"/>
<use href="#mP" x="1549.8" y="499.5"/>
<use href="#mP" x="1558.8" y="501.6"/>
<use href="#mP" x="1567.7" y="503.6"/>
<use href="#mP" x="1576.7" y="505.6"/>
<use href="#mP" x="1585.7" y="507.5"/>
<use href="#mP" x="1594.6" y="509.4"/>
<use href="#mP" x="1603.6" y="511.2"/>
<use href="#mP" x="1612.6" y="513.0"/>
<use href="#mP" x="1621.5" y="514.7"/>
<use href="#mP" x="1630.5" y="516.4"/>
<use href="#mP" x="1639.5" y="518.0"/>
<use href="#mP" x="1648.5" y="519.6"/>
<use href="#mP" x="1657.4" y="521.1"/>
<use href="#mP" x="1666.4" y="522.6"/>
<use href="#mP" x="1675.4" y="524.2"/>
<use href="#mP" x="1681.4" y="518.3"/>
</g>
<rect x="961.50" y="16.00" width="720.60" height="600.00" fill="none" stroke="#000" stroke-width="2.80"/>
<rect x="1252.40" y="24.30" width="408.10" height="368.00" fill="#fff" stroke="#000" stroke-width="1.8"/>
<line x1="1247.80" y1="392.30" x2="1252.40" y2="392.30" stroke="#000" stroke-width="1.60"/>
<line x1="1247.80" y1="300.30" x2="1252.40" y2="300.30" stroke="#000" stroke-width="1.60"/>
<line x1="1247.80" y1="208.30" x2="1252.40" y2="208.30" stroke="#000" stroke-width="1.60"/>
<line x1="1247.80" y1="116.30" x2="1252.40" y2="116.30" stroke="#000" stroke-width="1.60"/>
<line x1="1247.80" y1="24.30" x2="1252.40" y2="24.30" stroke="#000" stroke-width="1.60"/>
<line x1="1249.80" y1="346.30" x2="1252.40" y2="346.30" stroke="#000" stroke-width="1.60"/>
<line x1="1249.80" y1="254.30" x2="1252.40" y2="254.30" stroke="#000" stroke-width="1.60"/>
<line x1="1249.80" y1="162.30" x2="1252.40" y2="162.30" stroke="#000" stroke-width="1.60"/>
<line x1="1249.80" y1="70.30" x2="1252.40" y2="70.30" stroke="#000" stroke-width="1.60"/>
<line x1="1252.40" y1="392.30" x2="1252.40" y2="396.90" stroke="#000" stroke-width="1.60"/>
<line x1="1334.02" y1="392.30" x2="1334.02" y2="396.90" stroke="#000" stroke-width="1.60"/>
<line x1="1415.64" y1="392.30" x2="1415.64" y2="396.90" stroke="#000" stroke-width="1.60"/>
<line x1="1497.26" y1="392.30" x2="1497.26" y2="396.90" stroke="#000" stroke-width="1.60"/>
<line x1="1578.88" y1="392.30" x2="1578.88" y2="396.90" stroke="#000" stroke-width="1.60"/>
<line x1="1660.50" y1="392.30" x2="1660.50" y2="396.90" stroke="#000" stroke-width="1.60"/>
<line x1="1293.21" y1="392.30" x2="1293.21" y2="394.90" stroke="#000" stroke-width="1.60"/>
<line x1="1374.83" y1="392.30" x2="1374.83" y2="394.90" stroke="#000" stroke-width="1.60"/>
<line x1="1456.45" y1="392.30" x2="1456.45" y2="394.90" stroke="#000" stroke-width="1.60"/>
<line x1="1538.07" y1="392.30" x2="1538.07" y2="394.90" stroke="#000" stroke-width="1.60"/>
<line x1="1619.69" y1="392.30" x2="1619.69" y2="394.90" stroke="#000" stroke-width="1.60"/>
<text transform="translate(1215.22,397.20) scale(0.9600,1)" font-size="13.80">0.00</text>
<text transform="translate(1215.22,305.20) scale(0.9600,1)" font-size="13.80">0.05</text>
<text transform="translate(1215.22,213.20) scale(0.9600,1)" font-size="13.80">0.10</text>
<text transform="translate(1215.22,121.20) scale(0.9600,1)" font-size="13.80">0.15</text>
<text transform="translate(1215.22,29.20) scale(0.9600,1)" font-size="13.80">0.20</text>
<text transform="translate(1243.19,416.50) scale(0.9600,1)" font-size="13.80">0.0</text>
<text transform="translate(1313.76,416.50) scale(0.9600,1)" font-size="13.80">200.0k</text>
<text transform="translate(1395.38,416.50) scale(0.9600,1)" font-size="13.80">400.0k</text>
<text transform="translate(1477.00,416.50) scale(0.9600,1)" font-size="13.80">600.0k</text>
<text transform="translate(1558.62,416.50) scale(0.9600,1)" font-size="13.80">800.0k</text>
<text transform="translate(1645.78,416.50) scale(0.9600,1)" font-size="13.80">1.0M</text>
<path d="M1270.0,266.0 L1270.2,266.7 L1270.4,267.6 L1270.7,268.7 L1271.2,269.8 L1271.9,271.0 L1273.1,272.1 L1274.8,273.1 L1276.9,274.1 L1279.3,275.1 L1281.9,276.2 L1284.5,277.2 L1287.1,278.1 L1289.6,279.1 L1292.4,280.2 L1295.1,281.2 L1297.8,282.2 L1300.3,282.9 L1302.5,283.4 L1304.2,283.5 L1305.5,283.1 L1306.6,282.6 L1307.8,282.1 L1309.4,281.8 L1311.6,281.9 L1314.7,282.5 L1318.4,283.6 L1322.5,284.9 L1326.8,286.2 L1330.9,287.2 L1334.8,287.9 L1338.3,288.1 L1341.8,287.9 L1345.1,287.5 L1348.4,287.1 L1351.7,286.9 L1354.9,287.2 L1357.9,288.0 L1360.7,289.2 L1363.4,290.7 L1366.3,292.2 L1369.5,293.6 L1373.3,294.8 L1377.7,295.6 L1382.7,296.4 L1387.9,297.0 L1393.4,297.5 L1398.9,298.0 L1404.1,298.5 L1409.4,299.0 L1414.7,299.4 L1420.0,299.8 L1425.3,300.2 L1430.3,300.5 L1435.0,300.8 L1439.1,301.1 L1442.8,301.4 L1446.2,301.7 L1449.7,301.9 L1453.6,302.1 L1458.1,302.3 L1463.7,302.5 L1470.1,302.6 L1476.9,302.7 L1483.5,302.8 L1489.3,302.8 L1493.8,303.0 L1496.1,303.1 L1496.5,303.3 L1496.2,303.5 L1496.1,303.7 L1497.4,303.8 L1501.0,303.9 L1507.3,304.0 L1515.4,304.1 L1524.7,304.1 L1535.0,304.2 L1545.6,304.1 L1556.1,304.0 L1567.2,303.8 L1579.3,303.4 L1591.8,303.0 L1604.0,302.6 L1615.2,302.5 L1624.8,302.5 L1632.9,303.0 L1640.1,303.8 L1646.2,304.7 L1651.5,305.7 L1655.7,306.5 L1659.1,307.1" fill="none" stroke="#000" stroke-width="8.0" stroke-linejoin="round" stroke-linecap="round"/>
<path d="M1270.0,266.0 L1270.2,266.7 L1270.4,267.6 L1270.7,268.7 L1271.2,269.8 L1271.9,271.0 L1273.1,272.1 L1274.8,273.1 L1276.9,274.1 L1279.3,275.1 L1281.9,276.2 L1284.5,277.2 L1287.1,278.1 L1289.6,279.1 L1292.4,280.2 L1295.1,281.2 L1297.8,282.2 L1300.3,282.9 L1302.5,283.4 L1304.2,283.5 L1305.5,283.1 L1306.6,282.6 L1307.8,282.1 L1309.4,281.8 L1311.6,281.9 L1314.7,282.5 L1318.4,283.6 L1322.5,284.9 L1326.8,286.2 L1330.9,287.2 L1334.8,287.9 L1338.3,288.1 L1341.8,287.9 L1345.1,287.5 L1348.4,287.1 L1351.7,286.9 L1354.9,287.2 L1357.9,288.0 L1360.7,289.2 L1363.4,290.7 L1366.3,292.2 L1369.5,293.6 L1373.3,294.8 L1377.7,295.6 L1382.7,296.4 L1387.9,297.0 L1393.4,297.5 L1398.9,298.0 L1404.1,298.5 L1409.4,299.0 L1414.7,299.4 L1420.0,299.8 L1425.3,300.2 L1430.3,300.5 L1435.0,300.8 L1439.1,301.1 L1442.8,301.4 L1446.2,301.7 L1449.7,301.9 L1453.6,302.1 L1458.1,302.3 L1463.7,302.5 L1470.1,302.6 L1476.9,302.7 L1483.5,302.8 L1489.3,302.8 L1493.8,303.0 L1496.1,303.1 L1496.5,303.3 L1496.2,303.5 L1496.1,303.7 L1497.4,303.8 L1501.0,303.9 L1507.3,304.0 L1515.4,304.1 L1524.7,304.1 L1535.0,304.2 L1545.6,304.1 L1556.1,304.0 L1567.2,303.8 L1579.3,303.4 L1591.8,303.0 L1604.0,302.6 L1615.2,302.5 L1624.8,302.5 L1632.9,303.0 L1640.1,303.8 L1646.2,304.7 L1651.5,305.7 L1655.7,306.5 L1659.1,307.1" fill="none" stroke="#fff" stroke-width="1.6" stroke-dasharray="1.4 4.2" transform="translate(0,-0.8)"/>
<polyline points="1253.4,88.0 1254.8,175.1 1255.0,200.0 1256.6,223.6" fill="none" stroke="#e01515" stroke-width="3.4" stroke-linejoin="round" stroke-linecap="round"/>
<path d="M1256.6,223.6 L1256.7,225.5 L1256.9,228.0 L1257.1,231.0 L1257.3,234.3 L1257.7,237.7 L1258.1,240.9 L1258.8,244.0 L1259.5,247.3 L1260.4,250.7 L1261.3,254.0 L1262.2,257.0 L1262.9,259.7 L1263.4,261.8 L1263.7,263.5 L1264.0,265.0 L1264.4,266.4 L1264.8,267.7 L1265.4,269.2 L1266.2,270.8 L1267.1,272.5 L1268.1,274.2 L1269.1,275.8 L1270.3,277.2 L1271.6,278.5 L1272.9,279.4 L1274.2,280.1 L1275.6,280.6 L1277.2,281.1 L1278.9,281.7 L1280.8,282.4 L1283.0,283.4 L1285.5,284.5 L1288.1,285.6 L1290.9,286.8 L1293.6,288.1 L1296.2,289.3 L1298.7,290.6 L1301.1,291.8 L1303.5,293.2 L1305.9,294.5 L1308.6,295.8 L1311.6,297.0 L1315.1,298.3 L1318.8,299.5 L1322.7,300.8 L1326.8,302.0 L1330.8,303.0 L1334.8,304.0 L1338.5,304.8 L1342.2,305.5 L1345.8,306.1 L1349.6,306.7 L1353.6,307.2 L1357.9,307.9 L1362.6,308.6 L1367.6,309.4 L1372.8,310.2 L1378.2,311.0 L1383.5,311.8 L1388.7,312.5 L1393.7,313.4 L1398.4,314.3 L1403.2,315.2 L1408.1,316.0 L1413.5,316.7 L1419.6,317.2 L1426.6,317.5 L1434.5,317.6 L1442.9,317.5 L1451.2,317.4 L1459.0,317.3 L1465.8,317.2 L1471.1,317.1 L1475.2,317.0 L1478.8,316.9 L1482.6,316.8 L1487.3,316.6 L1493.8,316.5 L1502.2,316.4 L1512.0,316.2 L1522.8,315.9 L1534.1,315.8 L1545.3,315.7 L1556.1,315.9 L1566.8,316.2 L1577.7,316.6 L1588.7,317.2 L1599.4,317.8 L1609.4,318.5 L1618.5,319.2 L1627.0,319.9 L1635.2,320.8 L1642.7,321.7 L1649.4,322.6 L1654.9,323.3 L1659.1,323.8" fill="none" stroke="#ec1515" stroke-width="7.5" stroke-linejoin="round" stroke-linecap="round"/>
<path d="M1256.6,223.6 L1256.7,225.5 L1256.9,228.0 L1257.1,231.0 L1257.3,234.3 L1257.7,237.7 L1258.1,240.9 L1258.8,244.0 L1259.5,247.3 L1260.4,250.7 L1261.3,254.0 L1262.2,257.0 L1262.9,259.7 L1263.4,261.8 L1263.7,263.5 L1264.0,265.0 L1264.4,266.4 L1264.8,267.7 L1265.4,269.2 L1266.2,270.8 L1267.1,272.5 L1268.1,274.2 L1269.1,275.8 L1270.3,277.2 L1271.6,278.5 L1272.9,279.4 L1274.2,280.1 L1275.6,280.6 L1277.2,281.1 L1278.9,281.7 L1280.8,282.4 L1283.0,283.4 L1285.5,284.5 L1288.1,285.6 L1290.9,286.8 L1293.6,288.1 L1296.2,289.3 L1298.7,290.6 L1301.1,291.8 L1303.5,293.2 L1305.9,294.5 L1308.6,295.8 L1311.6,297.0 L1315.1,298.3 L1318.8,299.5 L1322.7,300.8 L1326.8,302.0 L1330.8,303.0 L1334.8,304.0 L1338.5,304.8 L1342.2,305.5 L1345.8,306.1 L1349.6,306.7 L1353.6,307.2 L1357.9,307.9 L1362.6,308.6 L1367.6,309.4 L1372.8,310.2 L1378.2,311.0 L1383.5,311.8 L1388.7,312.5 L1393.7,313.4 L1398.4,314.3 L1403.2,315.2 L1408.1,316.0 L1413.5,316.7 L1419.6,317.2 L1426.6,317.5 L1434.5,317.6 L1442.9,317.5 L1451.2,317.4 L1459.0,317.3 L1465.8,317.2 L1471.1,317.1 L1475.2,317.0 L1478.8,316.9 L1482.6,316.8 L1487.3,316.6 L1493.8,316.5 L1502.2,316.4 L1512.0,316.2 L1522.8,315.9 L1534.1,315.8 L1545.3,315.7 L1556.1,315.9 L1566.8,316.2 L1577.7,316.6 L1588.7,317.2 L1599.4,317.8 L1609.4,318.5 L1618.5,319.2 L1627.0,319.9 L1635.2,320.8 L1642.7,321.7 L1649.4,322.6 L1654.9,323.3 L1659.1,323.8" fill="none" stroke="#ffb0b0" stroke-width="1.4" stroke-dasharray="1 3" opacity="0.8" transform="translate(0,-1.2)"/>
<use href="#mR" x="1253.4" y="88.0"/>
<use href="#mR" x="1254.8" y="175.1"/>
<use href="#mR" x="1255.0" y="200.0"/>
<use href="#mR" x="1256.6" y="223.6"/>
<text transform="translate(1393.23,438.80) scale(1.0248,1)" font-size="17.00">Frequency (Hz)</text>
<text transform="translate(1204.50,308.47) rotate(-90) translate(0.00,0) scale(1.0567,1)" font-size="18.00">Dielectric constant (<tspan font-weight="normal">ε</tspan>')</text>
<line x1="1498.40" y1="41.80" x2="1535.20" y2="41.80" stroke="#000000" stroke-width="4.20" stroke-linecap="round"/>
<use href="#mK" x="1516.8" y="41.8"/>
<text transform="translate(1540.78,48.60) scale(0.9518,1)" font-size="18.40">Cu<tspan dy="4.60" font-size="10.67">2</tspan><tspan dy="-4.60">O/TiO</tspan><tspan dy="4.60" font-size="10.67">2</tspan><tspan dy="-4.60"> RT</tspan></text>
<line x1="1497.50" y1="70.20" x2="1536.10" y2="70.20" stroke="#e01010" stroke-width="2.40" stroke-linecap="round"/>
<use href="#mR" x="1516.8" y="70.2"/>
<text transform="translate(1540.78,77.00) scale(0.9518,1)" font-size="18.40">Cu<tspan dy="4.60" font-size="10.67">2</tspan><tspan dy="-4.60">O/TiO</tspan><tspan dy="4.60" font-size="10.67">2</tspan><tspan dy="-4.60"> 100</tspan></text>
<text transform="translate(1213.89,693.00) scale(0.9865,1)" font-size="30.40">Frequency (Hz)</text>
<text transform="translate(890.70,481.29) rotate(-90) translate(0.00,0) scale(1.0577,1)" font-size="29.50">Dielectric constant (<tspan font-weight="normal">ε</tspan>')</text>
<text transform="translate(967.39,50.60) scale(1.0668,1)" font-size="30.00">b)</text>
<line x1="1370.70" y1="119.50" x2="1437.60" y2="119.50" stroke="#0000ff" stroke-width="6.40" stroke-linecap="round"/>
<use href="#mBL" x="1404.2" y="119.5"/>
<text transform="translate(1446.34,130.40) scale(0.9747,1)" font-size="31.60">Cu<tspan dy="8.69" font-size="18.96">2</tspan><tspan dy="-8.69">O/TiO</tspan><tspan dy="8.69" font-size="18.96">2</tspan><tspan dy="-8.69"> 150</tspan></text>
<line x1="1370.70" y1="167.20" x2="1437.60" y2="167.20" stroke="#008000" stroke-width="6.40" stroke-linecap="round"/>
<use href="#mGL" x="1404.2" y="167.2"/>
<text transform="translate(1446.34,178.10) scale(0.9747,1)" font-size="31.60">Cu<tspan dy="8.69" font-size="18.96">2</tspan><tspan dy="-8.69">O/TiO</tspan><tspan dy="8.69" font-size="18.96">2</tspan><tspan dy="-8.69"> 200</tspan></text>
<line x1="1370.70" y1="212.90" x2="1437.60" y2="212.90" stroke="#ff00ff" stroke-width="6.40" stroke-linecap="round"/>
<use href="#mPL" x="1404.2" y="212.9"/>
<text transform="translate(1446.34,223.80) scale(0.9747,1)" font-size="31.60">CuO/TiO<tspan dy="8.69" font-size="18.96">2</tspan><tspan dy="-8.69"> 250</tspan></text>
<line x1="509.80" y1="1359.70" x2="521.10" y2="1359.70" stroke="#000" stroke-width="3.00"/>
<line x1="509.80" y1="1271.96" x2="521.10" y2="1271.96" stroke="#000" stroke-width="3.00"/>
<line x1="509.80" y1="1184.21" x2="521.10" y2="1184.21" stroke="#000" stroke-width="3.00"/>
<line x1="509.80" y1="1096.47" x2="521.10" y2="1096.47" stroke="#000" stroke-width="3.00"/>
<line x1="509.80" y1="1008.73" x2="521.10" y2="1008.73" stroke="#000" stroke-width="3.00"/>
<line x1="509.80" y1="920.99" x2="521.10" y2="920.99" stroke="#000" stroke-width="3.00"/>
<line x1="509.80" y1="833.24" x2="521.10" y2="833.24" stroke="#000" stroke-width="3.00"/>
<line x1="509.80" y1="745.50" x2="521.10" y2="745.50" stroke="#000" stroke-width="3.00"/>
<line x1="515.30" y1="1315.83" x2="521.10" y2="1315.83" stroke="#000" stroke-width="3.00"/>
<line x1="515.30" y1="1228.09" x2="521.10" y2="1228.09" stroke="#000" stroke-width="3.00"/>
<line x1="515.30" y1="1140.34" x2="521.10" y2="1140.34" stroke="#000" stroke-width="3.00"/>
<line x1="515.30" y1="1052.60" x2="521.10" y2="1052.60" stroke="#000" stroke-width="3.00"/>
<line x1="515.30" y1="964.86" x2="521.10" y2="964.86" stroke="#000" stroke-width="3.00"/>
<line x1="515.30" y1="877.11" x2="521.10" y2="877.11" stroke="#000" stroke-width="3.00"/>
<line x1="515.30" y1="789.37" x2="521.10" y2="789.37" stroke="#000" stroke-width="3.00"/>
<line x1="521.20" y1="1359.70" x2="521.20" y2="1370.70" stroke="#000" stroke-width="3.00"/>
<line x1="666.46" y1="1359.70" x2="666.46" y2="1370.70" stroke="#000" stroke-width="3.00"/>
<line x1="811.72" y1="1359.70" x2="811.72" y2="1370.70" stroke="#000" stroke-width="3.00"/>
<line x1="956.98" y1="1359.70" x2="956.98" y2="1370.70" stroke="#000" stroke-width="3.00"/>
<line x1="1102.24" y1="1359.70" x2="1102.24" y2="1370.70" stroke="#000" stroke-width="3.00"/>
<line x1="1247.50" y1="1359.70" x2="1247.50" y2="1370.70" stroke="#000" stroke-width="3.00"/>
<line x1="593.83" y1="1359.70" x2="593.83" y2="1365.50" stroke="#000" stroke-width="3.00"/>
<line x1="739.09" y1="1359.70" x2="739.09" y2="1365.50" stroke="#000" stroke-width="3.00"/>
<line x1="884.35" y1="1359.70" x2="884.35" y2="1365.50" stroke="#000" stroke-width="3.00"/>
<line x1="1029.61" y1="1359.70" x2="1029.61" y2="1365.50" stroke="#000" stroke-width="3.00"/>
<line x1="1174.87" y1="1359.70" x2="1174.87" y2="1365.50" stroke="#000" stroke-width="3.00"/>
<text transform="translate(485.24,1366.90) scale(0.9650,1)" font-size="27.50">0</text>
<text transform="translate(470.49,1279.16) scale(0.9650,1)" font-size="27.50">10</text>
<text transform="translate(470.49,1191.41) scale(0.9650,1)" font-size="27.50">20</text>
<text transform="translate(470.49,1103.67) scale(0.9650,1)" font-size="27.50">30</text>
<text transform="translate(470.49,1015.93) scale(0.9650,1)" font-size="27.50">40</text>
<text transform="translate(470.49,928.19) scale(0.9650,1)" font-size="27.50">50</text>
<text transform="translate(470.49,840.44) scale(0.9650,1)" font-size="27.50">60</text>
<text transform="translate(470.49,752.70) scale(0.9650,1)" font-size="27.50">70</text>
<text transform="translate(502.76,1402.50) scale(0.9650,1)" font-size="27.50">0.0</text>
<text transform="translate(625.88,1402.50) scale(0.9650,1)" font-size="27.50">200.0k</text>
<text transform="translate(771.14,1402.50) scale(0.9650,1)" font-size="27.50">400.0k</text>
<text transform="translate(916.40,1402.50) scale(0.9650,1)" font-size="27.50">600.0k</text>
<text transform="translate(1061.66,1402.50) scale(0.9650,1)" font-size="27.50">800.0k</text>
<text transform="translate(1218.00,1402.50) scale(0.9650,1)" font-size="27.50">1.0M</text>
<clipPath id="cp3"><rect x="515.10" y="745.50" width="732.40" height="614.20"/></clipPath><g clip-path="url(#cp3)">
<polyline points="524.0,1132.7 526.5,1191.0 527.5,1202.0" fill="none" stroke="#0000ff" stroke-width="5.6" stroke-linejoin="round" stroke-linecap="round"/>
<path d="M527.5,1202.0 L527.7,1203.5 L528.0,1205.0 L528.2,1206.4 L528.4,1207.9 L528.7,1209.4 L528.9,1210.9 L529.2,1212.4 L529.5,1213.8 L529.9,1215.3 L530.3,1216.7 L530.9,1218.1 L531.5,1219.4 L532.3,1220.6 L533.3,1221.6 L534.3,1222.3 L535.4,1222.9 L536.6,1223.3 L537.5,1224.0 L538.5,1224.6 L539.5,1225.2 L540.6,1225.6 L541.7,1225.9 L542.8,1226.2 L544.0,1226.3 L545.1,1226.4 L546.4,1226.3 L547.6,1226.2 L548.8,1226.0 L550.1,1225.6 L551.4,1225.2 L552.7,1224.8 L554.0,1224.2 L555.3,1223.6 L556.6,1222.9 L557.9,1222.2 L559.1,1221.4 L560.4,1220.6 L561.6,1219.8 L562.9,1219.0 L564.1,1218.1 L565.3,1217.2 L566.5,1216.3 L567.7,1215.4 L568.9,1214.5 L570.1,1213.6 L571.3,1212.7 L572.5,1211.8 L573.7,1210.9 L574.9,1210.0 L576.1,1209.1 L577.2,1208.1 L578.4,1207.2 L579.6,1206.3 L580.8,1205.4 L582.0,1204.5 L583.2,1203.6 L584.4,1202.7 L585.6,1201.9 L586.9,1201.0 L588.1,1200.1 L589.3,1199.2 L590.5,1198.3 L591.7,1197.5 L592.9,1196.6 L594.2,1195.7 L595.4,1194.9 L596.6,1194.0 L597.9,1193.2 L599.1,1192.4 L600.4,1191.5 L601.6,1190.7 L602.9,1189.9 L604.1,1189.1 L605.4,1188.3 L606.7,1187.5 L607.9,1186.7 L609.2,1185.9 L610.5,1185.1 L611.8,1184.3 L613.1,1183.5 L614.3,1182.8 L615.6,1182.0 L616.9,1181.2 L618.2,1180.5 L619.5,1179.7 L620.8,1178.9 L622.1,1178.2 L623.4,1177.4 L624.7,1176.7 L626.0,1175.9 L627.3,1175.2 L628.6,1174.4 L629.9,1173.6 L631.2,1172.9 L632.5,1172.1 L633.8,1171.4 L635.1,1170.6 L636.4,1169.9 L637.7,1169.1 L639.0,1168.4 L640.3,1167.6 L641.6,1166.9 L642.9,1166.2 L644.2,1165.4 L645.5,1164.7 L646.8,1163.9 L648.1,1163.2 L649.4,1162.5 L650.7,1161.7 L652.0,1161.0 L653.3,1160.3 L654.7,1159.6 L656.0,1158.9 L657.3,1158.2 L658.6,1157.5 L660.0,1156.9 L661.3,1156.2 L662.7,1155.5 L664.0,1154.9 L665.4,1154.3 L666.7,1153.6 L668.1,1153.0 L669.5,1152.4 L670.8,1151.8 L672.2,1151.2 L673.6,1150.7 L675.0,1150.1 L676.4,1149.6 L677.8,1149.0 L679.2,1148.5 L680.6,1148.0 L682.0,1147.5 L683.4,1146.9 L684.8,1146.4 L686.2,1146.0 L687.7,1145.5 L689.1,1145.0 L690.5,1144.5 L691.9,1144.0 L693.3,1143.6 L694.8,1143.1 L696.2,1142.6 L697.6,1142.2 L699.0,1141.7 L700.5,1141.2 L701.9,1140.8 L703.3,1140.3 L704.8,1139.9 L706.2,1139.4 L707.6,1139.0 L709.0,1138.5 L710.5,1138.1 L711.9,1137.6 L713.3,1137.2 L714.8,1136.7 L716.2,1136.3 L717.6,1135.8 L719.1,1135.4 L720.5,1135.0 L721.9,1134.5 L723.4,1134.1 L724.8,1133.7 L726.3,1133.3 L727.7,1132.9 L729.2,1132.5 L730.6,1132.1 L732.0,1131.7 L733.5,1131.3 L735.0,1131.0 L736.4,1130.6 L737.9,1130.2 L739.3,1129.9 L740.8,1129.6 L742.2,1129.2 L743.7,1128.9 L745.2,1128.6 L746.6,1128.3 L748.1,1128.0 L749.6,1127.7 L751.1,1127.4 L752.5,1127.2 L754.0,1126.9 L755.5,1126.6 L757.0,1126.4 L758.4,1126.1 L759.9,1125.9 L761.4,1125.6 L762.9,1125.4 L764.4,1125.2 L765.8,1125.0 L767.3,1124.8 L768.8,1124.5 L770.3,1124.3 L771.8,1124.1 L773.3,1123.9 L774.8,1123.7 L776.2,1123.6 L777.7,1123.4 L779.2,1123.2 L780.7,1123.0 L782.2,1122.8 L783.7,1122.7 L785.2,1122.5 L786.7,1122.3 L788.2,1122.2 L789.7,1122.0 L791.2,1121.9 L792.6,1121.7 L794.1,1121.6 L795.6,1121.5 L797.1,1121.3 L798.6,1121.2 L800.1,1121.1 L801.6,1120.9 L803.1,1120.8 L804.6,1120.7 L806.1,1120.5 L807.6,1120.4 L809.1,1120.3 L810.6,1120.2 L812.1,1120.1 L813.6,1120.0 L815.1,1119.8 L816.6,1119.7 L818.1,1119.6 L819.5,1119.5 L821.0,1119.4 L822.5,1119.3 L824.0,1119.2 L825.5,1119.1 L827.0,1119.0 L828.5,1118.9 L830.0,1118.8 L831.5,1118.7 L833.0,1118.6 L834.5,1118.5 L836.0,1118.5 L837.5,1118.4 L839.0,1118.3 L840.5,1118.2 L842.0,1118.2 L843.5,1118.1 L845.0,1118.1 L846.5,1118.0 L848.0,1118.0 L849.5,1117.9 L851.0,1117.9 L852.5,1117.8 L854.0,1117.8 L855.5,1117.8 L857.0,1117.8 L858.5,1117.7 L860.0,1117.7 L861.5,1117.7 L863.0,1117.7 L864.5,1117.7 L866.0,1117.7 L867.5,1117.7 L869.0,1117.7 L870.5,1117.7 L872.0,1117.7 L873.5,1117.8 L875.0,1117.8 L876.5,1117.8 L878.0,1117.8 L879.5,1117.9 L881.0,1117.9 L882.5,1118.0 L884.0,1118.0 L885.5,1118.0 L887.0,1118.1 L888.5,1118.2 L890.0,1118.2 L891.5,1118.3 L893.0,1118.4 L894.5,1118.4 L896.0,1118.5 L897.5,1118.6 L899.0,1118.7 L900.5,1118.7 L902.0,1118.8 L903.5,1118.9 L905.0,1119.0 L906.5,1119.1 L908.0,1119.2 L909.4,1119.3 L910.9,1119.4 L912.4,1119.6 L913.9,1119.7 L915.4,1119.8 L916.9,1119.9 L918.4,1120.0 L919.9,1120.1 L921.4,1120.3 L922.9,1120.4 L924.4,1120.5 L925.9,1120.6 L927.4,1120.8 L928.9,1120.9 L930.4,1121.0 L931.9,1121.2 L933.4,1121.3 L934.9,1121.5 L936.3,1121.6 L937.8,1121.7 L939.3,1121.9 L940.8,1122.0 L942.3,1122.2 L943.8,1122.3 L945.3,1122.5 L946.8,1122.6 L948.3,1122.8 L949.8,1122.9 L951.3,1123.1 L952.8,1123.2 L954.3,1123.4 L955.8,1123.5 L957.2,1123.7 L958.7,1123.9 L960.2,1124.0 L961.7,1124.2 L963.2,1124.3 L964.7,1124.5 L966.2,1124.7 L967.7,1124.8 L969.2,1125.0 L970.7,1125.2 L972.2,1125.3 L973.6,1125.5 L975.1,1125.7 L976.6,1125.8 L978.1,1126.0 L979.6,1126.2 L981.1,1126.3 L982.6,1126.5 L984.1,1126.7 L985.6,1126.9 L987.1,1127.0 L988.5,1127.2 L990.0,1127.4 L991.5,1127.6 L993.0,1127.7 L994.5,1127.9 L996.0,1128.1 L997.5,1128.3 L999.0,1128.5 L1000.5,1128.7 L1001.9,1128.9 L1003.4,1129.0 L1004.9,1129.2 L1006.4,1129.4 L1007.9,1129.6 L1009.4,1129.8 L1010.9,1130.0 L1012.4,1130.2 L1013.8,1130.4 L1015.3,1130.6 L1016.8,1130.8 L1018.3,1131.0 L1019.8,1131.2 L1021.3,1131.4 L1022.8,1131.6 L1024.3,1131.8 L1025.7,1132.0 L1027.2,1132.2 L1028.7,1132.4 L1030.2,1132.6 L1031.7,1132.8 L1033.2,1133.0 L1034.7,1133.2 L1036.1,1133.4 L1037.6,1133.6 L1039.1,1133.8 L1040.6,1134.1 L1042.1,1134.3 L1043.6,1134.5 L1045.1,1134.7 L1046.5,1134.9 L1048.0,1135.1 L1049.5,1135.3 L1051.0,1135.5 L1052.5,1135.7 L1054.0,1135.9 L1055.5,1136.1 L1056.9,1136.3 L1058.4,1136.5 L1059.9,1136.7 L1061.4,1136.9 L1062.9,1137.1 L1064.4,1137.3 L1065.9,1137.5 L1067.3,1137.7 L1068.8,1137.9 L1070.3,1138.1 L1071.8,1138.3 L1073.3,1138.5 L1074.8,1138.7 L1076.3,1138.9 L1077.8,1139.1 L1079.2,1139.3 L1080.7,1139.5 L1082.2,1139.7 L1083.7,1139.9 L1085.2,1140.1 L1086.7,1140.3 L1088.2,1140.5 L1089.6,1140.7 L1091.1,1140.9 L1092.6,1141.2 L1094.1,1141.4 L1095.6,1141.6 L1097.1,1141.8 L1098.6,1142.0 L1100.0,1142.2 L1101.5,1142.4 L1103.0,1142.6 L1104.5,1142.8 L1106.0,1143.0 L1107.5,1143.2 L1109.0,1143.4 L1110.5,1143.6 L1111.9,1143.8 L1113.4,1143.9 L1114.9,1144.1 L1116.4,1144.3 L1117.9,1144.5 L1119.4,1144.7 L1120.9,1144.9 L1122.4,1145.1 L1123.8,1145.3 L1125.3,1145.5 L1126.8,1145.7 L1128.3,1145.9 L1129.8,1146.1 L1131.3,1146.3 L1132.8,1146.5 L1134.2,1146.7 L1135.7,1146.9 L1137.2,1147.1 L1138.7,1147.3 L1140.2,1147.5 L1141.7,1147.6 L1143.2,1147.8 L1144.7,1148.0 L1146.2,1148.2 L1147.6,1148.4 L1149.1,1148.6 L1150.6,1148.8 L1152.1,1148.9 L1153.6,1149.1 L1155.1,1149.3 L1156.6,1149.5 L1158.1,1149.7 L1159.6,1149.9 L1161.0,1150.0 L1162.5,1150.2 L1164.0,1150.4 L1165.5,1150.6 L1167.0,1150.7 L1168.5,1150.9 L1170.0,1151.1 L1171.5,1151.3 L1173.0,1151.4 L1174.4,1151.6 L1175.9,1151.8 L1177.4,1152.0 L1178.9,1152.1 L1180.4,1152.3 L1181.9,1152.5 L1183.4,1152.7 L1184.9,1152.8 L1186.4,1153.0 L1187.9,1153.2 L1189.3,1153.3 L1190.8,1153.5 L1192.3,1153.7 L1193.8,1153.9 L1195.3,1154.0 L1196.8,1154.2 L1198.3,1154.4 L1199.8,1154.5 L1201.3,1154.7 L1202.8,1154.9 L1204.3,1155.1 L1205.7,1155.2 L1207.2,1155.4 L1208.7,1155.6 L1210.2,1155.7 L1211.7,1155.9 L1213.2,1156.1 L1214.7,1156.3 L1216.2,1156.4 L1217.7,1156.6 L1219.1,1156.8 L1220.6,1157.0 L1222.1,1157.1 L1223.6,1157.3 L1225.1,1157.5 L1226.6,1157.7 L1228.1,1157.9 L1229.6,1158.1 L1231.1,1158.3 L1232.5,1158.5 L1234.0,1158.6 L1235.5,1158.8 L1237.0,1159.0 L1238.5,1159.2 L1240.0,1159.4 L1241.5,1159.7 L1242.9,1159.9 L1244.4,1160.2 L1245.9,1160.5" fill="none" stroke="#0000b0" stroke-width="15.2" stroke-linejoin="round" stroke-linecap="round"/>
<path d="M527.5,1202.0 L527.7,1203.5 L528.0,1205.0 L528.2,1206.4 L528.4,1207.9 L528.7,1209.4 L528.9,1210.9 L529.2,1212.4 L529.5,1213.8 L529.9,1215.3 L530.3,1216.7 L530.9,1218.1 L531.5,1219.4 L532.3,1220.6 L533.3,1221.6 L534.3,1222.3 L535.4,1222.9 L536.6,1223.3 L537.5,1224.0 L538.5,1224.6 L539.5,1225.2 L540.6,1225.6 L541.7,1225.9 L542.8,1226.2 L544.0,1226.3 L545.1,1226.4 L546.4,1226.3 L547.6,1226.2 L548.8,1226.0 L550.1,1225.6 L551.4,1225.2 L552.7,1224.8 L554.0,1224.2 L555.3,1223.6 L556.6,1222.9 L557.9,1222.2 L559.1,1221.4 L560.4,1220.6 L561.6,1219.8 L562.9,1219.0 L564.1,1218.1 L565.3,1217.2 L566.5,1216.3 L567.7,1215.4 L568.9,1214.5 L570.1,1213.6 L571.3,1212.7 L572.5,1211.8 L573.7,1210.9 L574.9,1210.0 L576.1,1209.1 L577.2,1208.1 L578.4,1207.2 L579.6,1206.3 L580.8,1205.4 L582.0,1204.5 L583.2,1203.6 L584.4,1202.7 L585.6,1201.9 L586.9,1201.0 L588.1,1200.1 L589.3,1199.2 L590.5,1198.3 L591.7,1197.5 L592.9,1196.6 L594.2,1195.7 L595.4,1194.9 L596.6,1194.0 L597.9,1193.2 L599.1,1192.4 L600.4,1191.5 L601.6,1190.7 L602.9,1189.9 L604.1,1189.1 L605.4,1188.3 L606.7,1187.5 L607.9,1186.7 L609.2,1185.9 L610.5,1185.1 L611.8,1184.3 L613.1,1183.5 L614.3,1182.8 L615.6,1182.0 L616.9,1181.2 L618.2,1180.5 L619.5,1179.7 L620.8,1178.9 L622.1,1178.2 L623.4,1177.4 L624.7,1176.7 L626.0,1175.9 L627.3,1175.2 L628.6,1174.4 L629.9,1173.6 L631.2,1172.9 L632.5,1172.1 L633.8,1171.4 L635.1,1170.6 L636.4,1169.9 L637.7,1169.1 L639.0,1168.4 L640.3,1167.6 L641.6,1166.9 L642.9,1166.2 L644.2,1165.4 L645.5,1164.7 L646.8,1163.9 L648.1,1163.2 L649.4,1162.5 L650.7,1161.7 L652.0,1161.0 L653.3,1160.3 L654.7,1159.6 L656.0,1158.9 L657.3,1158.2 L658.6,1157.5 L660.0,1156.9 L661.3,1156.2 L662.7,1155.5 L664.0,1154.9 L665.4,1154.3 L666.7,1153.6 L668.1,1153.0 L669.5,1152.4 L670.8,1151.8 L672.2,1151.2 L673.6,1150.7 L675.0,1150.1 L676.4,1149.6 L677.8,1149.0 L679.2,1148.5 L680.6,1148.0 L682.0,1147.5 L683.4,1146.9 L684.8,1146.4 L686.2,1146.0 L687.7,1145.5 L689.1,1145.0 L690.5,1144.5 L691.9,1144.0 L693.3,1143.6 L694.8,1143.1 L696.2,1142.6 L697.6,1142.2 L699.0,1141.7 L700.5,1141.2 L701.9,1140.8 L703.3,1140.3 L704.8,1139.9 L706.2,1139.4 L707.6,1139.0 L709.0,1138.5 L710.5,1138.1 L711.9,1137.6 L713.3,1137.2 L714.8,1136.7 L716.2,1136.3 L717.6,1135.8 L719.1,1135.4 L720.5,1135.0 L721.9,1134.5 L723.4,1134.1 L724.8,1133.7 L726.3,1133.3 L727.7,1132.9 L729.2,1132.5 L730.6,1132.1 L732.0,1131.7 L733.5,1131.3 L735.0,1131.0 L736.4,1130.6 L737.9,1130.2 L739.3,1129.9 L740.8,1129.6 L742.2,1129.2 L743.7,1128.9 L745.2,1128.6 L746.6,1128.3 L748.1,1128.0 L749.6,1127.7 L751.1,1127.4 L752.5,1127.2 L754.0,1126.9 L755.5,1126.6 L757.0,1126.4 L758.4,1126.1 L759.9,1125.9 L761.4,1125.6 L762.9,1125.4 L764.4,1125.2 L765.8,1125.0 L767.3,1124.8 L768.8,1124.5 L770.3,1124.3 L771.8,1124.1 L773.3,1123.9 L774.8,1123.7 L776.2,1123.6 L777.7,1123.4 L779.2,1123.2 L780.7,1123.0 L782.2,1122.8 L783.7,1122.7 L785.2,1122.5 L786.7,1122.3 L788.2,1122.2 L789.7,1122.0 L791.2,1121.9 L792.6,1121.7 L794.1,1121.6 L795.6,1121.5 L797.1,1121.3 L798.6,1121.2 L800.1,1121.1 L801.6,1120.9 L803.1,1120.8 L804.6,1120.7 L806.1,1120.5 L807.6,1120.4 L809.1,1120.3 L810.6,1120.2 L812.1,1120.1 L813.6,1120.0 L815.1,1119.8 L816.6,1119.7 L818.1,1119.6 L819.5,1119.5 L821.0,1119.4 L822.5,1119.3 L824.0,1119.2 L825.5,1119.1 L827.0,1119.0 L828.5,1118.9 L830.0,1118.8 L831.5,1118.7 L833.0,1118.6 L834.5,1118.5 L836.0,1118.5 L837.5,1118.4 L839.0,1118.3 L840.5,1118.2 L842.0,1118.2 L843.5,1118.1 L845.0,1118.1 L846.5,1118.0 L848.0,1118.0 L849.5,1117.9 L851.0,1117.9 L852.5,1117.8 L854.0,1117.8 L855.5,1117.8 L857.0,1117.8 L858.5,1117.7 L860.0,1117.7 L861.5,1117.7 L863.0,1117.7 L864.5,1117.7 L866.0,1117.7 L867.5,1117.7 L869.0,1117.7 L870.5,1117.7 L872.0,1117.7 L873.5,1117.8 L875.0,1117.8 L876.5,1117.8 L878.0,1117.8 L879.5,1117.9 L881.0,1117.9 L882.5,1118.0 L884.0,1118.0 L885.5,1118.0 L887.0,1118.1 L888.5,1118.2 L890.0,1118.2 L891.5,1118.3 L893.0,1118.4 L894.5,1118.4 L896.0,1118.5 L897.5,1118.6 L899.0,1118.7 L900.5,1118.7 L902.0,1118.8 L903.5,1118.9 L905.0,1119.0 L906.5,1119.1 L908.0,1119.2 L909.4,1119.3 L910.9,1119.4 L912.4,1119.6 L913.9,1119.7 L915.4,1119.8 L916.9,1119.9 L918.4,1120.0 L919.9,1120.1 L921.4,1120.3 L922.9,1120.4 L924.4,1120.5 L925.9,1120.6 L927.4,1120.8 L928.9,1120.9 L930.4,1121.0 L931.9,1121.2 L933.4,1121.3 L934.9,1121.5 L936.3,1121.6 L937.8,1121.7 L939.3,1121.9 L940.8,1122.0 L942.3,1122.2 L943.8,1122.3 L945.3,1122.5 L946.8,1122.6 L948.3,1122.8 L949.8,1122.9 L951.3,1123.1 L952.8,1123.2 L954.3,1123.4 L955.8,1123.5 L957.2,1123.7 L958.7,1123.9 L960.2,1124.0 L961.7,1124.2 L963.2,1124.3 L964.7,1124.5 L966.2,1124.7 L967.7,1124.8 L969.2,1125.0 L970.7,1125.2 L972.2,1125.3 L973.6,1125.5 L975.1,1125.7 L976.6,1125.8 L978.1,1126.0 L979.6,1126.2 L981.1,1126.3 L982.6,1126.5 L984.1,1126.7 L985.6,1126.9 L987.1,1127.0 L988.5,1127.2 L990.0,1127.4 L991.5,1127.6 L993.0,1127.7 L994.5,1127.9 L996.0,1128.1 L997.5,1128.3 L999.0,1128.5 L1000.5,1128.7 L1001.9,1128.9 L1003.4,1129.0 L1004.9,1129.2 L1006.4,1129.4 L1007.9,1129.6 L1009.4,1129.8 L1010.9,1130.0 L1012.4,1130.2 L1013.8,1130.4 L1015.3,1130.6 L1016.8,1130.8 L1018.3,1131.0 L1019.8,1131.2 L1021.3,1131.4 L1022.8,1131.6 L1024.3,1131.8 L1025.7,1132.0 L1027.2,1132.2 L1028.7,1132.4 L1030.2,1132.6 L1031.7,1132.8 L1033.2,1133.0 L1034.7,1133.2 L1036.1,1133.4 L1037.6,1133.6 L1039.1,1133.8 L1040.6,1134.1 L1042.1,1134.3 L1043.6,1134.5 L1045.1,1134.7 L1046.5,1134.9 L1048.0,1135.1 L1049.5,1135.3 L1051.0,1135.5 L1052.5,1135.7 L1054.0,1135.9 L1055.5,1136.1 L1056.9,1136.3 L1058.4,1136.5 L1059.9,1136.7 L1061.4,1136.9 L1062.9,1137.1 L1064.4,1137.3 L1065.9,1137.5 L1067.3,1137.7 L1068.8,1137.9 L1070.3,1138.1 L1071.8,1138.3 L1073.3,1138.5 L1074.8,1138.7 L1076.3,1138.9 L1077.8,1139.1 L1079.2,1139.3 L1080.7,1139.5 L1082.2,1139.7 L1083.7,1139.9 L1085.2,1140.1 L1086.7,1140.3 L1088.2,1140.5 L1089.6,1140.7 L1091.1,1140.9 L1092.6,1141.2 L1094.1,1141.4 L1095.6,1141.6 L1097.1,1141.8 L1098.6,1142.0 L1100.0,1142.2 L1101.5,1142.4 L1103.0,1142.6 L1104.5,1142.8 L1106.0,1143.0 L1107.5,1143.2 L1109.0,1143.4 L1110.5,1143.6 L1111.9,1143.8 L1113.4,1143.9 L1114.9,1144.1 L1116.4,1144.3 L1117.9,1144.5 L1119.4,1144.7 L1120.9,1144.9 L1122.4,1145.1 L1123.8,1145.3 L1125.3,1145.5 L1126.8,1145.7 L1128.3,1145.9 L1129.8,1146.1 L1131.3,1146.3 L1132.8,1146.5 L1134.2,1146.7 L1135.7,1146.9 L1137.2,1147.1 L1138.7,1147.3 L1140.2,1147.5 L1141.7,1147.6 L1143.2,1147.8 L1144.7,1148.0 L1146.2,1148.2 L1147.6,1148.4 L1149.1,1148.6 L1150.6,1148.8 L1152.1,1148.9 L1153.6,1149.1 L1155.1,1149.3 L1156.6,1149.5 L1158.1,1149.7 L1159.6,1149.9 L1161.0,1150.0 L1162.5,1150.2 L1164.0,1150.4 L1165.5,1150.6 L1167.0,1150.7 L1168.5,1150.9 L1170.0,1151.1 L1171.5,1151.3 L1173.0,1151.4 L1174.4,1151.6 L1175.9,1151.8 L1177.4,1152.0 L1178.9,1152.1 L1180.4,1152.3 L1181.9,1152.5 L1183.4,1152.7 L1184.9,1152.8 L1186.4,1153.0 L1187.9,1153.2 L1189.3,1153.3 L1190.8,1153.5 L1192.3,1153.7 L1193.8,1153.9 L1195.3,1154.0 L1196.8,1154.2 L1198.3,1154.4 L1199.8,1154.5 L1201.3,1154.7 L1202.8,1154.9 L1204.3,1155.1 L1205.7,1155.2 L1207.2,1155.4 L1208.7,1155.6 L1210.2,1155.7 L1211.7,1155.9 L1213.2,1156.1 L1214.7,1156.3 L1216.2,1156.4 L1217.7,1156.6 L1219.1,1156.8 L1220.6,1157.0 L1222.1,1157.1 L1223.6,1157.3 L1225.1,1157.5 L1226.6,1157.7 L1228.1,1157.9 L1229.6,1158.1 L1231.1,1158.3 L1232.5,1158.5 L1234.0,1158.6 L1235.5,1158.8 L1237.0,1159.0 L1238.5,1159.2 L1240.0,1159.4 L1241.5,1159.7 L1242.9,1159.9 L1244.4,1160.2 L1245.9,1160.5" fill="none" stroke="#0000ff" stroke-width="12.0" stroke-linejoin="round" stroke-linecap="round"/>
<path d="M527.5,1202.0 L527.7,1203.5 L528.0,1205.0 L528.2,1206.4 L528.4,1207.9 L528.7,1209.4 L528.9,1210.9 L529.2,1212.4 L529.5,1213.8 L529.9,1215.3 L530.3,1216.7 L530.9,1218.1 L531.5,1219.4 L532.3,1220.6 L533.3,1221.6 L534.3,1222.3 L535.4,1222.9 L536.6,1223.3 L537.5,1224.0 L538.5,1224.6 L539.5,1225.2 L540.6,1225.6 L541.7,1225.9 L542.8,1226.2 L544.0,1226.3 L545.1,1226.4 L546.4,1226.3 L547.6,1226.2 L548.8,1226.0 L550.1,1225.6 L551.4,1225.2 L552.7,1224.8 L554.0,1224.2 L555.3,1223.6 L556.6,1222.9 L557.9,1222.2 L559.1,1221.4 L560.4,1220.6 L561.6,1219.8 L562.9,1219.0 L564.1,1218.1 L565.3,1217.2 L566.5,1216.3 L567.7,1215.4 L568.9,1214.5 L570.1,1213.6 L571.3,1212.7 L572.5,1211.8 L573.7,1210.9 L574.9,1210.0 L576.1,1209.1 L577.2,1208.1 L578.4,1207.2 L579.6,1206.3 L580.8,1205.4 L582.0,1204.5 L583.2,1203.6 L584.4,1202.7 L585.6,1201.9 L586.9,1201.0 L588.1,1200.1 L589.3,1199.2 L590.5,1198.3 L591.7,1197.5 L592.9,1196.6 L594.2,1195.7 L595.4,1194.9 L596.6,1194.0 L597.9,1193.2 L599.1,1192.4 L600.4,1191.5 L601.6,1190.7 L602.9,1189.9 L604.1,1189.1 L605.4,1188.3 L606.7,1187.5 L607.9,1186.7 L609.2,1185.9 L610.5,1185.1 L611.8,1184.3 L613.1,1183.5 L614.3,1182.8 L615.6,1182.0 L616.9,1181.2 L618.2,1180.5 L619.5,1179.7 L620.8,1178.9 L622.1,1178.2 L623.4,1177.4 L624.7,1176.7 L626.0,1175.9 L627.3,1175.2 L628.6,1174.4 L629.9,1173.6 L631.2,1172.9 L632.5,1172.1 L633.8,1171.4 L635.1,1170.6 L636.4,1169.9 L637.7,1169.1 L639.0,1168.4 L640.3,1167.6 L641.6,1166.9 L642.9,1166.2 L644.2,1165.4 L645.5,1164.7 L646.8,1163.9 L648.1,1163.2 L649.4,1162.5 L650.7,1161.7 L652.0,1161.0 L653.3,1160.3 L654.7,1159.6 L656.0,1158.9 L657.3,1158.2 L658.6,1157.5 L660.0,1156.9 L661.3,1156.2 L662.7,1155.5 L664.0,1154.9 L665.4,1154.3 L666.7,1153.6 L668.1,1153.0 L669.5,1152.4 L670.8,1151.8 L672.2,1151.2 L673.6,1150.7 L675.0,1150.1 L676.4,1149.6 L677.8,1149.0 L679.2,1148.5 L680.6,1148.0 L682.0,1147.5 L683.4,1146.9 L684.8,1146.4 L686.2,1146.0 L687.7,1145.5 L689.1,1145.0 L690.5,1144.5 L691.9,1144.0 L693.3,1143.6 L694.8,1143.1 L696.2,1142.6 L697.6,1142.2 L699.0,1141.7 L700.5,1141.2 L701.9,1140.8 L703.3,1140.3 L704.8,1139.9 L706.2,1139.4 L707.6,1139.0 L709.0,1138.5 L710.5,1138.1 L711.9,1137.6 L713.3,1137.2 L714.8,1136.7 L716.2,1136.3 L717.6,1135.8 L719.1,1135.4 L720.5,1135.0 L721.9,1134.5 L723.4,1134.1 L724.8,1133.7 L726.3,1133.3 L727.7,1132.9 L729.2,1132.5 L730.6,1132.1 L732.0,1131.7 L733.5,1131.3 L735.0,1131.0 L736.4,1130.6 L737.9,1130.2 L739.3,1129.9 L740.8,1129.6 L742.2,1129.2 L743.7,1128.9 L745.2,1128.6 L746.6,1128.3 L748.1,1128.0 L749.6,1127.7 L751.1,1127.4 L752.5,1127.2 L754.0,1126.9 L755.5,1126.6 L757.0,1126.4 L758.4,1126.1 L759.9,1125.9 L761.4,1125.6 L762.9,1125.4 L764.4,1125.2 L765.8,1125.0 L767.3,1124.8 L768.8,1124.5 L770.3,1124.3 L771.8,1124.1 L773.3,1123.9 L774.8,1123.7 L776.2,1123.6 L777.7,1123.4 L779.2,1123.2 L780.7,1123.0 L782.2,1122.8 L783.7,1122.7 L785.2,1122.5 L786.7,1122.3 L788.2,1122.2 L789.7,1122.0 L791.2,1121.9 L792.6,1121.7 L794.1,1121.6 L795.6,1121.5 L797.1,1121.3 L798.6,1121.2 L800.1,1121.1 L801.6,1120.9 L803.1,1120.8 L804.6,1120.7 L806.1,1120.5 L807.6,1120.4 L809.1,1120.3 L810.6,1120.2 L812.1,1120.1 L813.6,1120.0 L815.1,1119.8 L816.6,1119.7 L818.1,1119.6 L819.5,1119.5 L821.0,1119.4 L822.5,1119.3 L824.0,1119.2 L825.5,1119.1 L827.0,1119.0 L828.5,1118.9 L830.0,1118.8 L831.5,1118.7 L833.0,1118.6 L834.5,1118.5 L836.0,1118.5 L837.5,1118.4 L839.0,1118.3 L840.5,1118.2 L842.0,1118.2 L843.5,1118.1 L845.0,1118.1 L846.5,1118.0 L848.0,1118.0 L849.5,1117.9 L851.0,1117.9 L852.5,1117.8 L854.0,1117.8 L855.5,1117.8 L857.0,1117.8 L858.5,1117.7 L860.0,1117.7 L861.5,1117.7 L863.0,1117.7 L864.5,1117.7 L866.0,1117.7 L867.5,1117.7 L869.0,1117.7 L870.5,1117.7 L872.0,1117.7 L873.5,1117.8 L875.0,1117.8 L876.5,1117.8 L878.0,1117.8 L879.5,1117.9 L881.0,1117.9 L882.5,1118.0 L884.0,1118.0 L885.5,1118.0 L887.0,1118.1 L888.5,1118.2 L890.0,1118.2 L891.5,1118.3 L893.0,1118.4 L894.5,1118.4 L896.0,1118.5 L897.5,1118.6 L899.0,1118.7 L900.5,1118.7 L902.0,1118.8 L903.5,1118.9 L905.0,1119.0 L906.5,1119.1 L908.0,1119.2 L909.4,1119.3 L910.9,1119.4 L912.4,1119.6 L913.9,1119.7 L915.4,1119.8 L916.9,1119.9 L918.4,1120.0 L919.9,1120.1 L921.4,1120.3 L922.9,1120.4 L924.4,1120.5 L925.9,1120.6 L927.4,1120.8 L928.9,1120.9 L930.4,1121.0 L931.9,1121.2 L933.4,1121.3 L934.9,1121.5 L936.3,1121.6 L937.8,1121.7 L939.3,1121.9 L940.8,1122.0 L942.3,1122.2 L943.8,1122.3 L945.3,1122.5 L946.8,1122.6 L948.3,1122.8 L949.8,1122.9 L951.3,1123.1 L952.8,1123.2 L954.3,1123.4 L955.8,1123.5 L957.2,1123.7 L958.7,1123.9 L960.2,1124.0 L961.7,1124.2 L963.2,1124.3 L964.7,1124.5 L966.2,1124.7 L967.7,1124.8 L969.2,1125.0 L970.7,1125.2 L972.2,1125.3 L973.6,1125.5 L975.1,1125.7 L976.6,1125.8 L978.1,1126.0 L979.6,1126.2 L981.1,1126.3 L982.6,1126.5 L984.1,1126.7 L985.6,1126.9 L987.1,1127.0 L988.5,1127.2 L990.0,1127.4 L991.5,1127.6 L993.0,1127.7 L994.5,1127.9 L996.0,1128.1 L997.5,1128.3 L999.0,1128.5 L1000.5,1128.7 L1001.9,1128.9 L1003.4,1129.0 L1004.9,1129.2 L1006.4,1129.4 L1007.9,1129.6 L1009.4,1129.8 L1010.9,1130.0 L1012.4,1130.2 L1013.8,1130.4 L1015.3,1130.6 L1016.8,1130.8 L1018.3,1131.0 L1019.8,1131.2 L1021.3,1131.4 L1022.8,1131.6 L1024.3,1131.8 L1025.7,1132.0 L1027.2,1132.2 L1028.7,1132.4 L1030.2,1132.6 L1031.7,1132.8 L1033.2,1133.0 L1034.7,1133.2 L1036.1,1133.4 L1037.6,1133.6 L1039.1,1133.8 L1040.6,1134.1 L1042.1,1134.3 L1043.6,1134.5 L1045.1,1134.7 L1046.5,1134.9 L1048.0,1135.1 L1049.5,1135.3 L1051.0,1135.5 L1052.5,1135.7 L1054.0,1135.9 L1055.5,1136.1 L1056.9,1136.3 L1058.4,1136.5 L1059.9,1136.7 L1061.4,1136.9 L1062.9,1137.1 L1064.4,1137.3 L1065.9,1137.5 L1067.3,1137.7 L1068.8,1137.9 L1070.3,1138.1 L1071.8,1138.3 L1073.3,1138.5 L1074.8,1138.7 L1076.3,1138.9 L1077.8,1139.1 L1079.2,1139.3 L1080.7,1139.5 L1082.2,1139.7 L1083.7,1139.9 L1085.2,1140.1 L1086.7,1140.3 L1088.2,1140.5 L1089.6,1140.7 L1091.1,1140.9 L1092.6,1141.2 L1094.1,1141.4 L1095.6,1141.6 L1097.1,1141.8 L1098.6,1142.0 L1100.0,1142.2 L1101.5,1142.4 L1103.0,1142.6 L1104.5,1142.8 L1106.0,1143.0 L1107.5,1143.2 L1109.0,1143.4 L1110.5,1143.6 L1111.9,1143.8 L1113.4,1143.9 L1114.9,1144.1 L1116.4,1144.3 L1117.9,1144.5 L1119.4,1144.7 L1120.9,1144.9 L1122.4,1145.1 L1123.8,1145.3 L1125.3,1145.5 L1126.8,1145.7 L1128.3,1145.9 L1129.8,1146.1 L1131.3,1146.3 L1132.8,1146.5 L1134.2,1146.7 L1135.7,1146.9 L1137.2,1147.1 L1138.7,1147.3 L1140.2,1147.5 L1141.7,1147.6 L1143.2,1147.8 L1144.7,1148.0 L1146.2,1148.2 L1147.6,1148.4 L1149.1,1148.6 L1150.6,1148.8 L1152.1,1148.9 L1153.6,1149.1 L1155.1,1149.3 L1156.6,1149.5 L1158.1,1149.7 L1159.6,1149.9 L1161.0,1150.0 L1162.5,1150.2 L1164.0,1150.4 L1165.5,1150.6 L1167.0,1150.7 L1168.5,1150.9 L1170.0,1151.1 L1171.5,1151.3 L1173.0,1151.4 L1174.4,1151.6 L1175.9,1151.8 L1177.4,1152.0 L1178.9,1152.1 L1180.4,1152.3 L1181.9,1152.5 L1183.4,1152.7 L1184.9,1152.8 L1186.4,1153.0 L1187.9,1153.2 L1189.3,1153.3 L1190.8,1153.5 L1192.3,1153.7 L1193.8,1153.9 L1195.3,1154.0 L1196.8,1154.2 L1198.3,1154.4 L1199.8,1154.5 L1201.3,1154.7 L1202.8,1154.9 L1204.3,1155.1 L1205.7,1155.2 L1207.2,1155.4 L1208.7,1155.6 L1210.2,1155.7 L1211.7,1155.9 L1213.2,1156.1 L1214.7,1156.3 L1216.2,1156.4 L1217.7,1156.6 L1219.1,1156.8 L1220.6,1157.0 L1222.1,1157.1 L1223.6,1157.3 L1225.1,1157.5 L1226.6,1157.7 L1228.1,1157.9 L1229.6,1158.1 L1231.1,1158.3 L1232.5,1158.5 L1234.0,1158.6 L1235.5,1158.8 L1237.0,1159.0 L1238.5,1159.2 L1240.0,1159.4 L1241.5,1159.7 L1242.9,1159.9 L1244.4,1160.2 L1245.9,1160.5" fill="none" stroke="#7c7cff" stroke-width="4.2" stroke-dasharray="1.1 1.3" opacity="0.9" transform="translate(-0.5,-1.6)"/>
<use href="#mB" x="524.0" y="1132.7"/>
<use href="#mB" x="526.5" y="1191.0"/>
<polyline points="524.9,1182.6 524.5,1232.5 524.9,1254.4 526.5,1265.8" fill="none" stroke="#008000" stroke-width="5.6" stroke-linejoin="round" stroke-linecap="round"/>
<path d="M526.5,1265.8 L526.9,1267.3 L527.2,1268.7 L527.5,1270.2 L527.9,1271.6 L528.4,1273.0 L529.1,1274.4 L529.9,1275.6 L530.8,1276.8 L531.8,1278.0 L532.8,1279.0 L534.0,1279.9 L535.2,1280.6 L536.5,1281.0 L537.8,1281.3 L539.2,1281.4 L540.5,1281.4 L541.8,1281.2 L543.1,1281.5 L544.3,1281.6 L545.6,1281.7 L546.9,1281.7 L548.3,1281.6 L549.6,1281.4 L550.9,1281.2 L552.3,1280.9 L553.7,1280.5 L555.1,1280.1 L556.4,1279.6 L557.8,1279.0 L559.1,1278.5 L560.5,1277.8 L561.8,1277.2 L563.2,1276.5 L564.5,1275.8 L565.8,1275.1 L567.1,1274.4 L568.5,1273.7 L569.8,1272.9 L571.1,1272.2 L572.4,1271.5 L573.7,1270.7 L575.0,1270.0 L576.3,1269.2 L577.6,1268.4 L578.8,1267.7 L580.1,1266.9 L581.4,1266.1 L582.7,1265.3 L584.0,1264.6 L585.2,1263.8 L586.5,1263.0 L587.8,1262.2 L589.1,1261.4 L590.3,1260.6 L591.6,1259.8 L592.9,1259.0 L594.2,1258.2 L595.4,1257.4 L596.7,1256.6 L598.0,1255.8 L599.2,1255.0 L600.5,1254.2 L601.8,1253.4 L603.0,1252.6 L604.3,1251.8 L605.5,1251.0 L606.8,1250.1 L608.1,1249.3 L609.3,1248.5 L610.6,1247.7 L611.8,1246.9 L613.1,1246.1 L614.3,1245.2 L615.6,1244.4 L616.9,1243.6 L618.1,1242.8 L619.4,1242.0 L620.6,1241.2 L621.9,1240.3 L623.2,1239.5 L624.4,1238.7 L625.7,1237.9 L626.9,1237.1 L628.2,1236.3 L629.5,1235.5 L630.7,1234.7 L632.0,1233.9 L633.3,1233.1 L634.5,1232.3 L635.8,1231.5 L637.1,1230.7 L638.3,1229.9 L639.6,1229.1 L640.9,1228.3 L642.2,1227.5 L643.4,1226.7 L644.7,1225.9 L646.0,1225.1 L647.3,1224.4 L648.6,1223.6 L649.9,1222.8 L651.1,1222.0 L652.4,1221.3 L653.7,1220.5 L655.0,1219.8 L656.3,1219.0 L657.6,1218.2 L658.9,1217.5 L660.2,1216.7 L661.5,1216.0 L662.8,1215.2 L664.1,1214.5 L665.4,1213.8 L666.7,1213.0 L668.0,1212.3 L669.3,1211.6 L670.7,1210.9 L672.0,1210.1 L673.3,1209.4 L674.6,1208.7 L675.9,1208.0 L677.3,1207.3 L678.6,1206.6 L679.9,1205.9 L681.2,1205.2 L682.6,1204.5 L683.9,1203.9 L685.3,1203.2 L686.6,1202.5 L688.0,1201.9 L689.3,1201.2 L690.7,1200.6 L692.0,1199.9 L693.4,1199.3 L694.7,1198.7 L696.1,1198.0 L697.5,1197.4 L698.8,1196.8 L700.2,1196.2 L701.6,1195.6 L703.0,1195.0 L704.3,1194.5 L705.7,1193.9 L707.1,1193.3 L708.5,1192.8 L709.9,1192.2 L711.3,1191.7 L712.7,1191.1 L714.1,1190.6 L715.5,1190.1 L716.9,1189.6 L718.3,1189.1 L719.7,1188.6 L721.2,1188.1 L722.6,1187.6 L724.0,1187.1 L725.4,1186.6 L726.8,1186.2 L728.3,1185.7 L729.7,1185.2 L731.1,1184.8 L732.5,1184.3 L734.0,1183.9 L735.4,1183.4 L736.8,1183.0 L738.3,1182.5 L739.7,1182.1 L741.1,1181.7 L742.6,1181.2 L744.0,1180.8 L745.5,1180.4 L746.9,1180.0 L748.3,1179.6 L749.8,1179.1 L751.2,1178.7 L752.7,1178.3 L754.1,1177.9 L755.6,1177.5 L757.0,1177.1 L758.5,1176.7 L759.9,1176.4 L761.3,1176.0 L762.8,1175.6 L764.2,1175.2 L765.7,1174.8 L767.1,1174.4 L768.6,1174.1 L770.0,1173.7 L771.5,1173.3 L773.0,1172.9 L774.4,1172.5 L775.9,1172.2 L777.3,1171.8 L778.8,1171.4 L780.2,1171.1 L781.7,1170.7 L783.1,1170.4 L784.6,1170.0 L786.1,1169.7 L787.5,1169.3 L789.0,1169.0 L790.4,1168.7 L791.9,1168.3 L793.4,1168.0 L794.8,1167.7 L796.3,1167.4 L797.8,1167.1 L799.2,1166.8 L800.7,1166.6 L802.2,1166.3 L803.7,1166.1 L805.1,1165.8 L806.6,1165.6 L808.1,1165.4 L809.6,1165.2 L811.1,1165.0 L812.6,1164.8 L814.0,1164.6 L815.5,1164.4 L817.0,1164.3 L818.5,1164.1 L820.0,1164.0 L821.5,1163.8 L823.0,1163.7 L824.5,1163.6 L826.0,1163.4 L827.5,1163.3 L829.0,1163.2 L830.5,1163.1 L832.0,1163.0 L833.5,1162.9 L835.0,1162.9 L836.5,1162.8 L838.0,1162.7 L839.5,1162.6 L840.9,1162.5 L842.4,1162.5 L843.9,1162.4 L845.4,1162.3 L846.9,1162.3 L848.4,1162.2 L849.9,1162.2 L851.4,1162.1 L852.9,1162.0 L854.4,1162.0 L855.9,1161.9 L857.4,1161.9 L858.9,1161.8 L860.4,1161.8 L861.9,1161.8 L863.4,1161.7 L864.9,1161.7 L866.4,1161.6 L867.9,1161.6 L869.4,1161.6 L870.9,1161.5 L872.4,1161.5 L873.9,1161.5 L875.4,1161.5 L876.9,1161.4 L878.4,1161.4 L879.9,1161.4 L881.4,1161.4 L882.9,1161.4 L884.4,1161.4 L885.9,1161.4 L887.4,1161.5 L888.9,1161.5 L890.4,1161.5 L891.9,1161.5 L893.4,1161.6 L894.9,1161.6 L896.4,1161.7 L897.9,1161.7 L899.4,1161.8 L900.9,1161.8 L902.4,1161.9 L903.9,1162.0 L905.4,1162.0 L906.9,1162.1 L908.4,1162.2 L909.9,1162.3 L911.4,1162.4 L912.9,1162.5 L914.4,1162.6 L915.9,1162.7 L917.4,1162.8 L918.9,1162.9 L920.4,1163.0 L921.9,1163.2 L923.4,1163.3 L924.9,1163.4 L926.3,1163.5 L927.8,1163.7 L929.3,1163.8 L930.8,1163.9 L932.3,1164.1 L933.8,1164.2 L935.3,1164.4 L936.8,1164.5 L938.3,1164.6 L939.8,1164.8 L941.3,1164.9 L942.8,1165.1 L944.3,1165.2 L945.8,1165.4 L947.3,1165.6 L948.7,1165.7 L950.2,1165.9 L951.7,1166.0 L953.2,1166.2 L954.7,1166.3 L956.2,1166.5 L957.7,1166.7 L959.2,1166.8 L960.7,1167.0 L962.2,1167.2 L963.7,1167.3 L965.1,1167.5 L966.6,1167.7 L968.1,1167.8 L969.6,1168.0 L971.1,1168.2 L972.6,1168.3 L974.1,1168.5 L975.6,1168.7 L977.1,1168.8 L978.6,1169.0 L980.0,1169.2 L981.5,1169.4 L983.0,1169.5 L984.5,1169.7 L986.0,1169.9 L987.5,1170.1 L989.0,1170.2 L990.5,1170.4 L992.0,1170.6 L993.5,1170.8 L994.9,1171.0 L996.4,1171.2 L997.9,1171.3 L999.4,1171.5 L1000.9,1171.7 L1002.4,1171.9 L1003.9,1172.1 L1005.4,1172.3 L1006.8,1172.5 L1008.3,1172.7 L1009.8,1172.8 L1011.3,1173.0 L1012.8,1173.2 L1014.3,1173.4 L1015.8,1173.6 L1017.3,1173.8 L1018.7,1174.0 L1020.2,1174.2 L1021.7,1174.4 L1023.2,1174.6 L1024.7,1174.8 L1026.2,1175.0 L1027.7,1175.2 L1029.2,1175.4 L1030.6,1175.6 L1032.1,1175.8 L1033.6,1176.0 L1035.1,1176.2 L1036.6,1176.4 L1038.1,1176.6 L1039.6,1176.8 L1041.0,1177.0 L1042.5,1177.2 L1044.0,1177.5 L1045.5,1177.7 L1047.0,1177.9 L1048.5,1178.1 L1050.0,1178.3 L1051.4,1178.5 L1052.9,1178.7 L1054.4,1178.9 L1055.9,1179.1 L1057.4,1179.3 L1058.9,1179.5 L1060.4,1179.7 L1061.8,1179.9 L1063.3,1180.1 L1064.8,1180.3 L1066.3,1180.5 L1067.8,1180.7 L1069.3,1180.9 L1070.8,1181.1 L1072.3,1181.3 L1073.7,1181.5 L1075.2,1181.7 L1076.7,1181.9 L1078.2,1182.1 L1079.7,1182.3 L1081.2,1182.5 L1082.7,1182.7 L1084.1,1182.9 L1085.6,1183.1 L1087.1,1183.3 L1088.6,1183.5 L1090.1,1183.7 L1091.6,1183.9 L1093.1,1184.1 L1094.6,1184.3 L1096.0,1184.5 L1097.5,1184.7 L1099.0,1184.9 L1100.5,1185.1 L1102.0,1185.3 L1103.5,1185.5 L1105.0,1185.7 L1106.4,1185.9 L1107.9,1186.1 L1109.4,1186.3 L1110.9,1186.5 L1112.4,1186.7 L1113.9,1186.9 L1115.4,1187.1 L1116.9,1187.3 L1118.3,1187.5 L1119.8,1187.7 L1121.3,1187.9 L1122.8,1188.1 L1124.3,1188.3 L1125.8,1188.5 L1127.3,1188.7 L1128.7,1188.9 L1130.2,1189.1 L1131.7,1189.3 L1133.2,1189.5 L1134.7,1189.7 L1136.2,1189.9 L1137.7,1190.1 L1139.2,1190.3 L1140.6,1190.5 L1142.1,1190.7 L1143.6,1190.9 L1145.1,1191.1 L1146.6,1191.3 L1148.1,1191.5 L1149.6,1191.7 L1151.1,1191.9 L1152.5,1192.1 L1154.0,1192.3 L1155.5,1192.5 L1157.0,1192.6 L1158.5,1192.8 L1160.0,1193.0 L1161.5,1193.2 L1162.9,1193.4 L1164.4,1193.6 L1165.9,1193.8 L1167.4,1194.0 L1168.9,1194.2 L1170.4,1194.4 L1171.9,1194.6 L1173.4,1194.8 L1174.8,1195.0 L1176.3,1195.2 L1177.8,1195.4 L1179.3,1195.6 L1180.8,1195.8 L1182.3,1196.0 L1183.8,1196.2 L1185.3,1196.4 L1186.7,1196.6 L1188.2,1196.8 L1189.7,1197.0 L1191.2,1197.2 L1192.7,1197.4 L1194.2,1197.6 L1195.7,1197.8 L1197.1,1198.0 L1198.6,1198.2 L1200.1,1198.4 L1201.6,1198.6 L1203.1,1198.8 L1204.6,1199.0 L1206.1,1199.2 L1207.6,1199.3 L1209.0,1199.5 L1210.5,1199.7 L1212.0,1199.9 L1213.5,1200.1 L1215.0,1200.3 L1216.5,1200.5 L1218.0,1200.7 L1219.4,1200.9 L1220.9,1201.1 L1222.4,1201.3 L1223.9,1201.6 L1225.4,1201.8 L1226.9,1202.0 L1228.4,1202.2 L1229.9,1202.4 L1231.3,1202.6 L1232.8,1202.8 L1234.3,1203.0 L1235.8,1203.2 L1237.3,1203.4 L1238.8,1203.6 L1240.2,1203.9 L1241.7,1204.1 L1243.2,1204.3 L1244.7,1204.6 L1246.2,1204.9" fill="none" stroke="#005a00" stroke-width="15.2" stroke-linejoin="round" stroke-linecap="round"/>
<path d="M526.5,1265.8 L526.9,1267.3 L527.2,1268.7 L527.5,1270.2 L527.9,1271.6 L528.4,1273.0 L529.1,1274.4 L529.9,1275.6 L530.8,1276.8 L531.8,1278.0 L532.8,1279.0 L534.0,1279.9 L535.2,1280.6 L536.5,1281.0 L537.8,1281.3 L539.2,1281.4 L540.5,1281.4 L541.8,1281.2 L543.1,1281.5 L544.3,1281.6 L545.6,1281.7 L546.9,1281.7 L548.3,1281.6 L549.6,1281.4 L550.9,1281.2 L552.3,1280.9 L553.7,1280.5 L555.1,1280.1 L556.4,1279.6 L557.8,1279.0 L559.1,1278.5 L560.5,1277.8 L561.8,1277.2 L563.2,1276.5 L564.5,1275.8 L565.8,1275.1 L567.1,1274.4 L568.5,1273.7 L569.8,1272.9 L571.1,1272.2 L572.4,1271.5 L573.7,1270.7 L575.0,1270.0 L576.3,1269.2 L577.6,1268.4 L578.8,1267.7 L580.1,1266.9 L581.4,1266.1 L582.7,1265.3 L584.0,1264.6 L585.2,1263.8 L586.5,1263.0 L587.8,1262.2 L589.1,1261.4 L590.3,1260.6 L591.6,1259.8 L592.9,1259.0 L594.2,1258.2 L595.4,1257.4 L596.7,1256.6 L598.0,1255.8 L599.2,1255.0 L600.5,1254.2 L601.8,1253.4 L603.0,1252.6 L604.3,1251.8 L605.5,1251.0 L606.8,1250.1 L608.1,1249.3 L609.3,1248.5 L610.6,1247.7 L611.8,1246.9 L613.1,1246.1 L614.3,1245.2 L615.6,1244.4 L616.9,1243.6 L618.1,1242.8 L619.4,1242.0 L620.6,1241.2 L621.9,1240.3 L623.2,1239.5 L624.4,1238.7 L625.7,1237.9 L626.9,1237.1 L628.2,1236.3 L629.5,1235.5 L630.7,1234.7 L632.0,1233.9 L633.3,1233.1 L634.5,1232.3 L635.8,1231.5 L637.1,1230.7 L638.3,1229.9 L639.6,1229.1 L640.9,1228.3 L642.2,1227.5 L643.4,1226.7 L644.7,1225.9 L646.0,1225.1 L647.3,1224.4 L648.6,1223.6 L649.9,1222.8 L651.1,1222.0 L652.4,1221.3 L653.7,1220.5 L655.0,1219.8 L656.3,1219.0 L657.6,1218.2 L658.9,1217.5 L660.2,1216.7 L661.5,1216.0 L662.8,1215.2 L664.1,1214.5 L665.4,1213.8 L666.7,1213.0 L668.0,1212.3 L669.3,1211.6 L670.7,1210.9 L672.0,1210.1 L673.3,1209.4 L674.6,1208.7 L675.9,1208.0 L677.3,1207.3 L678.6,1206.6 L679.9,1205.9 L681.2,1205.2 L682.6,1204.5 L683.9,1203.9 L685.3,1203.2 L686.6,1202.5 L688.0,1201.9 L689.3,1201.2 L690.7,1200.6 L692.0,1199.9 L693.4,1199.3 L694.7,1198.7 L696.1,1198.0 L697.5,1197.4 L698.8,1196.8 L700.2,1196.2 L701.6,1195.6 L703.0,1195.0 L704.3,1194.5 L705.7,1193.9 L707.1,1193.3 L708.5,1192.8 L709.9,1192.2 L711.3,1191.7 L712.7,1191.1 L714.1,1190.6 L715.5,1190.1 L716.9,1189.6 L718.3,1189.1 L719.7,1188.6 L721.2,1188.1 L722.6,1187.6 L724.0,1187.1 L725.4,1186.6 L726.8,1186.2 L728.3,1185.7 L729.7,1185.2 L731.1,1184.8 L732.5,1184.3 L734.0,1183.9 L735.4,1183.4 L736.8,1183.0 L738.3,1182.5 L739.7,1182.1 L741.1,1181.7 L742.6,1181.2 L744.0,1180.8 L745.5,1180.4 L746.9,1180.0 L748.3,1179.6 L749.8,1179.1 L751.2,1178.7 L752.7,1178.3 L754.1,1177.9 L755.6,1177.5 L757.0,1177.1 L758.5,1176.7 L759.9,1176.4 L761.3,1176.0 L762.8,1175.6 L764.2,1175.2 L765.7,1174.8 L767.1,1174.4 L768.6,1174.1 L770.0,1173.7 L771.5,1173.3 L773.0,1172.9 L774.4,1172.5 L775.9,1172.2 L777.3,1171.8 L778.8,1171.4 L780.2,1171.1 L781.7,1170.7 L783.1,1170.4 L784.6,1170.0 L786.1,1169.7 L787.5,1169.3 L789.0,1169.0 L790.4,1168.7 L791.9,1168.3 L793.4,1168.0 L794.8,1167.7 L796.3,1167.4 L797.8,1167.1 L799.2,1166.8 L800.7,1166.6 L802.2,1166.3 L803.7,1166.1 L805.1,1165.8 L806.6,1165.6 L808.1,1165.4 L809.6,1165.2 L811.1,1165.0 L812.6,1164.8 L814.0,1164.6 L815.5,1164.4 L817.0,1164.3 L818.5,1164.1 L820.0,1164.0 L821.5,1163.8 L823.0,1163.7 L824.5,1163.6 L826.0,1163.4 L827.5,1163.3 L829.0,1163.2 L830.5,1163.1 L832.0,1163.0 L833.5,1162.9 L835.0,1162.9 L836.5,1162.8 L838.0,1162.7 L839.5,1162.6 L840.9,1162.5 L842.4,1162.5 L843.9,1162.4 L845.4,1162.3 L846.9,1162.3 L848.4,1162.2 L849.9,1162.2 L851.4,1162.1 L852.9,1162.0 L854.4,1162.0 L855.9,1161.9 L857.4,1161.9 L858.9,1161.8 L860.4,1161.8 L861.9,1161.8 L863.4,1161.7 L864.9,1161.7 L866.4,1161.6 L867.9,1161.6 L869.4,1161.6 L870.9,1161.5 L872.4,1161.5 L873.9,1161.5 L875.4,1161.5 L876.9,1161.4 L878.4,1161.4 L879.9,1161.4 L881.4,1161.4 L882.9,1161.4 L884.4,1161.4 L885.9,1161.4 L887.4,1161.5 L888.9,1161.5 L890.4,1161.5 L891.9,1161.5 L893.4,1161.6 L894.9,1161.6 L896.4,1161.7 L897.9,1161.7 L899.4,1161.8 L900.9,1161.8 L902.4,1161.9 L903.9,1162.0 L905.4,1162.0 L906.9,1162.1 L908.4,1162.2 L909.9,1162.3 L911.4,1162.4 L912.9,1162.5 L914.4,1162.6 L915.9,1162.7 L917.4,1162.8 L918.9,1162.9 L920.4,1163.0 L921.9,1163.2 L923.4,1163.3 L924.9,1163.4 L926.3,1163.5 L927.8,1163.7 L929.3,1163.8 L930.8,1163.9 L932.3,1164.1 L933.8,1164.2 L935.3,1164.4 L936.8,1164.5 L938.3,1164.6 L939.8,1164.8 L941.3,1164.9 L942.8,1165.1 L944.3,1165.2 L945.8,1165.4 L947.3,1165.6 L948.7,1165.7 L950.2,1165.9 L951.7,1166.0 L953.2,1166.2 L954.7,1166.3 L956.2,1166.5 L957.7,1166.7 L959.2,1166.8 L960.7,1167.0 L962.2,1167.2 L963.7,1167.3 L965.1,1167.5 L966.6,1167.7 L968.1,1167.8 L969.6,1168.0 L971.1,1168.2 L972.6,1168.3 L974.1,1168.5 L975.6,1168.7 L977.1,1168.8 L978.6,1169.0 L980.0,1169.2 L981.5,1169.4 L983.0,1169.5 L984.5,1169.7 L986.0,1169.9 L987.5,1170.1 L989.0,1170.2 L990.5,1170.4 L992.0,1170.6 L993.5,1170.8 L994.9,1171.0 L996.4,1171.2 L997.9,1171.3 L999.4,1171.5 L1000.9,1171.7 L1002.4,1171.9 L1003.9,1172.1 L1005.4,1172.3 L1006.8,1172.5 L1008.3,1172.7 L1009.8,1172.8 L1011.3,1173.0 L1012.8,1173.2 L1014.3,1173.4 L1015.8,1173.6 L1017.3,1173.8 L1018.7,1174.0 L1020.2,1174.2 L1021.7,1174.4 L1023.2,1174.6 L1024.7,1174.8 L1026.2,1175.0 L1027.7,1175.2 L1029.2,1175.4 L1030.6,1175.6 L1032.1,1175.8 L1033.6,1176.0 L1035.1,1176.2 L1036.6,1176.4 L1038.1,1176.6 L1039.6,1176.8 L1041.0,1177.0 L1042.5,1177.2 L1044.0,1177.5 L1045.5,1177.7 L1047.0,1177.9 L1048.5,1178.1 L1050.0,1178.3 L1051.4,1178.5 L1052.9,1178.7 L1054.4,1178.9 L1055.9,1179.1 L1057.4,1179.3 L1058.9,1179.5 L1060.4,1179.7 L1061.8,1179.9 L1063.3,1180.1 L1064.8,1180.3 L1066.3,1180.5 L1067.8,1180.7 L1069.3,1180.9 L1070.8,1181.1 L1072.3,1181.3 L1073.7,1181.5 L1075.2,1181.7 L1076.7,1181.9 L1078.2,1182.1 L1079.7,1182.3 L1081.2,1182.5 L1082.7,1182.7 L1084.1,1182.9 L1085.6,1183.1 L1087.1,1183.3 L1088.6,1183.5 L1090.1,1183.7 L1091.6,1183.9 L1093.1,1184.1 L1094.6,1184.3 L1096.0,1184.5 L1097.5,1184.7 L1099.0,1184.9 L1100.5,1185.1 L1102.0,1185.3 L1103.5,1185.5 L1105.0,1185.7 L1106.4,1185.9 L1107.9,1186.1 L1109.4,1186.3 L1110.9,1186.5 L1112.4,1186.7 L1113.9,1186.9 L1115.4,1187.1 L1116.9,1187.3 L1118.3,1187.5 L1119.8,1187.7 L1121.3,1187.9 L1122.8,1188.1 L1124.3,1188.3 L1125.8,1188.5 L1127.3,1188.7 L1128.7,1188.9 L1130.2,1189.1 L1131.7,1189.3 L1133.2,1189.5 L1134.7,1189.7 L1136.2,1189.9 L1137.7,1190.1 L1139.2,1190.3 L1140.6,1190.5 L1142.1,1190.7 L1143.6,1190.9 L1145.1,1191.1 L1146.6,1191.3 L1148.1,1191.5 L1149.6,1191.7 L1151.1,1191.9 L1152.5,1192.1 L1154.0,1192.3 L1155.5,1192.5 L1157.0,1192.6 L1158.5,1192.8 L1160.0,1193.0 L1161.5,1193.2 L1162.9,1193.4 L1164.4,1193.6 L1165.9,1193.8 L1167.4,1194.0 L1168.9,1194.2 L1170.4,1194.4 L1171.9,1194.6 L1173.4,1194.8 L1174.8,1195.0 L1176.3,1195.2 L1177.8,1195.4 L1179.3,1195.6 L1180.8,1195.8 L1182.3,1196.0 L1183.8,1196.2 L1185.3,1196.4 L1186.7,1196.6 L1188.2,1196.8 L1189.7,1197.0 L1191.2,1197.2 L1192.7,1197.4 L1194.2,1197.6 L1195.7,1197.8 L1197.1,1198.0 L1198.6,1198.2 L1200.1,1198.4 L1201.6,1198.6 L1203.1,1198.8 L1204.6,1199.0 L1206.1,1199.2 L1207.6,1199.3 L1209.0,1199.5 L1210.5,1199.7 L1212.0,1199.9 L1213.5,1200.1 L1215.0,1200.3 L1216.5,1200.5 L1218.0,1200.7 L1219.4,1200.9 L1220.9,1201.1 L1222.4,1201.3 L1223.9,1201.6 L1225.4,1201.8 L1226.9,1202.0 L1228.4,1202.2 L1229.9,1202.4 L1231.3,1202.6 L1232.8,1202.8 L1234.3,1203.0 L1235.8,1203.2 L1237.3,1203.4 L1238.8,1203.6 L1240.2,1203.9 L1241.7,1204.1 L1243.2,1204.3 L1244.7,1204.6 L1246.2,1204.9" fill="none" stroke="#008000" stroke-width="12.0" stroke-linejoin="round" stroke-linecap="round"/>
<path d="M526.5,1265.8 L526.9,1267.3 L527.2,1268.7 L527.5,1270.2 L527.9,1271.6 L528.4,1273.0 L529.1,1274.4 L529.9,1275.6 L530.8,1276.8 L531.8,1278.0 L532.8,1279.0 L534.0,1279.9 L535.2,1280.6 L536.5,1281.0 L537.8,1281.3 L539.2,1281.4 L540.5,1281.4 L541.8,1281.2 L543.1,1281.5 L544.3,1281.6 L545.6,1281.7 L546.9,1281.7 L548.3,1281.6 L549.6,1281.4 L550.9,1281.2 L552.3,1280.9 L553.7,1280.5 L555.1,1280.1 L556.4,1279.6 L557.8,1279.0 L559.1,1278.5 L560.5,1277.8 L561.8,1277.2 L563.2,1276.5 L564.5,1275.8 L565.8,1275.1 L567.1,1274.4 L568.5,1273.7 L569.8,1272.9 L571.1,1272.2 L572.4,1271.5 L573.7,1270.7 L575.0,1270.0 L576.3,1269.2 L577.6,1268.4 L578.8,1267.7 L580.1,1266.9 L581.4,1266.1 L582.7,1265.3 L584.0,1264.6 L585.2,1263.8 L586.5,1263.0 L587.8,1262.2 L589.1,1261.4 L590.3,1260.6 L591.6,1259.8 L592.9,1259.0 L594.2,1258.2 L595.4,1257.4 L596.7,1256.6 L598.0,1255.8 L599.2,1255.0 L600.5,1254.2 L601.8,1253.4 L603.0,1252.6 L604.3,1251.8 L605.5,1251.0 L606.8,1250.1 L608.1,1249.3 L609.3,1248.5 L610.6,1247.7 L611.8,1246.9 L613.1,1246.1 L614.3,1245.2 L615.6,1244.4 L616.9,1243.6 L618.1,1242.8 L619.4,1242.0 L620.6,1241.2 L621.9,1240.3 L623.2,1239.5 L624.4,1238.7 L625.7,1237.9 L626.9,1237.1 L628.2,1236.3 L629.5,1235.5 L630.7,1234.7 L632.0,1233.9 L633.3,1233.1 L634.5,1232.3 L635.8,1231.5 L637.1,1230.7 L638.3,1229.9 L639.6,1229.1 L640.9,1228.3 L642.2,1227.5 L643.4,1226.7 L644.7,1225.9 L646.0,1225.1 L647.3,1224.4 L648.6,1223.6 L649.9,1222.8 L651.1,1222.0 L652.4,1221.3 L653.7,1220.5 L655.0,1219.8 L656.3,1219.0 L657.6,1218.2 L658.9,1217.5 L660.2,1216.7 L661.5,1216.0 L662.8,1215.2 L664.1,1214.5 L665.4,1213.8 L666.7,1213.0 L668.0,1212.3 L669.3,1211.6 L670.7,1210.9 L672.0,1210.1 L673.3,1209.4 L674.6,1208.7 L675.9,1208.0 L677.3,1207.3 L678.6,1206.6 L679.9,1205.9 L681.2,1205.2 L682.6,1204.5 L683.9,1203.9 L685.3,1203.2 L686.6,1202.5 L688.0,1201.9 L689.3,1201.2 L690.7,1200.6 L692.0,1199.9 L693.4,1199.3 L694.7,1198.7 L696.1,1198.0 L697.5,1197.4 L698.8,1196.8 L700.2,1196.2 L701.6,1195.6 L703.0,1195.0 L704.3,1194.5 L705.7,1193.9 L707.1,1193.3 L708.5,1192.8 L709.9,1192.2 L711.3,1191.7 L712.7,1191.1 L714.1,1190.6 L715.5,1190.1 L716.9,1189.6 L718.3,1189.1 L719.7,1188.6 L721.2,1188.1 L722.6,1187.6 L724.0,1187.1 L725.4,1186.6 L726.8,1186.2 L728.3,1185.7 L729.7,1185.2 L731.1,1184.8 L732.5,1184.3 L734.0,1183.9 L735.4,1183.4 L736.8,1183.0 L738.3,1182.5 L739.7,1182.1 L741.1,1181.7 L742.6,1181.2 L744.0,1180.8 L745.5,1180.4 L746.9,1180.0 L748.3,1179.6 L749.8,1179.1 L751.2,1178.7 L752.7,1178.3 L754.1,1177.9 L755.6,1177.5 L757.0,1177.1 L758.5,1176.7 L759.9,1176.4 L761.3,1176.0 L762.8,1175.6 L764.2,1175.2 L765.7,1174.8 L767.1,1174.4 L768.6,1174.1 L770.0,1173.7 L771.5,1173.3 L773.0,1172.9 L774.4,1172.5 L775.9,1172.2 L777.3,1171.8 L778.8,1171.4 L780.2,1171.1 L781.7,1170.7 L783.1,1170.4 L784.6,1170.0 L786.1,1169.7 L787.5,1169.3 L789.0,1169.0 L790.4,1168.7 L791.9,1168.3 L793.4,1168.0 L794.8,1167.7 L796.3,1167.4 L797.8,1167.1 L799.2,1166.8 L800.7,1166.6 L802.2,1166.3 L803.7,1166.1 L805.1,1165.8 L806.6,1165.6 L808.1,1165.4 L809.6,1165.2 L811.1,1165.0 L812.6,1164.8 L814.0,1164.6 L815.5,1164.4 L817.0,1164.3 L818.5,1164.1 L820.0,1164.0 L821.5,1163.8 L823.0,1163.7 L824.5,1163.6 L826.0,1163.4 L827.5,1163.3 L829.0,1163.2 L830.5,1163.1 L832.0,1163.0 L833.5,1162.9 L835.0,1162.9 L836.5,1162.8 L838.0,1162.7 L839.5,1162.6 L840.9,1162.5 L842.4,1162.5 L843.9,1162.4 L845.4,1162.3 L846.9,1162.3 L848.4,1162.2 L849.9,1162.2 L851.4,1162.1 L852.9,1162.0 L854.4,1162.0 L855.9,1161.9 L857.4,1161.9 L858.9,1161.8 L860.4,1161.8 L861.9,1161.8 L863.4,1161.7 L864.9,1161.7 L866.4,1161.6 L867.9,1161.6 L869.4,1161.6 L870.9,1161.5 L872.4,1161.5 L873.9,1161.5 L875.4,1161.5 L876.9,1161.4 L878.4,1161.4 L879.9,1161.4 L881.4,1161.4 L882.9,1161.4 L884.4,1161.4 L885.9,1161.4 L887.4,1161.5 L888.9,1161.5 L890.4,1161.5 L891.9,1161.5 L893.4,1161.6 L894.9,1161.6 L896.4,1161.7 L897.9,1161.7 L899.4,1161.8 L900.9,1161.8 L902.4,1161.9 L903.9,1162.0 L905.4,1162.0 L906.9,1162.1 L908.4,1162.2 L909.9,1162.3 L911.4,1162.4 L912.9,1162.5 L914.4,1162.6 L915.9,1162.7 L917.4,1162.8 L918.9,1162.9 L920.4,1163.0 L921.9,1163.2 L923.4,1163.3 L924.9,1163.4 L926.3,1163.5 L927.8,1163.7 L929.3,1163.8 L930.8,1163.9 L932.3,1164.1 L933.8,1164.2 L935.3,1164.4 L936.8,1164.5 L938.3,1164.6 L939.8,1164.8 L941.3,1164.9 L942.8,1165.1 L944.3,1165.2 L945.8,1165.4 L947.3,1165.6 L948.7,1165.7 L950.2,1165.9 L951.7,1166.0 L953.2,1166.2 L954.7,1166.3 L956.2,1166.5 L957.7,1166.7 L959.2,1166.8 L960.7,1167.0 L962.2,1167.2 L963.7,1167.3 L965.1,1167.5 L966.6,1167.7 L968.1,1167.8 L969.6,1168.0 L971.1,1168.2 L972.6,1168.3 L974.1,1168.5 L975.6,1168.7 L977.1,1168.8 L978.6,1169.0 L980.0,1169.2 L981.5,1169.4 L983.0,1169.5 L984.5,1169.7 L986.0,1169.9 L987.5,1170.1 L989.0,1170.2 L990.5,1170.4 L992.0,1170.6 L993.5,1170.8 L994.9,1171.0 L996.4,1171.2 L997.9,1171.3 L999.4,1171.5 L1000.9,1171.7 L1002.4,1171.9 L1003.9,1172.1 L1005.4,1172.3 L1006.8,1172.5 L1008.3,1172.7 L1009.8,1172.8 L1011.3,1173.0 L1012.8,1173.2 L1014.3,1173.4 L1015.8,1173.6 L1017.3,1173.8 L1018.7,1174.0 L1020.2,1174.2 L1021.7,1174.4 L1023.2,1174.6 L1024.7,1174.8 L1026.2,1175.0 L1027.7,1175.2 L1029.2,1175.4 L1030.6,1175.6 L1032.1,1175.8 L1033.6,1176.0 L1035.1,1176.2 L1036.6,1176.4 L1038.1,1176.6 L1039.6,1176.8 L1041.0,1177.0 L1042.5,1177.2 L1044.0,1177.5 L1045.5,1177.7 L1047.0,1177.9 L1048.5,1178.1 L1050.0,1178.3 L1051.4,1178.5 L1052.9,1178.7 L1054.4,1178.9 L1055.9,1179.1 L1057.4,1179.3 L1058.9,1179.5 L1060.4,1179.7 L1061.8,1179.9 L1063.3,1180.1 L1064.8,1180.3 L1066.3,1180.5 L1067.8,1180.7 L1069.3,1180.9 L1070.8,1181.1 L1072.3,1181.3 L1073.7,1181.5 L1075.2,1181.7 L1076.7,1181.9 L1078.2,1182.1 L1079.7,1182.3 L1081.2,1182.5 L1082.7,1182.7 L1084.1,1182.9 L1085.6,1183.1 L1087.1,1183.3 L1088.6,1183.5 L1090.1,1183.7 L1091.6,1183.9 L1093.1,1184.1 L1094.6,1184.3 L1096.0,1184.5 L1097.5,1184.7 L1099.0,1184.9 L1100.5,1185.1 L1102.0,1185.3 L1103.5,1185.5 L1105.0,1185.7 L1106.4,1185.9 L1107.9,1186.1 L1109.4,1186.3 L1110.9,1186.5 L1112.4,1186.7 L1113.9,1186.9 L1115.4,1187.1 L1116.9,1187.3 L1118.3,1187.5 L1119.8,1187.7 L1121.3,1187.9 L1122.8,1188.1 L1124.3,1188.3 L1125.8,1188.5 L1127.3,1188.7 L1128.7,1188.9 L1130.2,1189.1 L1131.7,1189.3 L1133.2,1189.5 L1134.7,1189.7 L1136.2,1189.9 L1137.7,1190.1 L1139.2,1190.3 L1140.6,1190.5 L1142.1,1190.7 L1143.6,1190.9 L1145.1,1191.1 L1146.6,1191.3 L1148.1,1191.5 L1149.6,1191.7 L1151.1,1191.9 L1152.5,1192.1 L1154.0,1192.3 L1155.5,1192.5 L1157.0,1192.6 L1158.5,1192.8 L1160.0,1193.0 L1161.5,1193.2 L1162.9,1193.4 L1164.4,1193.6 L1165.9,1193.8 L1167.4,1194.0 L1168.9,1194.2 L1170.4,1194.4 L1171.9,1194.6 L1173.4,1194.8 L1174.8,1195.0 L1176.3,1195.2 L1177.8,1195.4 L1179.3,1195.6 L1180.8,1195.8 L1182.3,1196.0 L1183.8,1196.2 L1185.3,1196.4 L1186.7,1196.6 L1188.2,1196.8 L1189.7,1197.0 L1191.2,1197.2 L1192.7,1197.4 L1194.2,1197.6 L1195.7,1197.8 L1197.1,1198.0 L1198.6,1198.2 L1200.1,1198.4 L1201.6,1198.6 L1203.1,1198.8 L1204.6,1199.0 L1206.1,1199.2 L1207.6,1199.3 L1209.0,1199.5 L1210.5,1199.7 L1212.0,1199.9 L1213.5,1200.1 L1215.0,1200.3 L1216.5,1200.5 L1218.0,1200.7 L1219.4,1200.9 L1220.9,1201.1 L1222.4,1201.3 L1223.9,1201.6 L1225.4,1201.8 L1226.9,1202.0 L1228.4,1202.2 L1229.9,1202.4 L1231.3,1202.6 L1232.8,1202.8 L1234.3,1203.0 L1235.8,1203.2 L1237.3,1203.4 L1238.8,1203.6 L1240.2,1203.9 L1241.7,1204.1 L1243.2,1204.3 L1244.7,1204.6 L1246.2,1204.9" fill="none" stroke="#66cc66" stroke-width="4.2" stroke-dasharray="1.1 1.3" opacity="0.9" transform="translate(-0.5,-1.6)"/>
<use href="#mG" x="524.9" y="1182.6"/>
<use href="#mG" x="524.5" y="1232.5"/>
<use href="#mG" x="524.9" y="1254.4"/>
<polyline points="530.1,1102.0 538.0,1169.5 547.7,1190.5 555.9,1198.4 565.2,1200.1 573.9,1199.2 581.8,1196.6 590.9,1191.8 600.0,1187.0 609.1,1182.2 618.2,1177.5 627.4,1172.9 636.5,1168.4 645.6,1163.9 654.7,1159.3 663.8,1154.7 672.9,1150.1 682.0,1145.6 691.1,1141.1 700.2,1136.7 709.3,1132.3 718.5,1128.2 727.6,1124.3 736.7,1120.7 745.8,1117.4 754.9,1114.4 764.0,1111.5 773.1,1108.8 782.2,1106.2 791.3,1103.6 800.4,1101.2 809.6,1099.0 818.7,1096.9 827.8,1095.0 836.9,1093.4 846.0,1091.9 855.1,1090.7 864.2,1089.7 873.3,1088.9 882.4,1088.2 891.5,1087.6 900.7,1087.2 909.8,1086.8 918.9,1086.5 928.0,1086.1 937.1,1085.9 946.2,1085.6 955.3,1085.5 964.4,1085.3 973.5,1085.3 982.6,1085.4 991.8,1085.6 1000.9,1086.0 1010.0,1086.5 1019.1,1087.0 1028.2,1087.7 1037.3,1088.4 1046.4,1089.1 1055.5,1089.9 1064.6,1090.6 1073.7,1091.3 1082.8,1092.0 1092.0,1092.8 1101.1,1093.5 1110.2,1094.3 1119.3,1095.1 1128.4,1095.8 1137.5,1096.6 1146.6,1097.4 1155.7,1098.1 1164.8,1098.8 1173.9,1099.5 1183.1,1100.2 1192.2,1100.9 1201.3,1101.6 1210.4,1102.4 1219.5,1103.2 1228.6,1104.2 1237.7,1105.7 1248.0,1114.0" fill="none" stroke="#ff00ff" stroke-width="5.6" stroke-linejoin="round" stroke-linecap="round"/>
<use href="#mP" x="530.1" y="1102.0"/>
<use href="#mP" x="538.0" y="1169.5"/>
<use href="#mP" x="547.7" y="1190.5"/>
<use href="#mP" x="555.9" y="1198.4"/>
<use href="#mP" x="565.2" y="1200.1"/>
<use href="#mP" x="573.9" y="1199.2"/>
<use href="#mP" x="581.8" y="1196.6"/>
<use href="#mP" x="590.9" y="1191.8"/>
<use href="#mP" x="600.0" y="1187.0"/>
<use href="#mP" x="609.1" y="1182.2"/>
<use href="#mP" x="618.2" y="1177.5"/>
<use href="#mP" x="627.4" y="1172.9"/>
<use href="#mP" x="636.5" y="1168.4"/>
<use href="#mP" x="645.6" y="1163.9"/>
<use href="#mP" x="654.7" y="1159.3"/>
<use href="#mP" x="663.8" y="1154.7"/>
<use href="#mP" x="672.9" y="1150.1"/>
<use href="#mP" x="682.0" y="1145.6"/>
<use href="#mP" x="691.1" y="1141.1"/>
<use href="#mP" x="700.2" y="1136.7"/>
<use href="#mP" x="709.3" y="1132.3"/>
<use href="#mP" x="718.5" y="1128.2"/>
<use href="#mP" x="727.6" y="1124.3"/>
<use href="#mP" x="736.7" y="1120.7"/>
<use href="#mP" x="745.8" y="1117.4"/>
<use href="#mP" x="754.9" y="1114.4"/>
<use href="#mP" x="764.0" y="1111.5"/>
<use href="#mP" x="773.1" y="1108.8"/>
<use href="#mP" x="782.2" y="1106.2"/>
<use href="#mP" x="791.3" y="1103.6"/>
<use href="#mP" x="800.4" y="1101.2"/>
<use href="#mP" x="809.6" y="1099.0"/>
<use href="#mP" x="818.7" y="1096.9"/>
<use href="#mP" x="827.8" y="1095.0"/>
<use href="#mP" x="836.9" y="1093.4"/>
<use href="#mP" x="846.0" y="1091.9"/>
<use href="#mP" x="855.1" y="1090.7"/>
<use href="#mP" x="864.2" y="1089.7"/>
<use href="#mP" x="873.3" y="1088.9"/>
<use href="#mP" x="882.4" y="1088.2"/>
<use href="#mP" x="891.5" y="1087.6"/>
<use href="#mP" x="900.7" y="1087.2"/>
<use href="#mP" x="909.8" y="1086.8"/>
<use href="#mP" x="918.9" y="1086.5"/>
<use href="#mP" x="928.0" y="1086.1"/>
<use href="#mP" x="937.1" y="1085.9"/>
<use href="#mP" x="946.2" y="1085.6"/>
<use href="#mP" x="955.3" y="1085.5"/>
<use href="#mP" x="964.4" y="1085.3"/>
<use href="#mP" x="973.5" y="1085.3"/>
<use href="#mP" x="982.6" y="1085.4"/>
<use href="#mP" x="991.8" y="1085.6"/>
<use href="#mP" x="1000.9" y="1086.0"/>
<use href="#mP" x="1010.0" y="1086.5"/>
<use href="#mP" x="1019.1" y="1087.0"/>
<use href="#mP" x="1028.2" y="1087.7"/>
<use href="#mP" x="1037.3" y="1088.4"/>
<use href="#mP" x="1046.4" y="1089.1"/>
<use href="#mP" x="1055.5" y="1089.9"/>
<use href="#mP" x="1064.6" y="1090.6"/>
<use href="#mP" x="1073.7" y="1091.3"/>
<use href="#mP" x="1082.8" y="1092.0"/>
<use href="#mP" x="1092.0" y="1092.8"/>
<use href="#mP" x="1101.1" y="1093.5"/>
<use href="#mP" x="1110.2" y="1094.3"/>
<use href="#mP" x="1119.3" y="1095.1"/>
<use href="#mP" x="1128.4" y="1095.8"/>
<use href="#mP" x="1137.5" y="1096.6"/>
<use href="#mP" x="1146.6" y="1097.4"/>
<use href="#mP" x="1155.7" y="1098.1"/>
<use href="#mP" x="1164.8" y="1098.8"/>
<use href="#mP" x="1173.9" y="1099.5"/>
<use href="#mP" x="1183.1" y="1100.2"/>
<use href="#mP" x="1192.2" y="1100.9"/>
<use href="#mP" x="1201.3" y="1101.6"/>
<use href="#mP" x="1210.4" y="1102.4"/>
<use href="#mP" x="1219.5" y="1103.2"/>
<use href="#mP" x="1228.6" y="1104.2"/>
<use href="#mP" x="1237.7" y="1105.7"/>
<use href="#mP" x="1248.0" y="1114.0"/>
</g>
<rect x="521.10" y="745.50" width="726.40" height="614.20" fill="none" stroke="#000" stroke-width="2.80"/>
<rect x="781.70" y="750.50" width="391.50" height="288.10" fill="#fff" stroke="#000" stroke-width="1.8"/>
<line x1="777.10" y1="1035.00" x2="781.70" y2="1035.00" stroke="#000" stroke-width="1.60"/>
<line x1="777.10" y1="997.01" x2="781.70" y2="997.01" stroke="#000" stroke-width="1.60"/>
<line x1="777.10" y1="959.03" x2="781.70" y2="959.03" stroke="#000" stroke-width="1.60"/>
<line x1="777.10" y1="921.04" x2="781.70" y2="921.04" stroke="#000" stroke-width="1.60"/>
<line x1="777.10" y1="883.06" x2="781.70" y2="883.06" stroke="#000" stroke-width="1.60"/>
<line x1="777.10" y1="845.07" x2="781.70" y2="845.07" stroke="#000" stroke-width="1.60"/>
<line x1="777.10" y1="807.09" x2="781.70" y2="807.09" stroke="#000" stroke-width="1.60"/>
<line x1="777.10" y1="769.10" x2="781.70" y2="769.10" stroke="#000" stroke-width="1.60"/>
<line x1="779.10" y1="1016.01" x2="781.70" y2="1016.01" stroke="#000" stroke-width="1.60"/>
<line x1="779.10" y1="978.02" x2="781.70" y2="978.02" stroke="#000" stroke-width="1.60"/>
<line x1="779.10" y1="940.04" x2="781.70" y2="940.04" stroke="#000" stroke-width="1.60"/>
<line x1="779.10" y1="902.05" x2="781.70" y2="902.05" stroke="#000" stroke-width="1.60"/>
<line x1="779.10" y1="864.06" x2="781.70" y2="864.06" stroke="#000" stroke-width="1.60"/>
<line x1="779.10" y1="826.08" x2="781.70" y2="826.08" stroke="#000" stroke-width="1.60"/>
<line x1="779.10" y1="788.09" x2="781.70" y2="788.09" stroke="#000" stroke-width="1.60"/>
<line x1="786.40" y1="1038.60" x2="786.40" y2="1043.20" stroke="#000" stroke-width="1.60"/>
<line x1="863.76" y1="1038.60" x2="863.76" y2="1043.20" stroke="#000" stroke-width="1.60"/>
<line x1="941.12" y1="1038.60" x2="941.12" y2="1043.20" stroke="#000" stroke-width="1.60"/>
<line x1="1018.48" y1="1038.60" x2="1018.48" y2="1043.20" stroke="#000" stroke-width="1.60"/>
<line x1="1095.84" y1="1038.60" x2="1095.84" y2="1043.20" stroke="#000" stroke-width="1.60"/>
<line x1="1173.20" y1="1038.60" x2="1173.20" y2="1043.20" stroke="#000" stroke-width="1.60"/>
<line x1="825.08" y1="1038.60" x2="825.08" y2="1041.20" stroke="#000" stroke-width="1.60"/>
<line x1="902.44" y1="1038.60" x2="902.44" y2="1041.20" stroke="#000" stroke-width="1.60"/>
<line x1="979.80" y1="1038.60" x2="979.80" y2="1041.20" stroke="#000" stroke-width="1.60"/>
<line x1="1057.16" y1="1038.60" x2="1057.16" y2="1041.20" stroke="#000" stroke-width="1.60"/>
<line x1="1134.52" y1="1038.60" x2="1134.52" y2="1041.20" stroke="#000" stroke-width="1.60"/>
<text transform="translate(753.62,1039.90) scale(1.0000,1)" font-size="14.30">0.0</text>
<text transform="translate(753.62,1001.91) scale(1.0000,1)" font-size="14.30">0.2</text>
<text transform="translate(753.62,963.93) scale(1.0000,1)" font-size="14.30">0.4</text>
<text transform="translate(753.62,925.94) scale(1.0000,1)" font-size="14.30">0.6</text>
<text transform="translate(753.62,887.96) scale(1.0000,1)" font-size="14.30">0.8</text>
<text transform="translate(753.62,849.97) scale(1.0000,1)" font-size="14.30">1.0</text>
<text transform="translate(753.62,811.99) scale(1.0000,1)" font-size="14.30">1.2</text>
<text transform="translate(753.62,774.00) scale(1.0000,1)" font-size="14.30">1.4</text>
<text transform="translate(776.46,1060.50) scale(1.0000,1)" font-size="14.30">0.0</text>
<text transform="translate(841.89,1060.50) scale(1.0000,1)" font-size="14.30">200.0k</text>
<text transform="translate(919.25,1060.50) scale(1.0000,1)" font-size="14.30">400.0k</text>
<text transform="translate(996.61,1060.50) scale(1.0000,1)" font-size="14.30">600.0k</text>
<text transform="translate(1073.97,1060.50) scale(1.0000,1)" font-size="14.30">800.0k</text>
<text transform="translate(1157.31,1060.50) scale(1.0000,1)" font-size="14.30">1.0M</text>
<path d="M790.0,1031.7 L791.0,1031.8 L792.5,1031.9 L794.2,1032.0 L796.1,1032.2 L798.0,1032.3 L800.0,1032.5 L802.0,1032.7 L804.1,1032.9 L806.2,1033.1 L808.5,1033.3 L810.8,1033.5 L813.3,1033.6 L815.3,1033.7 L816.6,1033.8 L818.1,1033.9 L820.4,1033.9 L824.1,1034.0 L830.0,1034.0 L838.2,1034.0 L848.3,1034.0 L859.8,1034.0 L872.5,1034.0 L886.0,1034.0 L900.0,1034.0 L914.1,1034.1 L928.4,1034.1 L943.6,1034.2 L960.2,1034.4 L978.8,1034.4 L1000.0,1034.5 L1026.5,1034.5 L1058.4,1034.5 L1092.2,1034.5 L1124.7,1034.5 L1152.5,1034.5 L1172.0,1034.5" fill="none" stroke="#000" stroke-width="5.0" stroke-linejoin="round" stroke-linecap="round"/>
<path d="M790.0,1031.7 L791.0,1031.8 L792.5,1031.9 L794.2,1032.0 L796.1,1032.2 L798.0,1032.3 L800.0,1032.5 L802.0,1032.7 L804.1,1032.9 L806.2,1033.1 L808.5,1033.3 L810.8,1033.5 L813.3,1033.6 L815.3,1033.7 L816.6,1033.8 L818.1,1033.9 L820.4,1033.9 L824.1,1034.0 L830.0,1034.0 L838.2,1034.0 L848.3,1034.0 L859.8,1034.0 L872.5,1034.0 L886.0,1034.0 L900.0,1034.0 L914.1,1034.1 L928.4,1034.1 L943.6,1034.2 L960.2,1034.4 L978.8,1034.4 L1000.0,1034.5 L1026.5,1034.5 L1058.4,1034.5 L1092.2,1034.5 L1124.7,1034.5 L1152.5,1034.5 L1172.0,1034.5" fill="none" stroke="#fff" stroke-width="1.6" stroke-dasharray="1.4 4.2" transform="translate(0,-0.8)"/>
<polyline points="787.2,765.6 788.6,896.4 789.9,939.0 790.7,962.3 791.5,975.4 792.5,983.7 793.5,991.9" fill="none" stroke="#e01515" stroke-width="3.4" stroke-linejoin="round" stroke-linecap="round"/>
<path d="M793.5,991.9 L793.8,992.9 L794.1,994.2 L794.5,995.8 L795.0,997.5 L795.8,999.5 L796.8,1001.5 L798.1,1003.8 L799.7,1006.4 L801.5,1009.2 L803.4,1012.0 L805.6,1014.5 L807.8,1016.6 L810.0,1018.2 L812.3,1019.5 L814.7,1020.6 L817.4,1021.6 L820.5,1022.5 L824.3,1023.5 L828.9,1024.6 L834.3,1025.7 L840.1,1026.8 L846.0,1027.8 L851.8,1028.7 L857.2,1029.5 L861.8,1030.1 L865.7,1030.7 L869.5,1031.1 L873.6,1031.5 L878.5,1031.8 L884.6,1032.0 L891.8,1032.2 L899.8,1032.3 L908.6,1032.3 L918.2,1032.3 L928.4,1032.2 L939.5,1032.2 L951.6,1032.1 L964.9,1032.0 L978.9,1031.8 L993.4,1031.7 L1007.8,1031.6 L1021.8,1031.6 L1035.7,1031.7 L1049.7,1032.0 L1063.8,1032.3 L1077.7,1032.6 L1091.2,1032.8 L1104.1,1033.0 L1117.1,1033.0 L1130.5,1033.0 L1143.5,1032.9 L1155.4,1032.8 L1165.4,1032.7 L1172.7,1032.6" fill="none" stroke="#ec1515" stroke-width="7.0" stroke-linejoin="round" stroke-linecap="round"/>
<path d="M793.5,991.9 L793.8,992.9 L794.1,994.2 L794.5,995.8 L795.0,997.5 L795.8,999.5 L796.8,1001.5 L798.1,1003.8 L799.7,1006.4 L801.5,1009.2 L803.4,1012.0 L805.6,1014.5 L807.8,1016.6 L810.0,1018.2 L812.3,1019.5 L814.7,1020.6 L817.4,1021.6 L820.5,1022.5 L824.3,1023.5 L828.9,1024.6 L834.3,1025.7 L840.1,1026.8 L846.0,1027.8 L851.8,1028.7 L857.2,1029.5 L861.8,1030.1 L865.7,1030.7 L869.5,1031.1 L873.6,1031.5 L878.5,1031.8 L884.6,1032.0 L891.8,1032.2 L899.8,1032.3 L908.6,1032.3 L918.2,1032.3 L928.4,1032.2 L939.5,1032.2 L951.6,1032.1 L964.9,1032.0 L978.9,1031.8 L993.4,1031.7 L1007.8,1031.6 L1021.8,1031.6 L1035.7,1031.7 L1049.7,1032.0 L1063.8,1032.3 L1077.7,1032.6 L1091.2,1032.8 L1104.1,1033.0 L1117.1,1033.0 L1130.5,1033.0 L1143.5,1032.9 L1155.4,1032.8 L1165.4,1032.7 L1172.7,1032.6" fill="none" stroke="#ffb0b0" stroke-width="1.4" stroke-dasharray="1 3" opacity="0.8" transform="translate(0,-1.2)"/>
<use href="#mR" x="787.2" y="765.6"/>
<use href="#mR" x="788.6" y="896.4"/>
<use href="#mR" x="789.9" y="939.0"/>
<use href="#mR" x="790.7" y="962.3"/>
<use href="#mR" x="791.5" y="975.4"/>
<use href="#mR" x="792.5" y="983.7"/>
<use href="#mR" x="793.5" y="991.9"/>
<text transform="translate(919.19,1076.00) scale(0.9768,1)" font-size="17.00">Frequency (Hz)</text>
<text transform="translate(746.00,973.69) rotate(-90) translate(0.00,0) scale(0.9830,1)" font-size="15.00">Dielectric constant (<tspan font-weight="normal">ε</tspan>'')</text>
<line x1="1011.20" y1="762.80" x2="1046.00" y2="762.80" stroke="#000000" stroke-width="3.60" stroke-linecap="round"/>
<use href="#mK" x="1028.6" y="762.8"/>
<text transform="translate(1051.32,769.50) scale(0.9541,1)" font-size="17.50">Cu<tspan dy="4.38" font-size="10.15">2</tspan><tspan dy="-4.38">O/TiO</tspan><tspan dy="4.38" font-size="10.15">2</tspan><tspan dy="-4.38"> RT</tspan></text>
<line x1="1011.10" y1="785.60" x2="1046.10" y2="785.60" stroke="#e01010" stroke-width="3.40" stroke-linecap="round"/>
<use href="#mR" x="1028.6" y="785.6"/>
<text transform="translate(1051.32,792.30) scale(0.9541,1)" font-size="17.50">Cu<tspan dy="4.38" font-size="10.15">2</tspan><tspan dy="-4.38">O/TiO</tspan><tspan dy="4.38" font-size="10.15">2</tspan><tspan dy="-4.38"> 100</tspan></text>
<text transform="translate(774.77,1437.60) scale(1.0235,1)" font-size="29.70">Frequency (Hz)</text>
<text transform="translate(457.00,1222.61) rotate(-90) translate(0.00,0) scale(1.0675,1)" font-size="29.50">Dielectric constant (<tspan font-weight="normal">ε</tspan>'')</text>
<text transform="translate(528.12,785.80) scale(1.0081,1)" font-size="30.00">c)</text>
<line x1="923.90" y1="1227.50" x2="992.00" y2="1227.50" stroke="#0000ff" stroke-width="6.40" stroke-linecap="round"/>
<use href="#mBL" x="958.0" y="1227.5"/>
<text transform="translate(1001.03,1238.40) scale(0.9766,1)" font-size="31.60">Cu<tspan dy="8.69" font-size="18.96">2</tspan><tspan dy="-8.69">O/TiO</tspan><tspan dy="8.69" font-size="18.96">2</tspan><tspan dy="-8.69"> 150</tspan></text>
<line x1="923.90" y1="1274.60" x2="992.00" y2="1274.60" stroke="#008000" stroke-width="6.40" stroke-linecap="round"/>
<use href="#mGL" x="958.0" y="1274.6"/>
<text transform="translate(1001.03,1285.50) scale(0.9766,1)" font-size="31.60">Cu<tspan dy="8.69" font-size="18.96">2</tspan><tspan dy="-8.69">O/TiO</tspan><tspan dy="8.69" font-size="18.96">2</tspan><tspan dy="-8.69"> 200</tspan></text>
<line x1="923.90" y1="1322.70" x2="992.00" y2="1322.70" stroke="#ff00ff" stroke-width="6.40" stroke-linecap="round"/>
<use href="#mPL" x="958.0" y="1322.7"/>
<text transform="translate(1001.03,1333.60) scale(0.9766,1)" font-size="31.60">CuO/TiO<tspan dy="8.69" font-size="18.96">2</tspan><tspan dy="-8.69"> 250</tspan></text>
</svg></body></html>
